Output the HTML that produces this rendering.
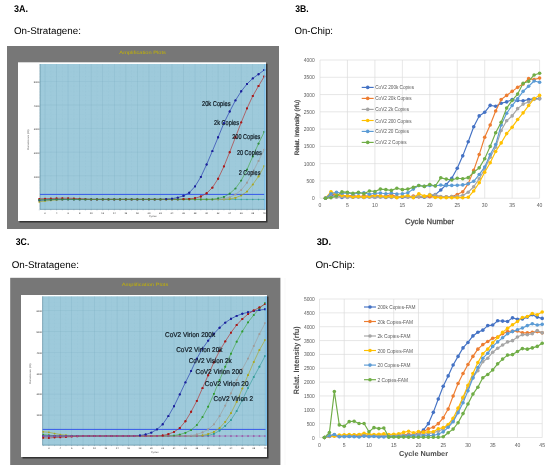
<!DOCTYPE html>
<html lang="en"><head><meta charset="utf-8"><title>Figure 3</title>
<style>
html,body{margin:0;padding:0;background:#fff;}
body{width:550px;height:473px;overflow:hidden;}
svg{display:block;}
svg text{font-family:"Liberation Sans",Arial,sans-serif;text-rendering:geometricPrecision;}
</style></head>
<body>
<svg width="550" height="473" viewBox="0 0 550 473">
<rect width="550" height="473" fill="#ffffff"/>
<text x="14" y="11.7" font-size="9.8" fill="#000" font-weight="bold" text-anchor="start" textLength="14" lengthAdjust="spacingAndGlyphs" >3A.</text>
<text x="14" y="34.4" font-size="9.8" fill="#000" font-weight="normal" text-anchor="start" textLength="66.9" lengthAdjust="spacingAndGlyphs" >On-Stratagene:</text>
<text x="295.3" y="11.7" font-size="9.8" fill="#000" font-weight="bold" text-anchor="start" textLength="13.4" lengthAdjust="spacingAndGlyphs" >3B.</text>
<text x="294.5" y="34.4" font-size="9.8" fill="#000" font-weight="normal" text-anchor="start" textLength="38.5" lengthAdjust="spacingAndGlyphs" >On-Chip:</text>
<text x="15.8" y="244.5" font-size="9.8" fill="#000" font-weight="bold" text-anchor="start" textLength="13.5" lengthAdjust="spacingAndGlyphs" >3C.</text>
<text x="11.7" y="268" font-size="9.8" fill="#000" font-weight="normal" text-anchor="start" textLength="67.2" lengthAdjust="spacingAndGlyphs" >On-Stratagene:</text>
<text x="316.7" y="244.5" font-size="9.8" fill="#000" font-weight="bold" text-anchor="start" textLength="14.5" lengthAdjust="spacingAndGlyphs" >3D.</text>
<text x="315.4" y="268" font-size="9.8" fill="#000" font-weight="normal" text-anchor="start" textLength="39.5" lengthAdjust="spacingAndGlyphs" >On-Chip:</text>
<rect x="7" y="46" width="272" height="183" fill="#777777"/>
<rect x="19.5" y="63.8" width="248" height="158.7" fill="#333"/>
<rect x="18" y="62.3" width="248" height="158.7" fill="#ffffff"/>
<rect x="40" y="64" width="225.60000000000002" height="145.4" fill="#9ecadb"/>
<text x="142.6" y="54" font-size="4.6" fill="#c4b400" font-weight="normal" text-anchor="middle" textLength="46.5" lengthAdjust="spacingAndGlyphs" >Amplification Plots</text>
<line x1="39.27" y1="64" x2="39.27" y2="209.4" stroke="#7fb0c4" stroke-width="0.4" stroke-dasharray="0.6 0.9" opacity="0.4"/>
<line x1="45.04" y1="64" x2="45.04" y2="209.4" stroke="#6fa3b8" stroke-width="0.45" opacity="0.5"/>
<line x1="50.81" y1="64" x2="50.81" y2="209.4" stroke="#7fb0c4" stroke-width="0.4" stroke-dasharray="0.6 0.9" opacity="0.4"/>
<line x1="56.58" y1="64" x2="56.58" y2="209.4" stroke="#6fa3b8" stroke-width="0.45" opacity="0.5"/>
<line x1="62.35" y1="64" x2="62.35" y2="209.4" stroke="#7fb0c4" stroke-width="0.4" stroke-dasharray="0.6 0.9" opacity="0.4"/>
<line x1="68.12" y1="64" x2="68.12" y2="209.4" stroke="#6fa3b8" stroke-width="0.45" opacity="0.5"/>
<line x1="73.89" y1="64" x2="73.89" y2="209.4" stroke="#7fb0c4" stroke-width="0.4" stroke-dasharray="0.6 0.9" opacity="0.4"/>
<line x1="79.66" y1="64" x2="79.66" y2="209.4" stroke="#6fa3b8" stroke-width="0.45" opacity="0.5"/>
<line x1="85.43" y1="64" x2="85.43" y2="209.4" stroke="#7fb0c4" stroke-width="0.4" stroke-dasharray="0.6 0.9" opacity="0.4"/>
<line x1="91.20" y1="64" x2="91.20" y2="209.4" stroke="#6fa3b8" stroke-width="0.45" opacity="0.5"/>
<line x1="96.97" y1="64" x2="96.97" y2="209.4" stroke="#7fb0c4" stroke-width="0.4" stroke-dasharray="0.6 0.9" opacity="0.4"/>
<line x1="102.74" y1="64" x2="102.74" y2="209.4" stroke="#6fa3b8" stroke-width="0.45" opacity="0.5"/>
<line x1="108.51" y1="64" x2="108.51" y2="209.4" stroke="#7fb0c4" stroke-width="0.4" stroke-dasharray="0.6 0.9" opacity="0.4"/>
<line x1="114.28" y1="64" x2="114.28" y2="209.4" stroke="#6fa3b8" stroke-width="0.45" opacity="0.5"/>
<line x1="120.05" y1="64" x2="120.05" y2="209.4" stroke="#7fb0c4" stroke-width="0.4" stroke-dasharray="0.6 0.9" opacity="0.4"/>
<line x1="125.82" y1="64" x2="125.82" y2="209.4" stroke="#6fa3b8" stroke-width="0.45" opacity="0.5"/>
<line x1="131.59" y1="64" x2="131.59" y2="209.4" stroke="#7fb0c4" stroke-width="0.4" stroke-dasharray="0.6 0.9" opacity="0.4"/>
<line x1="137.36" y1="64" x2="137.36" y2="209.4" stroke="#6fa3b8" stroke-width="0.45" opacity="0.5"/>
<line x1="143.13" y1="64" x2="143.13" y2="209.4" stroke="#7fb0c4" stroke-width="0.4" stroke-dasharray="0.6 0.9" opacity="0.4"/>
<line x1="148.90" y1="64" x2="148.90" y2="209.4" stroke="#6fa3b8" stroke-width="0.45" opacity="0.5"/>
<line x1="154.67" y1="64" x2="154.67" y2="209.4" stroke="#7fb0c4" stroke-width="0.4" stroke-dasharray="0.6 0.9" opacity="0.4"/>
<line x1="160.44" y1="64" x2="160.44" y2="209.4" stroke="#6fa3b8" stroke-width="0.45" opacity="0.5"/>
<line x1="166.21" y1="64" x2="166.21" y2="209.4" stroke="#7fb0c4" stroke-width="0.4" stroke-dasharray="0.6 0.9" opacity="0.4"/>
<line x1="171.98" y1="64" x2="171.98" y2="209.4" stroke="#6fa3b8" stroke-width="0.45" opacity="0.5"/>
<line x1="177.75" y1="64" x2="177.75" y2="209.4" stroke="#7fb0c4" stroke-width="0.4" stroke-dasharray="0.6 0.9" opacity="0.4"/>
<line x1="183.52" y1="64" x2="183.52" y2="209.4" stroke="#6fa3b8" stroke-width="0.45" opacity="0.5"/>
<line x1="189.29" y1="64" x2="189.29" y2="209.4" stroke="#7fb0c4" stroke-width="0.4" stroke-dasharray="0.6 0.9" opacity="0.4"/>
<line x1="195.06" y1="64" x2="195.06" y2="209.4" stroke="#6fa3b8" stroke-width="0.45" opacity="0.5"/>
<line x1="200.83" y1="64" x2="200.83" y2="209.4" stroke="#7fb0c4" stroke-width="0.4" stroke-dasharray="0.6 0.9" opacity="0.4"/>
<line x1="206.60" y1="64" x2="206.60" y2="209.4" stroke="#6fa3b8" stroke-width="0.45" opacity="0.5"/>
<line x1="212.37" y1="64" x2="212.37" y2="209.4" stroke="#7fb0c4" stroke-width="0.4" stroke-dasharray="0.6 0.9" opacity="0.4"/>
<line x1="218.14" y1="64" x2="218.14" y2="209.4" stroke="#6fa3b8" stroke-width="0.45" opacity="0.5"/>
<line x1="223.91" y1="64" x2="223.91" y2="209.4" stroke="#7fb0c4" stroke-width="0.4" stroke-dasharray="0.6 0.9" opacity="0.4"/>
<line x1="229.68" y1="64" x2="229.68" y2="209.4" stroke="#6fa3b8" stroke-width="0.45" opacity="0.5"/>
<line x1="235.45" y1="64" x2="235.45" y2="209.4" stroke="#7fb0c4" stroke-width="0.4" stroke-dasharray="0.6 0.9" opacity="0.4"/>
<line x1="241.22" y1="64" x2="241.22" y2="209.4" stroke="#6fa3b8" stroke-width="0.45" opacity="0.5"/>
<line x1="246.99" y1="64" x2="246.99" y2="209.4" stroke="#7fb0c4" stroke-width="0.4" stroke-dasharray="0.6 0.9" opacity="0.4"/>
<line x1="252.76" y1="64" x2="252.76" y2="209.4" stroke="#6fa3b8" stroke-width="0.45" opacity="0.5"/>
<line x1="258.53" y1="64" x2="258.53" y2="209.4" stroke="#7fb0c4" stroke-width="0.4" stroke-dasharray="0.6 0.9" opacity="0.4"/>
<line x1="264.30" y1="64" x2="264.30" y2="209.4" stroke="#6fa3b8" stroke-width="0.45" opacity="0.5"/>
<line x1="40" y1="208.84" x2="265.6" y2="208.84" stroke="#86b6c9" stroke-width="0.35" stroke-dasharray="0.6 0.9" opacity="0.3"/>
<line x1="40" y1="204.12" x2="265.6" y2="204.12" stroke="#86b6c9" stroke-width="0.35" stroke-dasharray="0.6 0.9" opacity="0.3"/>
<line x1="40" y1="199.40" x2="265.6" y2="199.40" stroke="#6fa3b8" stroke-width="0.45" opacity="0.4"/>
<line x1="40" y1="194.68" x2="265.6" y2="194.68" stroke="#86b6c9" stroke-width="0.35" stroke-dasharray="0.6 0.9" opacity="0.3"/>
<line x1="40" y1="189.96" x2="265.6" y2="189.96" stroke="#86b6c9" stroke-width="0.35" stroke-dasharray="0.6 0.9" opacity="0.3"/>
<line x1="40" y1="185.24" x2="265.6" y2="185.24" stroke="#86b6c9" stroke-width="0.35" stroke-dasharray="0.6 0.9" opacity="0.3"/>
<line x1="40" y1="180.52" x2="265.6" y2="180.52" stroke="#86b6c9" stroke-width="0.35" stroke-dasharray="0.6 0.9" opacity="0.3"/>
<line x1="40" y1="175.80" x2="265.6" y2="175.80" stroke="#6fa3b8" stroke-width="0.45" opacity="0.4"/>
<line x1="40" y1="171.08" x2="265.6" y2="171.08" stroke="#86b6c9" stroke-width="0.35" stroke-dasharray="0.6 0.9" opacity="0.3"/>
<line x1="40" y1="166.36" x2="265.6" y2="166.36" stroke="#86b6c9" stroke-width="0.35" stroke-dasharray="0.6 0.9" opacity="0.3"/>
<line x1="40" y1="161.64" x2="265.6" y2="161.64" stroke="#86b6c9" stroke-width="0.35" stroke-dasharray="0.6 0.9" opacity="0.3"/>
<line x1="40" y1="156.92" x2="265.6" y2="156.92" stroke="#86b6c9" stroke-width="0.35" stroke-dasharray="0.6 0.9" opacity="0.3"/>
<line x1="40" y1="152.20" x2="265.6" y2="152.20" stroke="#6fa3b8" stroke-width="0.45" opacity="0.4"/>
<line x1="40" y1="147.48" x2="265.6" y2="147.48" stroke="#86b6c9" stroke-width="0.35" stroke-dasharray="0.6 0.9" opacity="0.3"/>
<line x1="40" y1="142.76" x2="265.6" y2="142.76" stroke="#86b6c9" stroke-width="0.35" stroke-dasharray="0.6 0.9" opacity="0.3"/>
<line x1="40" y1="138.04" x2="265.6" y2="138.04" stroke="#86b6c9" stroke-width="0.35" stroke-dasharray="0.6 0.9" opacity="0.3"/>
<line x1="40" y1="133.32" x2="265.6" y2="133.32" stroke="#86b6c9" stroke-width="0.35" stroke-dasharray="0.6 0.9" opacity="0.3"/>
<line x1="40" y1="128.60" x2="265.6" y2="128.60" stroke="#6fa3b8" stroke-width="0.45" opacity="0.4"/>
<line x1="40" y1="123.88" x2="265.6" y2="123.88" stroke="#86b6c9" stroke-width="0.35" stroke-dasharray="0.6 0.9" opacity="0.3"/>
<line x1="40" y1="119.16" x2="265.6" y2="119.16" stroke="#86b6c9" stroke-width="0.35" stroke-dasharray="0.6 0.9" opacity="0.3"/>
<line x1="40" y1="114.44" x2="265.6" y2="114.44" stroke="#86b6c9" stroke-width="0.35" stroke-dasharray="0.6 0.9" opacity="0.3"/>
<line x1="40" y1="109.72" x2="265.6" y2="109.72" stroke="#86b6c9" stroke-width="0.35" stroke-dasharray="0.6 0.9" opacity="0.3"/>
<line x1="40" y1="105.00" x2="265.6" y2="105.00" stroke="#6fa3b8" stroke-width="0.45" opacity="0.4"/>
<line x1="40" y1="100.28" x2="265.6" y2="100.28" stroke="#86b6c9" stroke-width="0.35" stroke-dasharray="0.6 0.9" opacity="0.3"/>
<line x1="40" y1="95.56" x2="265.6" y2="95.56" stroke="#86b6c9" stroke-width="0.35" stroke-dasharray="0.6 0.9" opacity="0.3"/>
<line x1="40" y1="90.84" x2="265.6" y2="90.84" stroke="#86b6c9" stroke-width="0.35" stroke-dasharray="0.6 0.9" opacity="0.3"/>
<line x1="40" y1="86.12" x2="265.6" y2="86.12" stroke="#86b6c9" stroke-width="0.35" stroke-dasharray="0.6 0.9" opacity="0.3"/>
<line x1="40" y1="81.40" x2="265.6" y2="81.40" stroke="#6fa3b8" stroke-width="0.45" opacity="0.4"/>
<line x1="40" y1="76.68" x2="265.6" y2="76.68" stroke="#86b6c9" stroke-width="0.35" stroke-dasharray="0.6 0.9" opacity="0.3"/>
<line x1="40" y1="71.96" x2="265.6" y2="71.96" stroke="#86b6c9" stroke-width="0.35" stroke-dasharray="0.6 0.9" opacity="0.3"/>
<line x1="40" y1="67.24" x2="265.6" y2="67.24" stroke="#86b6c9" stroke-width="0.35" stroke-dasharray="0.6 0.9" opacity="0.3"/>
<line x1="40" y1="64" x2="40" y2="209.4" stroke="#4d7f95" stroke-width="0.6"/>
<line x1="40" y1="209.4" x2="265.6" y2="209.4" stroke="#4d7f95" stroke-width="0.6"/>
<text x="39.4" y="177.50000000000003" font-size="2.5" fill="#333" font-weight="normal" text-anchor="end" >1000</text>
<text x="39.4" y="153.9" font-size="2.5" fill="#333" font-weight="normal" text-anchor="end" >2000</text>
<text x="39.4" y="130.3" font-size="2.5" fill="#333" font-weight="normal" text-anchor="end" >3000</text>
<text x="39.4" y="106.7" font-size="2.5" fill="#333" font-weight="normal" text-anchor="end" >4000</text>
<text x="39.4" y="83.10000000000001" font-size="2.5" fill="#333" font-weight="normal" text-anchor="end" >5000</text>
<text x="45.04" y="213.5" font-size="2.5" fill="#333" font-weight="normal" text-anchor="middle" >2</text>
<text x="56.58" y="213.5" font-size="2.5" fill="#333" font-weight="normal" text-anchor="middle" >4</text>
<text x="68.12" y="213.5" font-size="2.5" fill="#333" font-weight="normal" text-anchor="middle" >6</text>
<text x="79.66" y="213.5" font-size="2.5" fill="#333" font-weight="normal" text-anchor="middle" >8</text>
<text x="91.20" y="213.5" font-size="2.5" fill="#333" font-weight="normal" text-anchor="middle" >10</text>
<text x="102.74" y="213.5" font-size="2.5" fill="#333" font-weight="normal" text-anchor="middle" >12</text>
<text x="114.28" y="213.5" font-size="2.5" fill="#333" font-weight="normal" text-anchor="middle" >14</text>
<text x="125.82" y="213.5" font-size="2.5" fill="#333" font-weight="normal" text-anchor="middle" >16</text>
<text x="137.36" y="213.5" font-size="2.5" fill="#333" font-weight="normal" text-anchor="middle" >18</text>
<text x="148.90" y="213.5" font-size="2.5" fill="#333" font-weight="normal" text-anchor="middle" >20</text>
<text x="160.44" y="213.5" font-size="2.5" fill="#333" font-weight="normal" text-anchor="middle" >22</text>
<text x="171.98" y="213.5" font-size="2.5" fill="#333" font-weight="normal" text-anchor="middle" >24</text>
<text x="183.52" y="213.5" font-size="2.5" fill="#333" font-weight="normal" text-anchor="middle" >26</text>
<text x="195.06" y="213.5" font-size="2.5" fill="#333" font-weight="normal" text-anchor="middle" >28</text>
<text x="206.60" y="213.5" font-size="2.5" fill="#333" font-weight="normal" text-anchor="middle" >30</text>
<text x="218.14" y="213.5" font-size="2.5" fill="#333" font-weight="normal" text-anchor="middle" >32</text>
<text x="229.68" y="213.5" font-size="2.5" fill="#333" font-weight="normal" text-anchor="middle" >34</text>
<text x="241.22" y="213.5" font-size="2.5" fill="#333" font-weight="normal" text-anchor="middle" >36</text>
<text x="252.76" y="213.5" font-size="2.5" fill="#333" font-weight="normal" text-anchor="middle" >38</text>
<text x="264.30" y="213.5" font-size="2.5" fill="#333" font-weight="normal" text-anchor="middle" >40</text>
<line x1="39.27" y1="209.4" x2="39.27" y2="210.3" stroke="#4d7f95" stroke-width="0.4"/>
<line x1="45.04" y1="209.4" x2="45.04" y2="210.3" stroke="#4d7f95" stroke-width="0.4"/>
<line x1="50.81" y1="209.4" x2="50.81" y2="210.3" stroke="#4d7f95" stroke-width="0.4"/>
<line x1="56.58" y1="209.4" x2="56.58" y2="210.3" stroke="#4d7f95" stroke-width="0.4"/>
<line x1="62.35" y1="209.4" x2="62.35" y2="210.3" stroke="#4d7f95" stroke-width="0.4"/>
<line x1="68.12" y1="209.4" x2="68.12" y2="210.3" stroke="#4d7f95" stroke-width="0.4"/>
<line x1="73.89" y1="209.4" x2="73.89" y2="210.3" stroke="#4d7f95" stroke-width="0.4"/>
<line x1="79.66" y1="209.4" x2="79.66" y2="210.3" stroke="#4d7f95" stroke-width="0.4"/>
<line x1="85.43" y1="209.4" x2="85.43" y2="210.3" stroke="#4d7f95" stroke-width="0.4"/>
<line x1="91.20" y1="209.4" x2="91.20" y2="210.3" stroke="#4d7f95" stroke-width="0.4"/>
<line x1="96.97" y1="209.4" x2="96.97" y2="210.3" stroke="#4d7f95" stroke-width="0.4"/>
<line x1="102.74" y1="209.4" x2="102.74" y2="210.3" stroke="#4d7f95" stroke-width="0.4"/>
<line x1="108.51" y1="209.4" x2="108.51" y2="210.3" stroke="#4d7f95" stroke-width="0.4"/>
<line x1="114.28" y1="209.4" x2="114.28" y2="210.3" stroke="#4d7f95" stroke-width="0.4"/>
<line x1="120.05" y1="209.4" x2="120.05" y2="210.3" stroke="#4d7f95" stroke-width="0.4"/>
<line x1="125.82" y1="209.4" x2="125.82" y2="210.3" stroke="#4d7f95" stroke-width="0.4"/>
<line x1="131.59" y1="209.4" x2="131.59" y2="210.3" stroke="#4d7f95" stroke-width="0.4"/>
<line x1="137.36" y1="209.4" x2="137.36" y2="210.3" stroke="#4d7f95" stroke-width="0.4"/>
<line x1="143.13" y1="209.4" x2="143.13" y2="210.3" stroke="#4d7f95" stroke-width="0.4"/>
<line x1="148.90" y1="209.4" x2="148.90" y2="210.3" stroke="#4d7f95" stroke-width="0.4"/>
<line x1="154.67" y1="209.4" x2="154.67" y2="210.3" stroke="#4d7f95" stroke-width="0.4"/>
<line x1="160.44" y1="209.4" x2="160.44" y2="210.3" stroke="#4d7f95" stroke-width="0.4"/>
<line x1="166.21" y1="209.4" x2="166.21" y2="210.3" stroke="#4d7f95" stroke-width="0.4"/>
<line x1="171.98" y1="209.4" x2="171.98" y2="210.3" stroke="#4d7f95" stroke-width="0.4"/>
<line x1="177.75" y1="209.4" x2="177.75" y2="210.3" stroke="#4d7f95" stroke-width="0.4"/>
<line x1="183.52" y1="209.4" x2="183.52" y2="210.3" stroke="#4d7f95" stroke-width="0.4"/>
<line x1="189.29" y1="209.4" x2="189.29" y2="210.3" stroke="#4d7f95" stroke-width="0.4"/>
<line x1="195.06" y1="209.4" x2="195.06" y2="210.3" stroke="#4d7f95" stroke-width="0.4"/>
<line x1="200.83" y1="209.4" x2="200.83" y2="210.3" stroke="#4d7f95" stroke-width="0.4"/>
<line x1="206.60" y1="209.4" x2="206.60" y2="210.3" stroke="#4d7f95" stroke-width="0.4"/>
<line x1="212.37" y1="209.4" x2="212.37" y2="210.3" stroke="#4d7f95" stroke-width="0.4"/>
<line x1="218.14" y1="209.4" x2="218.14" y2="210.3" stroke="#4d7f95" stroke-width="0.4"/>
<line x1="223.91" y1="209.4" x2="223.91" y2="210.3" stroke="#4d7f95" stroke-width="0.4"/>
<line x1="229.68" y1="209.4" x2="229.68" y2="210.3" stroke="#4d7f95" stroke-width="0.4"/>
<line x1="235.45" y1="209.4" x2="235.45" y2="210.3" stroke="#4d7f95" stroke-width="0.4"/>
<line x1="241.22" y1="209.4" x2="241.22" y2="210.3" stroke="#4d7f95" stroke-width="0.4"/>
<line x1="246.99" y1="209.4" x2="246.99" y2="210.3" stroke="#4d7f95" stroke-width="0.4"/>
<line x1="252.76" y1="209.4" x2="252.76" y2="210.3" stroke="#4d7f95" stroke-width="0.4"/>
<line x1="258.53" y1="209.4" x2="258.53" y2="210.3" stroke="#4d7f95" stroke-width="0.4"/>
<line x1="264.30" y1="209.4" x2="264.30" y2="210.3" stroke="#4d7f95" stroke-width="0.4"/>
<text x="0" y="0" font-size="2.5" fill="#555" font-weight="normal" text-anchor="middle" transform="translate(28.5,139.7) rotate(-90)">Fluorescence (dR)</text>
<text x="152.8" y="217" font-size="2.5" fill="#555" font-weight="normal" text-anchor="middle" >Cycles</text>
<line x1="40" y1="194.4" x2="264.6" y2="194.4" stroke="#3558ea" stroke-width="1.0"/>
<polyline points="39.27,199.40 45.04,199.40 50.81,199.40 56.58,199.40 62.35,199.40 68.12,199.40 73.89,199.40 79.66,199.40 85.43,199.40 91.20,199.40 96.97,199.40 102.74,199.40 108.51,199.40 114.28,199.40 120.05,199.40 125.82,199.40 131.59,199.40 137.36,199.40 143.13,199.40 148.90,199.40 154.67,199.40 160.44,199.40 166.21,199.40 171.98,199.40 177.75,199.40 183.52,199.40 189.29,199.40 195.06,199.40 200.83,199.40 206.60,199.40 212.37,199.40 218.14,199.40 223.91,199.40 229.68,199.40 235.45,199.40 241.22,199.40 246.99,199.40 252.76,199.40 258.53,199.40 264.30,199.40" fill="none" stroke="#3fa39e" stroke-width="0.6" stroke-linejoin="round"/>
<rect x="38.52" y="198.65" width="1.5" height="1.5" rx="0.6" fill="#3a9f9a"/>
<rect x="44.29" y="198.65" width="1.5" height="1.5" rx="0.6" fill="#3a9f9a"/>
<rect x="50.06" y="198.65" width="1.5" height="1.5" rx="0.6" fill="#3a9f9a"/>
<rect x="55.83" y="198.65" width="1.5" height="1.5" rx="0.6" fill="#3a9f9a"/>
<rect x="61.60" y="198.65" width="1.5" height="1.5" rx="0.6" fill="#3a9f9a"/>
<rect x="67.37" y="198.65" width="1.5" height="1.5" rx="0.6" fill="#3a9f9a"/>
<rect x="73.14" y="198.65" width="1.5" height="1.5" rx="0.6" fill="#3a9f9a"/>
<rect x="78.91" y="198.65" width="1.5" height="1.5" rx="0.6" fill="#3a9f9a"/>
<rect x="84.68" y="198.65" width="1.5" height="1.5" rx="0.6" fill="#3a9f9a"/>
<rect x="90.45" y="198.65" width="1.5" height="1.5" rx="0.6" fill="#3a9f9a"/>
<rect x="96.22" y="198.65" width="1.5" height="1.5" rx="0.6" fill="#3a9f9a"/>
<rect x="101.99" y="198.65" width="1.5" height="1.5" rx="0.6" fill="#3a9f9a"/>
<rect x="107.76" y="198.65" width="1.5" height="1.5" rx="0.6" fill="#3a9f9a"/>
<rect x="113.53" y="198.65" width="1.5" height="1.5" rx="0.6" fill="#3a9f9a"/>
<rect x="119.30" y="198.65" width="1.5" height="1.5" rx="0.6" fill="#3a9f9a"/>
<rect x="125.07" y="198.65" width="1.5" height="1.5" rx="0.6" fill="#3a9f9a"/>
<rect x="130.84" y="198.65" width="1.5" height="1.5" rx="0.6" fill="#3a9f9a"/>
<rect x="136.61" y="198.65" width="1.5" height="1.5" rx="0.6" fill="#3a9f9a"/>
<rect x="142.38" y="198.65" width="1.5" height="1.5" rx="0.6" fill="#3a9f9a"/>
<rect x="148.15" y="198.65" width="1.5" height="1.5" rx="0.6" fill="#3a9f9a"/>
<rect x="153.92" y="198.65" width="1.5" height="1.5" rx="0.6" fill="#3a9f9a"/>
<rect x="159.69" y="198.65" width="1.5" height="1.5" rx="0.6" fill="#3a9f9a"/>
<rect x="165.46" y="198.65" width="1.5" height="1.5" rx="0.6" fill="#3a9f9a"/>
<rect x="171.23" y="198.65" width="1.5" height="1.5" rx="0.6" fill="#3a9f9a"/>
<rect x="177.00" y="198.65" width="1.5" height="1.5" rx="0.6" fill="#3a9f9a"/>
<rect x="182.77" y="198.65" width="1.5" height="1.5" rx="0.6" fill="#3a9f9a"/>
<rect x="188.54" y="198.65" width="1.5" height="1.5" rx="0.6" fill="#3a9f9a"/>
<rect x="194.31" y="198.65" width="1.5" height="1.5" rx="0.6" fill="#3a9f9a"/>
<rect x="200.08" y="198.65" width="1.5" height="1.5" rx="0.6" fill="#3a9f9a"/>
<rect x="205.85" y="198.65" width="1.5" height="1.5" rx="0.6" fill="#3a9f9a"/>
<rect x="211.62" y="198.65" width="1.5" height="1.5" rx="0.6" fill="#3a9f9a"/>
<rect x="217.39" y="198.65" width="1.5" height="1.5" rx="0.6" fill="#3a9f9a"/>
<rect x="223.16" y="198.65" width="1.5" height="1.5" rx="0.6" fill="#3a9f9a"/>
<rect x="228.93" y="198.65" width="1.5" height="1.5" rx="0.6" fill="#3a9f9a"/>
<rect x="234.70" y="198.65" width="1.5" height="1.5" rx="0.6" fill="#3a9f9a"/>
<rect x="240.47" y="198.65" width="1.5" height="1.5" rx="0.6" fill="#3a9f9a"/>
<rect x="246.24" y="198.65" width="1.5" height="1.5" rx="0.6" fill="#3a9f9a"/>
<rect x="252.01" y="198.65" width="1.5" height="1.5" rx="0.6" fill="#3a9f9a"/>
<rect x="257.78" y="198.65" width="1.5" height="1.5" rx="0.6" fill="#3a9f9a"/>
<rect x="263.55" y="198.65" width="1.5" height="1.5" rx="0.6" fill="#3a9f9a"/>
<polyline points="39.27,201.80 45.04,201.00 50.81,200.40 56.58,199.90 62.35,199.60 68.12,199.40 73.89,199.40 79.66,199.40 85.43,199.40 91.20,199.40 96.97,199.40 102.74,199.40 108.51,199.40 114.28,199.40 120.05,199.40 125.82,199.40 131.59,199.40 137.36,199.40 143.13,199.40 148.90,199.40 154.67,199.40 160.44,199.40 166.21,199.40 171.98,199.40 177.75,199.40 183.52,199.40 189.29,199.40 195.06,199.40 200.83,199.40 206.60,199.40 212.37,199.40 218.14,199.40 223.91,199.40 229.68,199.00 235.45,197.80 241.22,195.50 246.99,191.50 252.76,184.50 258.53,176.40 264.30,166.00" fill="none" stroke="#a9a51e" stroke-width="0.6" stroke-linejoin="round"/>
<rect x="38.42" y="200.95" width="1.7" height="1.7" rx="0.6" fill="#a9a51e"/>
<rect x="44.19" y="200.15" width="1.7" height="1.7" rx="0.6" fill="#a9a51e"/>
<rect x="49.96" y="199.55" width="1.7" height="1.7" rx="0.6" fill="#a9a51e"/>
<rect x="55.73" y="199.05" width="1.7" height="1.7" rx="0.6" fill="#a9a51e"/>
<rect x="61.50" y="198.75" width="1.7" height="1.7" rx="0.6" fill="#a9a51e"/>
<rect x="67.27" y="198.55" width="1.7" height="1.7" rx="0.6" fill="#a9a51e"/>
<rect x="73.04" y="198.55" width="1.7" height="1.7" rx="0.6" fill="#a9a51e"/>
<rect x="78.81" y="198.55" width="1.7" height="1.7" rx="0.6" fill="#a9a51e"/>
<rect x="84.58" y="198.55" width="1.7" height="1.7" rx="0.6" fill="#a9a51e"/>
<rect x="90.35" y="198.55" width="1.7" height="1.7" rx="0.6" fill="#a9a51e"/>
<rect x="96.12" y="198.55" width="1.7" height="1.7" rx="0.6" fill="#a9a51e"/>
<rect x="101.89" y="198.55" width="1.7" height="1.7" rx="0.6" fill="#a9a51e"/>
<rect x="107.66" y="198.55" width="1.7" height="1.7" rx="0.6" fill="#a9a51e"/>
<rect x="113.43" y="198.55" width="1.7" height="1.7" rx="0.6" fill="#a9a51e"/>
<rect x="119.20" y="198.55" width="1.7" height="1.7" rx="0.6" fill="#a9a51e"/>
<rect x="124.97" y="198.55" width="1.7" height="1.7" rx="0.6" fill="#a9a51e"/>
<rect x="130.74" y="198.55" width="1.7" height="1.7" rx="0.6" fill="#a9a51e"/>
<rect x="136.51" y="198.55" width="1.7" height="1.7" rx="0.6" fill="#a9a51e"/>
<rect x="142.28" y="198.55" width="1.7" height="1.7" rx="0.6" fill="#a9a51e"/>
<rect x="148.05" y="198.55" width="1.7" height="1.7" rx="0.6" fill="#a9a51e"/>
<rect x="153.82" y="198.55" width="1.7" height="1.7" rx="0.6" fill="#a9a51e"/>
<rect x="159.59" y="198.55" width="1.7" height="1.7" rx="0.6" fill="#a9a51e"/>
<rect x="165.36" y="198.55" width="1.7" height="1.7" rx="0.6" fill="#a9a51e"/>
<rect x="171.13" y="198.55" width="1.7" height="1.7" rx="0.6" fill="#a9a51e"/>
<rect x="176.90" y="198.55" width="1.7" height="1.7" rx="0.6" fill="#a9a51e"/>
<rect x="182.67" y="198.55" width="1.7" height="1.7" rx="0.6" fill="#a9a51e"/>
<rect x="188.44" y="198.55" width="1.7" height="1.7" rx="0.6" fill="#a9a51e"/>
<rect x="194.21" y="198.55" width="1.7" height="1.7" rx="0.6" fill="#a9a51e"/>
<rect x="199.98" y="198.55" width="1.7" height="1.7" rx="0.6" fill="#a9a51e"/>
<rect x="205.75" y="198.55" width="1.7" height="1.7" rx="0.6" fill="#a9a51e"/>
<rect x="211.52" y="198.55" width="1.7" height="1.7" rx="0.6" fill="#a9a51e"/>
<rect x="217.29" y="198.55" width="1.7" height="1.7" rx="0.6" fill="#a9a51e"/>
<rect x="223.06" y="198.55" width="1.7" height="1.7" rx="0.6" fill="#a9a51e"/>
<rect x="228.83" y="198.15" width="1.7" height="1.7" rx="0.6" fill="#a9a51e"/>
<rect x="234.60" y="196.95" width="1.7" height="1.7" rx="0.6" fill="#a9a51e"/>
<rect x="240.37" y="194.65" width="1.7" height="1.7" rx="0.6" fill="#a9a51e"/>
<rect x="246.14" y="190.65" width="1.7" height="1.7" rx="0.6" fill="#a9a51e"/>
<rect x="251.91" y="183.65" width="1.7" height="1.7" rx="0.6" fill="#a9a51e"/>
<rect x="257.68" y="175.55" width="1.7" height="1.7" rx="0.6" fill="#a9a51e"/>
<rect x="263.45" y="165.15" width="1.7" height="1.7" rx="0.6" fill="#a9a51e"/>
<polyline points="39.27,199.40 45.04,199.40 50.81,199.40 56.58,199.40 62.35,199.40 68.12,199.40 73.89,199.40 79.66,199.40 85.43,199.40 91.20,199.40 96.97,199.40 102.74,199.40 108.51,199.40 114.28,199.40 120.05,199.40 125.82,199.40 131.59,199.40 137.36,199.40 143.13,199.40 148.90,199.40 154.67,199.40 160.44,199.40 166.21,199.40 171.98,199.40 177.75,199.40 183.52,199.40 189.29,199.40 195.06,199.40 200.83,199.40 206.60,199.40 212.37,199.40 218.14,199.40 223.91,198.70 229.68,197.30 235.45,194.50 241.22,190.00 246.99,182.70 252.76,172.20 258.53,160.90 264.30,149.60" fill="none" stroke="#a09a98" stroke-width="0.6" stroke-linejoin="round"/>
<rect x="38.42" y="198.55" width="1.7" height="1.7" rx="0.6" fill="#a09a98"/>
<rect x="44.19" y="198.55" width="1.7" height="1.7" rx="0.6" fill="#a09a98"/>
<rect x="49.96" y="198.55" width="1.7" height="1.7" rx="0.6" fill="#a09a98"/>
<rect x="55.73" y="198.55" width="1.7" height="1.7" rx="0.6" fill="#a09a98"/>
<rect x="61.50" y="198.55" width="1.7" height="1.7" rx="0.6" fill="#a09a98"/>
<rect x="67.27" y="198.55" width="1.7" height="1.7" rx="0.6" fill="#a09a98"/>
<rect x="73.04" y="198.55" width="1.7" height="1.7" rx="0.6" fill="#a09a98"/>
<rect x="78.81" y="198.55" width="1.7" height="1.7" rx="0.6" fill="#a09a98"/>
<rect x="84.58" y="198.55" width="1.7" height="1.7" rx="0.6" fill="#a09a98"/>
<rect x="90.35" y="198.55" width="1.7" height="1.7" rx="0.6" fill="#a09a98"/>
<rect x="96.12" y="198.55" width="1.7" height="1.7" rx="0.6" fill="#a09a98"/>
<rect x="101.89" y="198.55" width="1.7" height="1.7" rx="0.6" fill="#a09a98"/>
<rect x="107.66" y="198.55" width="1.7" height="1.7" rx="0.6" fill="#a09a98"/>
<rect x="113.43" y="198.55" width="1.7" height="1.7" rx="0.6" fill="#a09a98"/>
<rect x="119.20" y="198.55" width="1.7" height="1.7" rx="0.6" fill="#a09a98"/>
<rect x="124.97" y="198.55" width="1.7" height="1.7" rx="0.6" fill="#a09a98"/>
<rect x="130.74" y="198.55" width="1.7" height="1.7" rx="0.6" fill="#a09a98"/>
<rect x="136.51" y="198.55" width="1.7" height="1.7" rx="0.6" fill="#a09a98"/>
<rect x="142.28" y="198.55" width="1.7" height="1.7" rx="0.6" fill="#a09a98"/>
<rect x="148.05" y="198.55" width="1.7" height="1.7" rx="0.6" fill="#a09a98"/>
<rect x="153.82" y="198.55" width="1.7" height="1.7" rx="0.6" fill="#a09a98"/>
<rect x="159.59" y="198.55" width="1.7" height="1.7" rx="0.6" fill="#a09a98"/>
<rect x="165.36" y="198.55" width="1.7" height="1.7" rx="0.6" fill="#a09a98"/>
<rect x="171.13" y="198.55" width="1.7" height="1.7" rx="0.6" fill="#a09a98"/>
<rect x="176.90" y="198.55" width="1.7" height="1.7" rx="0.6" fill="#a09a98"/>
<rect x="182.67" y="198.55" width="1.7" height="1.7" rx="0.6" fill="#a09a98"/>
<rect x="188.44" y="198.55" width="1.7" height="1.7" rx="0.6" fill="#a09a98"/>
<rect x="194.21" y="198.55" width="1.7" height="1.7" rx="0.6" fill="#a09a98"/>
<rect x="199.98" y="198.55" width="1.7" height="1.7" rx="0.6" fill="#a09a98"/>
<rect x="205.75" y="198.55" width="1.7" height="1.7" rx="0.6" fill="#a09a98"/>
<rect x="211.52" y="198.55" width="1.7" height="1.7" rx="0.6" fill="#a09a98"/>
<rect x="217.29" y="198.55" width="1.7" height="1.7" rx="0.6" fill="#a09a98"/>
<rect x="223.06" y="197.85" width="1.7" height="1.7" rx="0.6" fill="#a09a98"/>
<rect x="228.83" y="196.45" width="1.7" height="1.7" rx="0.6" fill="#a09a98"/>
<rect x="234.60" y="193.65" width="1.7" height="1.7" rx="0.6" fill="#a09a98"/>
<rect x="240.37" y="189.15" width="1.7" height="1.7" rx="0.6" fill="#a09a98"/>
<rect x="246.14" y="181.85" width="1.7" height="1.7" rx="0.6" fill="#a09a98"/>
<rect x="251.91" y="171.35" width="1.7" height="1.7" rx="0.6" fill="#a09a98"/>
<rect x="257.68" y="160.05" width="1.7" height="1.7" rx="0.6" fill="#a09a98"/>
<rect x="263.45" y="148.75" width="1.7" height="1.7" rx="0.6" fill="#a09a98"/>
<polyline points="39.27,200.40 45.04,199.90 50.81,199.60 56.58,199.40 62.35,199.40 68.12,199.40 73.89,199.40 79.66,199.40 85.43,199.40 91.20,199.40 96.97,199.40 102.74,199.40 108.51,199.40 114.28,199.40 120.05,199.40 125.82,199.40 131.59,199.40 137.36,199.40 143.13,199.40 148.90,199.40 154.67,199.40 160.44,199.40 166.21,199.10 171.98,198.70 177.75,197.60 183.52,195.80 189.29,192.70 195.06,186.40 200.83,176.90 206.60,164.50 212.37,151.10 218.14,137.30 223.91,123.10 229.68,111.50 235.45,100.40 241.22,91.30 246.99,84.00 252.76,78.40 258.53,74.20 264.30,70.00" fill="none" stroke="#2a3fb0" stroke-width="0.7" stroke-linejoin="round"/>
<rect x="38.32" y="199.45" width="1.9" height="1.9" rx="0.6" fill="#1a1f9a"/>
<rect x="44.09" y="198.95" width="1.9" height="1.9" rx="0.6" fill="#1a1f9a"/>
<rect x="49.86" y="198.65" width="1.9" height="1.9" rx="0.6" fill="#1a1f9a"/>
<rect x="55.63" y="198.45" width="1.9" height="1.9" rx="0.6" fill="#1a1f9a"/>
<rect x="61.40" y="198.45" width="1.9" height="1.9" rx="0.6" fill="#1a1f9a"/>
<rect x="67.17" y="198.45" width="1.9" height="1.9" rx="0.6" fill="#1a1f9a"/>
<rect x="72.94" y="198.45" width="1.9" height="1.9" rx="0.6" fill="#1a1f9a"/>
<rect x="78.71" y="198.45" width="1.9" height="1.9" rx="0.6" fill="#1a1f9a"/>
<rect x="84.48" y="198.45" width="1.9" height="1.9" rx="0.6" fill="#1a1f9a"/>
<rect x="90.25" y="198.45" width="1.9" height="1.9" rx="0.6" fill="#1a1f9a"/>
<rect x="96.02" y="198.45" width="1.9" height="1.9" rx="0.6" fill="#1a1f9a"/>
<rect x="101.79" y="198.45" width="1.9" height="1.9" rx="0.6" fill="#1a1f9a"/>
<rect x="107.56" y="198.45" width="1.9" height="1.9" rx="0.6" fill="#1a1f9a"/>
<rect x="113.33" y="198.45" width="1.9" height="1.9" rx="0.6" fill="#1a1f9a"/>
<rect x="119.10" y="198.45" width="1.9" height="1.9" rx="0.6" fill="#1a1f9a"/>
<rect x="124.87" y="198.45" width="1.9" height="1.9" rx="0.6" fill="#1a1f9a"/>
<rect x="130.64" y="198.45" width="1.9" height="1.9" rx="0.6" fill="#1a1f9a"/>
<rect x="136.41" y="198.45" width="1.9" height="1.9" rx="0.6" fill="#1a1f9a"/>
<rect x="142.18" y="198.45" width="1.9" height="1.9" rx="0.6" fill="#1a1f9a"/>
<rect x="147.95" y="198.45" width="1.9" height="1.9" rx="0.6" fill="#1a1f9a"/>
<rect x="153.72" y="198.45" width="1.9" height="1.9" rx="0.6" fill="#1a1f9a"/>
<rect x="159.49" y="198.45" width="1.9" height="1.9" rx="0.6" fill="#1a1f9a"/>
<rect x="165.26" y="198.15" width="1.9" height="1.9" rx="0.6" fill="#1a1f9a"/>
<rect x="171.03" y="197.75" width="1.9" height="1.9" rx="0.6" fill="#1a1f9a"/>
<rect x="176.80" y="196.65" width="1.9" height="1.9" rx="0.6" fill="#1a1f9a"/>
<rect x="182.57" y="194.85" width="1.9" height="1.9" rx="0.6" fill="#1a1f9a"/>
<rect x="188.34" y="191.75" width="1.9" height="1.9" rx="0.6" fill="#1a1f9a"/>
<rect x="194.11" y="185.45" width="1.9" height="1.9" rx="0.6" fill="#1a1f9a"/>
<rect x="199.88" y="175.95" width="1.9" height="1.9" rx="0.6" fill="#1a1f9a"/>
<rect x="205.65" y="163.55" width="1.9" height="1.9" rx="0.6" fill="#1a1f9a"/>
<rect x="211.42" y="150.15" width="1.9" height="1.9" rx="0.6" fill="#1a1f9a"/>
<rect x="217.19" y="136.35" width="1.9" height="1.9" rx="0.6" fill="#1a1f9a"/>
<rect x="222.96" y="122.15" width="1.9" height="1.9" rx="0.6" fill="#1a1f9a"/>
<rect x="228.73" y="110.55" width="1.9" height="1.9" rx="0.6" fill="#1a1f9a"/>
<rect x="234.50" y="99.45" width="1.9" height="1.9" rx="0.6" fill="#1a1f9a"/>
<rect x="240.27" y="90.35" width="1.9" height="1.9" rx="0.6" fill="#1a1f9a"/>
<rect x="246.04" y="83.05" width="1.9" height="1.9" rx="0.6" fill="#1a1f9a"/>
<rect x="251.81" y="77.45" width="1.9" height="1.9" rx="0.6" fill="#1a1f9a"/>
<rect x="257.58" y="73.25" width="1.9" height="1.9" rx="0.6" fill="#1a1f9a"/>
<rect x="263.35" y="69.05" width="1.9" height="1.9" rx="0.6" fill="#1a1f9a"/>
<polyline points="39.27,198.90 45.04,198.70 50.81,198.50 56.58,198.30 62.35,198.20 68.12,198.20 73.89,198.40 79.66,198.80 85.43,199.10 91.20,199.40 96.97,199.40 102.74,199.40 108.51,199.40 114.28,199.40 120.05,199.40 125.82,199.40 131.59,199.40 137.36,199.40 143.13,199.40 148.90,199.40 154.67,199.40 160.44,199.40 166.21,199.40 171.98,199.40 177.75,199.40 183.52,199.10 189.29,198.90 195.06,198.20 200.83,196.50 206.60,193.30 212.37,187.60 218.14,178.70 223.91,166.40 229.68,152.20 235.45,137.30 241.22,122.40 246.99,108.40 252.76,96.00 258.53,86.00 264.30,76.40" fill="none" stroke="#b23a3a" stroke-width="0.7" stroke-linejoin="round"/>
<rect x="38.32" y="197.95" width="1.9" height="1.9" rx="0.6" fill="#a81818"/>
<rect x="44.09" y="197.75" width="1.9" height="1.9" rx="0.6" fill="#a81818"/>
<rect x="49.86" y="197.55" width="1.9" height="1.9" rx="0.6" fill="#a81818"/>
<rect x="55.63" y="197.35" width="1.9" height="1.9" rx="0.6" fill="#a81818"/>
<rect x="61.40" y="197.25" width="1.9" height="1.9" rx="0.6" fill="#a81818"/>
<rect x="67.17" y="197.25" width="1.9" height="1.9" rx="0.6" fill="#a81818"/>
<rect x="72.94" y="197.45" width="1.9" height="1.9" rx="0.6" fill="#a81818"/>
<rect x="78.71" y="197.85" width="1.9" height="1.9" rx="0.6" fill="#a81818"/>
<rect x="84.48" y="198.15" width="1.9" height="1.9" rx="0.6" fill="#a81818"/>
<rect x="90.25" y="198.45" width="1.9" height="1.9" rx="0.6" fill="#a81818"/>
<rect x="96.02" y="198.45" width="1.9" height="1.9" rx="0.6" fill="#a81818"/>
<rect x="101.79" y="198.45" width="1.9" height="1.9" rx="0.6" fill="#a81818"/>
<rect x="107.56" y="198.45" width="1.9" height="1.9" rx="0.6" fill="#a81818"/>
<rect x="113.33" y="198.45" width="1.9" height="1.9" rx="0.6" fill="#a81818"/>
<rect x="119.10" y="198.45" width="1.9" height="1.9" rx="0.6" fill="#a81818"/>
<rect x="124.87" y="198.45" width="1.9" height="1.9" rx="0.6" fill="#a81818"/>
<rect x="130.64" y="198.45" width="1.9" height="1.9" rx="0.6" fill="#a81818"/>
<rect x="136.41" y="198.45" width="1.9" height="1.9" rx="0.6" fill="#a81818"/>
<rect x="142.18" y="198.45" width="1.9" height="1.9" rx="0.6" fill="#a81818"/>
<rect x="147.95" y="198.45" width="1.9" height="1.9" rx="0.6" fill="#a81818"/>
<rect x="153.72" y="198.45" width="1.9" height="1.9" rx="0.6" fill="#a81818"/>
<rect x="159.49" y="198.45" width="1.9" height="1.9" rx="0.6" fill="#a81818"/>
<rect x="165.26" y="198.45" width="1.9" height="1.9" rx="0.6" fill="#a81818"/>
<rect x="171.03" y="198.45" width="1.9" height="1.9" rx="0.6" fill="#a81818"/>
<rect x="176.80" y="198.45" width="1.9" height="1.9" rx="0.6" fill="#a81818"/>
<rect x="182.57" y="198.15" width="1.9" height="1.9" rx="0.6" fill="#a81818"/>
<rect x="188.34" y="197.95" width="1.9" height="1.9" rx="0.6" fill="#a81818"/>
<rect x="194.11" y="197.25" width="1.9" height="1.9" rx="0.6" fill="#a81818"/>
<rect x="199.88" y="195.55" width="1.9" height="1.9" rx="0.6" fill="#a81818"/>
<rect x="205.65" y="192.35" width="1.9" height="1.9" rx="0.6" fill="#a81818"/>
<rect x="211.42" y="186.65" width="1.9" height="1.9" rx="0.6" fill="#a81818"/>
<rect x="217.19" y="177.75" width="1.9" height="1.9" rx="0.6" fill="#a81818"/>
<rect x="222.96" y="165.45" width="1.9" height="1.9" rx="0.6" fill="#a81818"/>
<rect x="228.73" y="151.25" width="1.9" height="1.9" rx="0.6" fill="#a81818"/>
<rect x="234.50" y="136.35" width="1.9" height="1.9" rx="0.6" fill="#a81818"/>
<rect x="240.27" y="121.45" width="1.9" height="1.9" rx="0.6" fill="#a81818"/>
<rect x="246.04" y="107.45" width="1.9" height="1.9" rx="0.6" fill="#a81818"/>
<rect x="251.81" y="95.05" width="1.9" height="1.9" rx="0.6" fill="#a81818"/>
<rect x="257.58" y="85.05" width="1.9" height="1.9" rx="0.6" fill="#a81818"/>
<rect x="263.35" y="75.45" width="1.9" height="1.9" rx="0.6" fill="#a81818"/>
<polyline points="39.27,199.90 45.04,199.90 50.81,199.70 56.58,199.40 62.35,199.40 68.12,199.40 73.89,199.40 79.66,199.40 85.43,199.40 91.20,199.40 96.97,199.40 102.74,199.40 108.51,199.40 114.28,199.40 120.05,199.40 125.82,199.40 131.59,199.40 137.36,199.40 143.13,199.40 148.90,199.40 154.67,199.40 160.44,199.40 166.21,199.40 171.98,199.40 177.75,199.40 183.52,199.40 189.29,199.40 195.06,199.40 200.83,199.40 206.60,199.40 212.37,199.40 218.14,198.40 223.91,196.90 229.68,193.60 235.45,188.50 241.22,180.50 246.99,169.60 252.76,156.40 258.53,143.60 264.30,131.80" fill="none" stroke="#3fa63a" stroke-width="0.6" stroke-linejoin="round"/>
<rect x="38.42" y="199.05" width="1.7" height="1.7" rx="0.6" fill="#2f8a3f"/>
<rect x="44.19" y="199.05" width="1.7" height="1.7" rx="0.6" fill="#2f8a3f"/>
<rect x="49.96" y="198.85" width="1.7" height="1.7" rx="0.6" fill="#2f8a3f"/>
<rect x="55.73" y="198.55" width="1.7" height="1.7" rx="0.6" fill="#2f8a3f"/>
<rect x="61.50" y="198.55" width="1.7" height="1.7" rx="0.6" fill="#2f8a3f"/>
<rect x="67.27" y="198.55" width="1.7" height="1.7" rx="0.6" fill="#2f8a3f"/>
<rect x="73.04" y="198.55" width="1.7" height="1.7" rx="0.6" fill="#2f8a3f"/>
<rect x="78.81" y="198.55" width="1.7" height="1.7" rx="0.6" fill="#2f8a3f"/>
<rect x="84.58" y="198.55" width="1.7" height="1.7" rx="0.6" fill="#2f8a3f"/>
<rect x="90.35" y="198.55" width="1.7" height="1.7" rx="0.6" fill="#2f8a3f"/>
<rect x="96.12" y="198.55" width="1.7" height="1.7" rx="0.6" fill="#2f8a3f"/>
<rect x="101.89" y="198.55" width="1.7" height="1.7" rx="0.6" fill="#2f8a3f"/>
<rect x="107.66" y="198.55" width="1.7" height="1.7" rx="0.6" fill="#2f8a3f"/>
<rect x="113.43" y="198.55" width="1.7" height="1.7" rx="0.6" fill="#2f8a3f"/>
<rect x="119.20" y="198.55" width="1.7" height="1.7" rx="0.6" fill="#2f8a3f"/>
<rect x="124.97" y="198.55" width="1.7" height="1.7" rx="0.6" fill="#2f8a3f"/>
<rect x="130.74" y="198.55" width="1.7" height="1.7" rx="0.6" fill="#2f8a3f"/>
<rect x="136.51" y="198.55" width="1.7" height="1.7" rx="0.6" fill="#2f8a3f"/>
<rect x="142.28" y="198.55" width="1.7" height="1.7" rx="0.6" fill="#2f8a3f"/>
<rect x="148.05" y="198.55" width="1.7" height="1.7" rx="0.6" fill="#2f8a3f"/>
<rect x="153.82" y="198.55" width="1.7" height="1.7" rx="0.6" fill="#2f8a3f"/>
<rect x="159.59" y="198.55" width="1.7" height="1.7" rx="0.6" fill="#2f8a3f"/>
<rect x="165.36" y="198.55" width="1.7" height="1.7" rx="0.6" fill="#2f8a3f"/>
<rect x="171.13" y="198.55" width="1.7" height="1.7" rx="0.6" fill="#2f8a3f"/>
<rect x="176.90" y="198.55" width="1.7" height="1.7" rx="0.6" fill="#2f8a3f"/>
<rect x="182.67" y="198.55" width="1.7" height="1.7" rx="0.6" fill="#2f8a3f"/>
<rect x="188.44" y="198.55" width="1.7" height="1.7" rx="0.6" fill="#2f8a3f"/>
<rect x="194.21" y="198.55" width="1.7" height="1.7" rx="0.6" fill="#2f8a3f"/>
<rect x="199.98" y="198.55" width="1.7" height="1.7" rx="0.6" fill="#2f8a3f"/>
<rect x="205.75" y="198.55" width="1.7" height="1.7" rx="0.6" fill="#2f8a3f"/>
<rect x="211.52" y="198.55" width="1.7" height="1.7" rx="0.6" fill="#2f8a3f"/>
<rect x="217.29" y="197.55" width="1.7" height="1.7" rx="0.6" fill="#2f8a3f"/>
<rect x="223.06" y="196.05" width="1.7" height="1.7" rx="0.6" fill="#2f8a3f"/>
<rect x="228.83" y="192.75" width="1.7" height="1.7" rx="0.6" fill="#2f8a3f"/>
<rect x="234.60" y="187.65" width="1.7" height="1.7" rx="0.6" fill="#2f8a3f"/>
<rect x="240.37" y="179.65" width="1.7" height="1.7" rx="0.6" fill="#2f8a3f"/>
<rect x="246.14" y="168.75" width="1.7" height="1.7" rx="0.6" fill="#2f8a3f"/>
<rect x="251.91" y="155.55" width="1.7" height="1.7" rx="0.6" fill="#2f8a3f"/>
<rect x="257.68" y="142.75" width="1.7" height="1.7" rx="0.6" fill="#2f8a3f"/>
<rect x="263.45" y="130.95" width="1.7" height="1.7" rx="0.6" fill="#2f8a3f"/>
<rect x="228.83" y="198.15" width="1.7" height="1.7" rx="0.6" fill="#a9a51e"/>
<rect x="234.60" y="196.95" width="1.7" height="1.7" rx="0.6" fill="#a9a51e"/>
<rect x="240.37" y="194.65" width="1.7" height="1.7" rx="0.6" fill="#a9a51e"/>
<rect x="246.14" y="190.65" width="1.7" height="1.7" rx="0.6" fill="#a9a51e"/>
<rect x="251.91" y="183.65" width="1.7" height="1.7" rx="0.6" fill="#a9a51e"/>
<rect x="257.68" y="175.55" width="1.7" height="1.7" rx="0.6" fill="#a9a51e"/>
<rect x="263.45" y="165.15" width="1.7" height="1.7" rx="0.6" fill="#a9a51e"/>
<rect x="223.06" y="197.85" width="1.7" height="1.7" rx="0.6" fill="#a09a98"/>
<rect x="228.83" y="196.45" width="1.7" height="1.7" rx="0.6" fill="#a09a98"/>
<rect x="234.60" y="193.65" width="1.7" height="1.7" rx="0.6" fill="#a09a98"/>
<rect x="240.37" y="189.15" width="1.7" height="1.7" rx="0.6" fill="#a09a98"/>
<rect x="246.14" y="181.85" width="1.7" height="1.7" rx="0.6" fill="#a09a98"/>
<rect x="251.91" y="171.35" width="1.7" height="1.7" rx="0.6" fill="#a09a98"/>
<rect x="257.68" y="160.05" width="1.7" height="1.7" rx="0.6" fill="#a09a98"/>
<rect x="263.45" y="148.75" width="1.7" height="1.7" rx="0.6" fill="#a09a98"/>
<rect x="165.26" y="198.15" width="1.9" height="1.9" rx="0.6" fill="#1a1f9a"/>
<rect x="171.03" y="197.75" width="1.9" height="1.9" rx="0.6" fill="#1a1f9a"/>
<rect x="176.80" y="196.65" width="1.9" height="1.9" rx="0.6" fill="#1a1f9a"/>
<rect x="182.57" y="194.85" width="1.9" height="1.9" rx="0.6" fill="#1a1f9a"/>
<rect x="188.34" y="191.75" width="1.9" height="1.9" rx="0.6" fill="#1a1f9a"/>
<rect x="194.11" y="185.45" width="1.9" height="1.9" rx="0.6" fill="#1a1f9a"/>
<rect x="199.88" y="175.95" width="1.9" height="1.9" rx="0.6" fill="#1a1f9a"/>
<rect x="205.65" y="163.55" width="1.9" height="1.9" rx="0.6" fill="#1a1f9a"/>
<rect x="211.42" y="150.15" width="1.9" height="1.9" rx="0.6" fill="#1a1f9a"/>
<rect x="217.19" y="136.35" width="1.9" height="1.9" rx="0.6" fill="#1a1f9a"/>
<rect x="222.96" y="122.15" width="1.9" height="1.9" rx="0.6" fill="#1a1f9a"/>
<rect x="228.73" y="110.55" width="1.9" height="1.9" rx="0.6" fill="#1a1f9a"/>
<rect x="234.50" y="99.45" width="1.9" height="1.9" rx="0.6" fill="#1a1f9a"/>
<rect x="240.27" y="90.35" width="1.9" height="1.9" rx="0.6" fill="#1a1f9a"/>
<rect x="246.04" y="83.05" width="1.9" height="1.9" rx="0.6" fill="#1a1f9a"/>
<rect x="251.81" y="77.45" width="1.9" height="1.9" rx="0.6" fill="#1a1f9a"/>
<rect x="257.58" y="73.25" width="1.9" height="1.9" rx="0.6" fill="#1a1f9a"/>
<rect x="263.35" y="69.05" width="1.9" height="1.9" rx="0.6" fill="#1a1f9a"/>
<rect x="182.57" y="198.15" width="1.9" height="1.9" rx="0.6" fill="#a81818"/>
<rect x="188.34" y="197.95" width="1.9" height="1.9" rx="0.6" fill="#a81818"/>
<rect x="194.11" y="197.25" width="1.9" height="1.9" rx="0.6" fill="#a81818"/>
<rect x="199.88" y="195.55" width="1.9" height="1.9" rx="0.6" fill="#a81818"/>
<rect x="205.65" y="192.35" width="1.9" height="1.9" rx="0.6" fill="#a81818"/>
<rect x="211.42" y="186.65" width="1.9" height="1.9" rx="0.6" fill="#a81818"/>
<rect x="217.19" y="177.75" width="1.9" height="1.9" rx="0.6" fill="#a81818"/>
<rect x="222.96" y="165.45" width="1.9" height="1.9" rx="0.6" fill="#a81818"/>
<rect x="228.73" y="151.25" width="1.9" height="1.9" rx="0.6" fill="#a81818"/>
<rect x="234.50" y="136.35" width="1.9" height="1.9" rx="0.6" fill="#a81818"/>
<rect x="240.27" y="121.45" width="1.9" height="1.9" rx="0.6" fill="#a81818"/>
<rect x="246.04" y="107.45" width="1.9" height="1.9" rx="0.6" fill="#a81818"/>
<rect x="251.81" y="95.05" width="1.9" height="1.9" rx="0.6" fill="#a81818"/>
<rect x="257.58" y="85.05" width="1.9" height="1.9" rx="0.6" fill="#a81818"/>
<rect x="263.35" y="75.45" width="1.9" height="1.9" rx="0.6" fill="#a81818"/>
<rect x="217.29" y="197.55" width="1.7" height="1.7" rx="0.6" fill="#2f8a3f"/>
<rect x="223.06" y="196.05" width="1.7" height="1.7" rx="0.6" fill="#2f8a3f"/>
<rect x="228.83" y="192.75" width="1.7" height="1.7" rx="0.6" fill="#2f8a3f"/>
<rect x="234.60" y="187.65" width="1.7" height="1.7" rx="0.6" fill="#2f8a3f"/>
<rect x="240.37" y="179.65" width="1.7" height="1.7" rx="0.6" fill="#2f8a3f"/>
<rect x="246.14" y="168.75" width="1.7" height="1.7" rx="0.6" fill="#2f8a3f"/>
<rect x="251.91" y="155.55" width="1.7" height="1.7" rx="0.6" fill="#2f8a3f"/>
<rect x="257.68" y="142.75" width="1.7" height="1.7" rx="0.6" fill="#2f8a3f"/>
<rect x="263.45" y="130.95" width="1.7" height="1.7" rx="0.6" fill="#2f8a3f"/>
<rect x="264.3" y="64" width="1.3" height="145.4" fill="#7cc0ee"/>
<text x="202" y="106" font-size="7.0" fill="#101a22" font-weight="normal" text-anchor="start" textLength="28.5" lengthAdjust="spacingAndGlyphs" stroke="#101a22" stroke-width="0.22">20k Copies</text>
<text x="214" y="125.1" font-size="7.0" fill="#101a22" font-weight="normal" text-anchor="start" textLength="25" lengthAdjust="spacingAndGlyphs" stroke="#101a22" stroke-width="0.22">2k Copies</text>
<text x="232.2" y="139" font-size="7.0" fill="#101a22" font-weight="normal" text-anchor="start" textLength="28.2" lengthAdjust="spacingAndGlyphs" stroke="#101a22" stroke-width="0.22">200 Copies</text>
<text x="236.9" y="155.4" font-size="7.0" fill="#101a22" font-weight="normal" text-anchor="start" textLength="24.9" lengthAdjust="spacingAndGlyphs" stroke="#101a22" stroke-width="0.22">20 Copies</text>
<text x="238.7" y="174.8" font-size="7.0" fill="#101a22" font-weight="normal" text-anchor="start" textLength="21.7" lengthAdjust="spacingAndGlyphs" stroke="#101a22" stroke-width="0.22">2 Copies</text>
<rect x="10.2" y="277.8" width="270.2" height="187.2" fill="#777777"/>
<rect x="22.5" y="296.5" width="246" height="162" fill="#333"/>
<rect x="21" y="295" width="246" height="162" fill="#ffffff"/>
<rect x="42.6" y="296.3" width="224.29999999999998" height="148.89999999999998" fill="#9ecadb"/>
<text x="145" y="285.5" font-size="4.6" fill="#c4b400" font-weight="normal" text-anchor="middle" textLength="46.5" lengthAdjust="spacingAndGlyphs" >Amplification Plots</text>
<line x1="43.19" y1="296.3" x2="43.19" y2="445.2" stroke="#7fb0c4" stroke-width="0.4" stroke-dasharray="0.6 0.9" opacity="0.4"/>
<line x1="48.88" y1="296.3" x2="48.88" y2="445.2" stroke="#6fa3b8" stroke-width="0.45" opacity="0.5"/>
<line x1="54.57" y1="296.3" x2="54.57" y2="445.2" stroke="#7fb0c4" stroke-width="0.4" stroke-dasharray="0.6 0.9" opacity="0.4"/>
<line x1="60.26" y1="296.3" x2="60.26" y2="445.2" stroke="#6fa3b8" stroke-width="0.45" opacity="0.5"/>
<line x1="65.95" y1="296.3" x2="65.95" y2="445.2" stroke="#7fb0c4" stroke-width="0.4" stroke-dasharray="0.6 0.9" opacity="0.4"/>
<line x1="71.64" y1="296.3" x2="71.64" y2="445.2" stroke="#6fa3b8" stroke-width="0.45" opacity="0.5"/>
<line x1="77.33" y1="296.3" x2="77.33" y2="445.2" stroke="#7fb0c4" stroke-width="0.4" stroke-dasharray="0.6 0.9" opacity="0.4"/>
<line x1="83.02" y1="296.3" x2="83.02" y2="445.2" stroke="#6fa3b8" stroke-width="0.45" opacity="0.5"/>
<line x1="88.71" y1="296.3" x2="88.71" y2="445.2" stroke="#7fb0c4" stroke-width="0.4" stroke-dasharray="0.6 0.9" opacity="0.4"/>
<line x1="94.40" y1="296.3" x2="94.40" y2="445.2" stroke="#6fa3b8" stroke-width="0.45" opacity="0.5"/>
<line x1="100.09" y1="296.3" x2="100.09" y2="445.2" stroke="#7fb0c4" stroke-width="0.4" stroke-dasharray="0.6 0.9" opacity="0.4"/>
<line x1="105.78" y1="296.3" x2="105.78" y2="445.2" stroke="#6fa3b8" stroke-width="0.45" opacity="0.5"/>
<line x1="111.47" y1="296.3" x2="111.47" y2="445.2" stroke="#7fb0c4" stroke-width="0.4" stroke-dasharray="0.6 0.9" opacity="0.4"/>
<line x1="117.16" y1="296.3" x2="117.16" y2="445.2" stroke="#6fa3b8" stroke-width="0.45" opacity="0.5"/>
<line x1="122.85" y1="296.3" x2="122.85" y2="445.2" stroke="#7fb0c4" stroke-width="0.4" stroke-dasharray="0.6 0.9" opacity="0.4"/>
<line x1="128.54" y1="296.3" x2="128.54" y2="445.2" stroke="#6fa3b8" stroke-width="0.45" opacity="0.5"/>
<line x1="134.23" y1="296.3" x2="134.23" y2="445.2" stroke="#7fb0c4" stroke-width="0.4" stroke-dasharray="0.6 0.9" opacity="0.4"/>
<line x1="139.92" y1="296.3" x2="139.92" y2="445.2" stroke="#6fa3b8" stroke-width="0.45" opacity="0.5"/>
<line x1="145.61" y1="296.3" x2="145.61" y2="445.2" stroke="#7fb0c4" stroke-width="0.4" stroke-dasharray="0.6 0.9" opacity="0.4"/>
<line x1="151.30" y1="296.3" x2="151.30" y2="445.2" stroke="#6fa3b8" stroke-width="0.45" opacity="0.5"/>
<line x1="156.99" y1="296.3" x2="156.99" y2="445.2" stroke="#7fb0c4" stroke-width="0.4" stroke-dasharray="0.6 0.9" opacity="0.4"/>
<line x1="162.68" y1="296.3" x2="162.68" y2="445.2" stroke="#6fa3b8" stroke-width="0.45" opacity="0.5"/>
<line x1="168.37" y1="296.3" x2="168.37" y2="445.2" stroke="#7fb0c4" stroke-width="0.4" stroke-dasharray="0.6 0.9" opacity="0.4"/>
<line x1="174.06" y1="296.3" x2="174.06" y2="445.2" stroke="#6fa3b8" stroke-width="0.45" opacity="0.5"/>
<line x1="179.75" y1="296.3" x2="179.75" y2="445.2" stroke="#7fb0c4" stroke-width="0.4" stroke-dasharray="0.6 0.9" opacity="0.4"/>
<line x1="185.44" y1="296.3" x2="185.44" y2="445.2" stroke="#6fa3b8" stroke-width="0.45" opacity="0.5"/>
<line x1="191.13" y1="296.3" x2="191.13" y2="445.2" stroke="#7fb0c4" stroke-width="0.4" stroke-dasharray="0.6 0.9" opacity="0.4"/>
<line x1="196.82" y1="296.3" x2="196.82" y2="445.2" stroke="#6fa3b8" stroke-width="0.45" opacity="0.5"/>
<line x1="202.51" y1="296.3" x2="202.51" y2="445.2" stroke="#7fb0c4" stroke-width="0.4" stroke-dasharray="0.6 0.9" opacity="0.4"/>
<line x1="208.20" y1="296.3" x2="208.20" y2="445.2" stroke="#6fa3b8" stroke-width="0.45" opacity="0.5"/>
<line x1="213.89" y1="296.3" x2="213.89" y2="445.2" stroke="#7fb0c4" stroke-width="0.4" stroke-dasharray="0.6 0.9" opacity="0.4"/>
<line x1="219.58" y1="296.3" x2="219.58" y2="445.2" stroke="#6fa3b8" stroke-width="0.45" opacity="0.5"/>
<line x1="225.27" y1="296.3" x2="225.27" y2="445.2" stroke="#7fb0c4" stroke-width="0.4" stroke-dasharray="0.6 0.9" opacity="0.4"/>
<line x1="230.96" y1="296.3" x2="230.96" y2="445.2" stroke="#6fa3b8" stroke-width="0.45" opacity="0.5"/>
<line x1="236.65" y1="296.3" x2="236.65" y2="445.2" stroke="#7fb0c4" stroke-width="0.4" stroke-dasharray="0.6 0.9" opacity="0.4"/>
<line x1="242.34" y1="296.3" x2="242.34" y2="445.2" stroke="#6fa3b8" stroke-width="0.45" opacity="0.5"/>
<line x1="248.03" y1="296.3" x2="248.03" y2="445.2" stroke="#7fb0c4" stroke-width="0.4" stroke-dasharray="0.6 0.9" opacity="0.4"/>
<line x1="253.72" y1="296.3" x2="253.72" y2="445.2" stroke="#6fa3b8" stroke-width="0.45" opacity="0.5"/>
<line x1="259.41" y1="296.3" x2="259.41" y2="445.2" stroke="#7fb0c4" stroke-width="0.4" stroke-dasharray="0.6 0.9" opacity="0.4"/>
<line x1="265.10" y1="296.3" x2="265.10" y2="445.2" stroke="#6fa3b8" stroke-width="0.45" opacity="0.5"/>
<line x1="42.6" y1="444.36" x2="266.9" y2="444.36" stroke="#86b6c9" stroke-width="0.35" stroke-dasharray="0.6 0.9" opacity="0.3"/>
<line x1="42.6" y1="440.18" x2="266.9" y2="440.18" stroke="#86b6c9" stroke-width="0.35" stroke-dasharray="0.6 0.9" opacity="0.3"/>
<line x1="42.6" y1="436.00" x2="266.9" y2="436.00" stroke="#6fa3b8" stroke-width="0.45" opacity="0.4"/>
<line x1="42.6" y1="431.82" x2="266.9" y2="431.82" stroke="#86b6c9" stroke-width="0.35" stroke-dasharray="0.6 0.9" opacity="0.3"/>
<line x1="42.6" y1="427.64" x2="266.9" y2="427.64" stroke="#86b6c9" stroke-width="0.35" stroke-dasharray="0.6 0.9" opacity="0.3"/>
<line x1="42.6" y1="423.46" x2="266.9" y2="423.46" stroke="#86b6c9" stroke-width="0.35" stroke-dasharray="0.6 0.9" opacity="0.3"/>
<line x1="42.6" y1="419.28" x2="266.9" y2="419.28" stroke="#86b6c9" stroke-width="0.35" stroke-dasharray="0.6 0.9" opacity="0.3"/>
<line x1="42.6" y1="415.10" x2="266.9" y2="415.10" stroke="#6fa3b8" stroke-width="0.45" opacity="0.4"/>
<line x1="42.6" y1="410.92" x2="266.9" y2="410.92" stroke="#86b6c9" stroke-width="0.35" stroke-dasharray="0.6 0.9" opacity="0.3"/>
<line x1="42.6" y1="406.74" x2="266.9" y2="406.74" stroke="#86b6c9" stroke-width="0.35" stroke-dasharray="0.6 0.9" opacity="0.3"/>
<line x1="42.6" y1="402.56" x2="266.9" y2="402.56" stroke="#86b6c9" stroke-width="0.35" stroke-dasharray="0.6 0.9" opacity="0.3"/>
<line x1="42.6" y1="398.38" x2="266.9" y2="398.38" stroke="#86b6c9" stroke-width="0.35" stroke-dasharray="0.6 0.9" opacity="0.3"/>
<line x1="42.6" y1="394.20" x2="266.9" y2="394.20" stroke="#6fa3b8" stroke-width="0.45" opacity="0.4"/>
<line x1="42.6" y1="390.02" x2="266.9" y2="390.02" stroke="#86b6c9" stroke-width="0.35" stroke-dasharray="0.6 0.9" opacity="0.3"/>
<line x1="42.6" y1="385.84" x2="266.9" y2="385.84" stroke="#86b6c9" stroke-width="0.35" stroke-dasharray="0.6 0.9" opacity="0.3"/>
<line x1="42.6" y1="381.66" x2="266.9" y2="381.66" stroke="#86b6c9" stroke-width="0.35" stroke-dasharray="0.6 0.9" opacity="0.3"/>
<line x1="42.6" y1="377.48" x2="266.9" y2="377.48" stroke="#86b6c9" stroke-width="0.35" stroke-dasharray="0.6 0.9" opacity="0.3"/>
<line x1="42.6" y1="373.30" x2="266.9" y2="373.30" stroke="#6fa3b8" stroke-width="0.45" opacity="0.4"/>
<line x1="42.6" y1="369.12" x2="266.9" y2="369.12" stroke="#86b6c9" stroke-width="0.35" stroke-dasharray="0.6 0.9" opacity="0.3"/>
<line x1="42.6" y1="364.94" x2="266.9" y2="364.94" stroke="#86b6c9" stroke-width="0.35" stroke-dasharray="0.6 0.9" opacity="0.3"/>
<line x1="42.6" y1="360.76" x2="266.9" y2="360.76" stroke="#86b6c9" stroke-width="0.35" stroke-dasharray="0.6 0.9" opacity="0.3"/>
<line x1="42.6" y1="356.58" x2="266.9" y2="356.58" stroke="#86b6c9" stroke-width="0.35" stroke-dasharray="0.6 0.9" opacity="0.3"/>
<line x1="42.6" y1="352.40" x2="266.9" y2="352.40" stroke="#6fa3b8" stroke-width="0.45" opacity="0.4"/>
<line x1="42.6" y1="348.22" x2="266.9" y2="348.22" stroke="#86b6c9" stroke-width="0.35" stroke-dasharray="0.6 0.9" opacity="0.3"/>
<line x1="42.6" y1="344.04" x2="266.9" y2="344.04" stroke="#86b6c9" stroke-width="0.35" stroke-dasharray="0.6 0.9" opacity="0.3"/>
<line x1="42.6" y1="339.86" x2="266.9" y2="339.86" stroke="#86b6c9" stroke-width="0.35" stroke-dasharray="0.6 0.9" opacity="0.3"/>
<line x1="42.6" y1="335.68" x2="266.9" y2="335.68" stroke="#86b6c9" stroke-width="0.35" stroke-dasharray="0.6 0.9" opacity="0.3"/>
<line x1="42.6" y1="331.50" x2="266.9" y2="331.50" stroke="#6fa3b8" stroke-width="0.45" opacity="0.4"/>
<line x1="42.6" y1="327.32" x2="266.9" y2="327.32" stroke="#86b6c9" stroke-width="0.35" stroke-dasharray="0.6 0.9" opacity="0.3"/>
<line x1="42.6" y1="323.14" x2="266.9" y2="323.14" stroke="#86b6c9" stroke-width="0.35" stroke-dasharray="0.6 0.9" opacity="0.3"/>
<line x1="42.6" y1="318.96" x2="266.9" y2="318.96" stroke="#86b6c9" stroke-width="0.35" stroke-dasharray="0.6 0.9" opacity="0.3"/>
<line x1="42.6" y1="314.78" x2="266.9" y2="314.78" stroke="#86b6c9" stroke-width="0.35" stroke-dasharray="0.6 0.9" opacity="0.3"/>
<line x1="42.6" y1="310.60" x2="266.9" y2="310.60" stroke="#6fa3b8" stroke-width="0.45" opacity="0.4"/>
<line x1="42.6" y1="306.42" x2="266.9" y2="306.42" stroke="#86b6c9" stroke-width="0.35" stroke-dasharray="0.6 0.9" opacity="0.3"/>
<line x1="42.6" y1="302.24" x2="266.9" y2="302.24" stroke="#86b6c9" stroke-width="0.35" stroke-dasharray="0.6 0.9" opacity="0.3"/>
<line x1="42.6" y1="298.06" x2="266.9" y2="298.06" stroke="#86b6c9" stroke-width="0.35" stroke-dasharray="0.6 0.9" opacity="0.3"/>
<line x1="42.6" y1="296.3" x2="42.6" y2="445.2" stroke="#4d7f95" stroke-width="0.6"/>
<line x1="42.6" y1="445.2" x2="266.9" y2="445.2" stroke="#4d7f95" stroke-width="0.6"/>
<text x="42.0" y="416.3" font-size="2.5" fill="#333" font-weight="normal" text-anchor="end" >1000</text>
<text x="42.0" y="395.4" font-size="2.5" fill="#333" font-weight="normal" text-anchor="end" >2000</text>
<text x="42.0" y="374.5" font-size="2.5" fill="#333" font-weight="normal" text-anchor="end" >3000</text>
<text x="42.0" y="353.59999999999997" font-size="2.5" fill="#333" font-weight="normal" text-anchor="end" >4000</text>
<text x="42.0" y="332.7" font-size="2.5" fill="#333" font-weight="normal" text-anchor="end" >5000</text>
<text x="42.0" y="311.8" font-size="2.5" fill="#333" font-weight="normal" text-anchor="end" >6000</text>
<text x="48.88" y="449.3" font-size="2.5" fill="#333" font-weight="normal" text-anchor="middle" >2</text>
<text x="60.26" y="449.3" font-size="2.5" fill="#333" font-weight="normal" text-anchor="middle" >4</text>
<text x="71.64" y="449.3" font-size="2.5" fill="#333" font-weight="normal" text-anchor="middle" >6</text>
<text x="83.02" y="449.3" font-size="2.5" fill="#333" font-weight="normal" text-anchor="middle" >8</text>
<text x="94.40" y="449.3" font-size="2.5" fill="#333" font-weight="normal" text-anchor="middle" >10</text>
<text x="105.78" y="449.3" font-size="2.5" fill="#333" font-weight="normal" text-anchor="middle" >12</text>
<text x="117.16" y="449.3" font-size="2.5" fill="#333" font-weight="normal" text-anchor="middle" >14</text>
<text x="128.54" y="449.3" font-size="2.5" fill="#333" font-weight="normal" text-anchor="middle" >16</text>
<text x="139.92" y="449.3" font-size="2.5" fill="#333" font-weight="normal" text-anchor="middle" >18</text>
<text x="151.30" y="449.3" font-size="2.5" fill="#333" font-weight="normal" text-anchor="middle" >20</text>
<text x="162.68" y="449.3" font-size="2.5" fill="#333" font-weight="normal" text-anchor="middle" >22</text>
<text x="174.06" y="449.3" font-size="2.5" fill="#333" font-weight="normal" text-anchor="middle" >24</text>
<text x="185.44" y="449.3" font-size="2.5" fill="#333" font-weight="normal" text-anchor="middle" >26</text>
<text x="196.82" y="449.3" font-size="2.5" fill="#333" font-weight="normal" text-anchor="middle" >28</text>
<text x="208.20" y="449.3" font-size="2.5" fill="#333" font-weight="normal" text-anchor="middle" >30</text>
<text x="219.58" y="449.3" font-size="2.5" fill="#333" font-weight="normal" text-anchor="middle" >32</text>
<text x="230.96" y="449.3" font-size="2.5" fill="#333" font-weight="normal" text-anchor="middle" >34</text>
<text x="242.34" y="449.3" font-size="2.5" fill="#333" font-weight="normal" text-anchor="middle" >36</text>
<text x="253.72" y="449.3" font-size="2.5" fill="#333" font-weight="normal" text-anchor="middle" >38</text>
<text x="265.10" y="449.3" font-size="2.5" fill="#333" font-weight="normal" text-anchor="middle" >40</text>
<line x1="43.19" y1="445.2" x2="43.19" y2="446.09999999999997" stroke="#4d7f95" stroke-width="0.4"/>
<line x1="48.88" y1="445.2" x2="48.88" y2="446.09999999999997" stroke="#4d7f95" stroke-width="0.4"/>
<line x1="54.57" y1="445.2" x2="54.57" y2="446.09999999999997" stroke="#4d7f95" stroke-width="0.4"/>
<line x1="60.26" y1="445.2" x2="60.26" y2="446.09999999999997" stroke="#4d7f95" stroke-width="0.4"/>
<line x1="65.95" y1="445.2" x2="65.95" y2="446.09999999999997" stroke="#4d7f95" stroke-width="0.4"/>
<line x1="71.64" y1="445.2" x2="71.64" y2="446.09999999999997" stroke="#4d7f95" stroke-width="0.4"/>
<line x1="77.33" y1="445.2" x2="77.33" y2="446.09999999999997" stroke="#4d7f95" stroke-width="0.4"/>
<line x1="83.02" y1="445.2" x2="83.02" y2="446.09999999999997" stroke="#4d7f95" stroke-width="0.4"/>
<line x1="88.71" y1="445.2" x2="88.71" y2="446.09999999999997" stroke="#4d7f95" stroke-width="0.4"/>
<line x1="94.40" y1="445.2" x2="94.40" y2="446.09999999999997" stroke="#4d7f95" stroke-width="0.4"/>
<line x1="100.09" y1="445.2" x2="100.09" y2="446.09999999999997" stroke="#4d7f95" stroke-width="0.4"/>
<line x1="105.78" y1="445.2" x2="105.78" y2="446.09999999999997" stroke="#4d7f95" stroke-width="0.4"/>
<line x1="111.47" y1="445.2" x2="111.47" y2="446.09999999999997" stroke="#4d7f95" stroke-width="0.4"/>
<line x1="117.16" y1="445.2" x2="117.16" y2="446.09999999999997" stroke="#4d7f95" stroke-width="0.4"/>
<line x1="122.85" y1="445.2" x2="122.85" y2="446.09999999999997" stroke="#4d7f95" stroke-width="0.4"/>
<line x1="128.54" y1="445.2" x2="128.54" y2="446.09999999999997" stroke="#4d7f95" stroke-width="0.4"/>
<line x1="134.23" y1="445.2" x2="134.23" y2="446.09999999999997" stroke="#4d7f95" stroke-width="0.4"/>
<line x1="139.92" y1="445.2" x2="139.92" y2="446.09999999999997" stroke="#4d7f95" stroke-width="0.4"/>
<line x1="145.61" y1="445.2" x2="145.61" y2="446.09999999999997" stroke="#4d7f95" stroke-width="0.4"/>
<line x1="151.30" y1="445.2" x2="151.30" y2="446.09999999999997" stroke="#4d7f95" stroke-width="0.4"/>
<line x1="156.99" y1="445.2" x2="156.99" y2="446.09999999999997" stroke="#4d7f95" stroke-width="0.4"/>
<line x1="162.68" y1="445.2" x2="162.68" y2="446.09999999999997" stroke="#4d7f95" stroke-width="0.4"/>
<line x1="168.37" y1="445.2" x2="168.37" y2="446.09999999999997" stroke="#4d7f95" stroke-width="0.4"/>
<line x1="174.06" y1="445.2" x2="174.06" y2="446.09999999999997" stroke="#4d7f95" stroke-width="0.4"/>
<line x1="179.75" y1="445.2" x2="179.75" y2="446.09999999999997" stroke="#4d7f95" stroke-width="0.4"/>
<line x1="185.44" y1="445.2" x2="185.44" y2="446.09999999999997" stroke="#4d7f95" stroke-width="0.4"/>
<line x1="191.13" y1="445.2" x2="191.13" y2="446.09999999999997" stroke="#4d7f95" stroke-width="0.4"/>
<line x1="196.82" y1="445.2" x2="196.82" y2="446.09999999999997" stroke="#4d7f95" stroke-width="0.4"/>
<line x1="202.51" y1="445.2" x2="202.51" y2="446.09999999999997" stroke="#4d7f95" stroke-width="0.4"/>
<line x1="208.20" y1="445.2" x2="208.20" y2="446.09999999999997" stroke="#4d7f95" stroke-width="0.4"/>
<line x1="213.89" y1="445.2" x2="213.89" y2="446.09999999999997" stroke="#4d7f95" stroke-width="0.4"/>
<line x1="219.58" y1="445.2" x2="219.58" y2="446.09999999999997" stroke="#4d7f95" stroke-width="0.4"/>
<line x1="225.27" y1="445.2" x2="225.27" y2="446.09999999999997" stroke="#4d7f95" stroke-width="0.4"/>
<line x1="230.96" y1="445.2" x2="230.96" y2="446.09999999999997" stroke="#4d7f95" stroke-width="0.4"/>
<line x1="236.65" y1="445.2" x2="236.65" y2="446.09999999999997" stroke="#4d7f95" stroke-width="0.4"/>
<line x1="242.34" y1="445.2" x2="242.34" y2="446.09999999999997" stroke="#4d7f95" stroke-width="0.4"/>
<line x1="248.03" y1="445.2" x2="248.03" y2="446.09999999999997" stroke="#4d7f95" stroke-width="0.4"/>
<line x1="253.72" y1="445.2" x2="253.72" y2="446.09999999999997" stroke="#4d7f95" stroke-width="0.4"/>
<line x1="259.41" y1="445.2" x2="259.41" y2="446.09999999999997" stroke="#4d7f95" stroke-width="0.4"/>
<line x1="265.10" y1="445.2" x2="265.10" y2="446.09999999999997" stroke="#4d7f95" stroke-width="0.4"/>
<text x="0" y="0" font-size="2.5" fill="#555" font-weight="normal" text-anchor="middle" transform="translate(31,373.75) rotate(-90)">Fluorescence (dR)</text>
<text x="154.75" y="452.5" font-size="2.5" fill="#555" font-weight="normal" text-anchor="middle" >Cycles</text>
<line x1="42.6" y1="429.4" x2="265.9" y2="429.4" stroke="#3558ea" stroke-width="1.0"/>
<polyline points="43.19,436.00 48.88,436.00 54.57,436.00 60.26,436.00 65.95,436.00 71.64,436.00 77.33,436.00 83.02,436.00 88.71,436.00 94.40,436.00 100.09,436.00 105.78,436.00 111.47,436.00 117.16,436.00 122.85,436.00 128.54,436.00 134.23,436.00 139.92,436.00 145.61,436.00 151.30,436.00 156.99,436.00 162.68,436.00 168.37,436.00 174.06,436.00 179.75,436.00 185.44,436.00 191.13,436.00 196.82,436.00 202.51,436.00 208.20,435.50 213.89,433.80 219.58,430.60 225.27,425.80 230.96,420.00 236.65,411.00 242.34,400.00 248.03,388.00 253.72,377.00 259.41,366.70 265.10,356.00" fill="none" stroke="#2f9b96" stroke-width="0.6" stroke-linejoin="round"/>
<rect x="42.34" y="435.15" width="1.7" height="1.7" rx="0.6" fill="#2f9b96"/>
<rect x="48.03" y="435.15" width="1.7" height="1.7" rx="0.6" fill="#2f9b96"/>
<rect x="53.72" y="435.15" width="1.7" height="1.7" rx="0.6" fill="#2f9b96"/>
<rect x="59.41" y="435.15" width="1.7" height="1.7" rx="0.6" fill="#2f9b96"/>
<rect x="65.10" y="435.15" width="1.7" height="1.7" rx="0.6" fill="#2f9b96"/>
<rect x="70.79" y="435.15" width="1.7" height="1.7" rx="0.6" fill="#2f9b96"/>
<rect x="76.48" y="435.15" width="1.7" height="1.7" rx="0.6" fill="#2f9b96"/>
<rect x="82.17" y="435.15" width="1.7" height="1.7" rx="0.6" fill="#2f9b96"/>
<rect x="87.86" y="435.15" width="1.7" height="1.7" rx="0.6" fill="#2f9b96"/>
<rect x="93.55" y="435.15" width="1.7" height="1.7" rx="0.6" fill="#2f9b96"/>
<rect x="99.24" y="435.15" width="1.7" height="1.7" rx="0.6" fill="#2f9b96"/>
<rect x="104.93" y="435.15" width="1.7" height="1.7" rx="0.6" fill="#2f9b96"/>
<rect x="110.62" y="435.15" width="1.7" height="1.7" rx="0.6" fill="#2f9b96"/>
<rect x="116.31" y="435.15" width="1.7" height="1.7" rx="0.6" fill="#2f9b96"/>
<rect x="122.00" y="435.15" width="1.7" height="1.7" rx="0.6" fill="#2f9b96"/>
<rect x="127.69" y="435.15" width="1.7" height="1.7" rx="0.6" fill="#2f9b96"/>
<rect x="133.38" y="435.15" width="1.7" height="1.7" rx="0.6" fill="#2f9b96"/>
<rect x="139.07" y="435.15" width="1.7" height="1.7" rx="0.6" fill="#2f9b96"/>
<rect x="144.76" y="435.15" width="1.7" height="1.7" rx="0.6" fill="#2f9b96"/>
<rect x="150.45" y="435.15" width="1.7" height="1.7" rx="0.6" fill="#2f9b96"/>
<rect x="156.14" y="435.15" width="1.7" height="1.7" rx="0.6" fill="#2f9b96"/>
<rect x="161.83" y="435.15" width="1.7" height="1.7" rx="0.6" fill="#2f9b96"/>
<rect x="167.52" y="435.15" width="1.7" height="1.7" rx="0.6" fill="#2f9b96"/>
<rect x="173.21" y="435.15" width="1.7" height="1.7" rx="0.6" fill="#2f9b96"/>
<rect x="178.90" y="435.15" width="1.7" height="1.7" rx="0.6" fill="#2f9b96"/>
<rect x="184.59" y="435.15" width="1.7" height="1.7" rx="0.6" fill="#2f9b96"/>
<rect x="190.28" y="435.15" width="1.7" height="1.7" rx="0.6" fill="#2f9b96"/>
<rect x="195.97" y="435.15" width="1.7" height="1.7" rx="0.6" fill="#2f9b96"/>
<rect x="201.66" y="435.15" width="1.7" height="1.7" rx="0.6" fill="#2f9b96"/>
<rect x="207.35" y="434.65" width="1.7" height="1.7" rx="0.6" fill="#2f9b96"/>
<rect x="213.04" y="432.95" width="1.7" height="1.7" rx="0.6" fill="#2f9b96"/>
<rect x="218.73" y="429.75" width="1.7" height="1.7" rx="0.6" fill="#2f9b96"/>
<rect x="224.42" y="424.95" width="1.7" height="1.7" rx="0.6" fill="#2f9b96"/>
<rect x="230.11" y="419.15" width="1.7" height="1.7" rx="0.6" fill="#2f9b96"/>
<rect x="235.80" y="410.15" width="1.7" height="1.7" rx="0.6" fill="#2f9b96"/>
<rect x="241.49" y="399.15" width="1.7" height="1.7" rx="0.6" fill="#2f9b96"/>
<rect x="247.18" y="387.15" width="1.7" height="1.7" rx="0.6" fill="#2f9b96"/>
<rect x="252.87" y="376.15" width="1.7" height="1.7" rx="0.6" fill="#2f9b96"/>
<rect x="258.56" y="365.85" width="1.7" height="1.7" rx="0.6" fill="#2f9b96"/>
<rect x="264.25" y="355.15" width="1.7" height="1.7" rx="0.6" fill="#2f9b96"/>
<polyline points="43.19,431.80 48.88,432.30 54.57,433.50 60.26,434.50 65.95,435.20 71.64,435.60 77.33,436.00 83.02,436.00 88.71,436.00 94.40,436.00 100.09,436.00 105.78,436.00 111.47,436.00 117.16,436.00 122.85,436.00 128.54,436.00 134.23,436.00 139.92,436.00 145.61,436.00 151.30,436.00 156.99,436.00 162.68,436.00 168.37,436.00 174.06,436.00 179.75,436.00 185.44,436.00 191.13,436.00 196.82,436.00 202.51,435.40 208.20,434.00 213.89,431.90 219.58,428.00 225.27,421.80 230.96,413.20 236.65,401.80 242.34,388.50 248.03,375.20 253.72,362.00 259.41,350.00 265.10,340.00" fill="none" stroke="#a9a51e" stroke-width="0.6" stroke-linejoin="round"/>
<rect x="42.34" y="430.95" width="1.7" height="1.7" rx="0.6" fill="#a9a51e"/>
<rect x="48.03" y="431.45" width="1.7" height="1.7" rx="0.6" fill="#a9a51e"/>
<rect x="53.72" y="432.65" width="1.7" height="1.7" rx="0.6" fill="#a9a51e"/>
<rect x="59.41" y="433.65" width="1.7" height="1.7" rx="0.6" fill="#a9a51e"/>
<rect x="65.10" y="434.35" width="1.7" height="1.7" rx="0.6" fill="#a9a51e"/>
<rect x="70.79" y="434.75" width="1.7" height="1.7" rx="0.6" fill="#a9a51e"/>
<rect x="76.48" y="435.15" width="1.7" height="1.7" rx="0.6" fill="#a9a51e"/>
<rect x="82.17" y="435.15" width="1.7" height="1.7" rx="0.6" fill="#a9a51e"/>
<rect x="87.86" y="435.15" width="1.7" height="1.7" rx="0.6" fill="#a9a51e"/>
<rect x="93.55" y="435.15" width="1.7" height="1.7" rx="0.6" fill="#a9a51e"/>
<rect x="99.24" y="435.15" width="1.7" height="1.7" rx="0.6" fill="#a9a51e"/>
<rect x="104.93" y="435.15" width="1.7" height="1.7" rx="0.6" fill="#a9a51e"/>
<rect x="110.62" y="435.15" width="1.7" height="1.7" rx="0.6" fill="#a9a51e"/>
<rect x="116.31" y="435.15" width="1.7" height="1.7" rx="0.6" fill="#a9a51e"/>
<rect x="122.00" y="435.15" width="1.7" height="1.7" rx="0.6" fill="#a9a51e"/>
<rect x="127.69" y="435.15" width="1.7" height="1.7" rx="0.6" fill="#a9a51e"/>
<rect x="133.38" y="435.15" width="1.7" height="1.7" rx="0.6" fill="#a9a51e"/>
<rect x="139.07" y="435.15" width="1.7" height="1.7" rx="0.6" fill="#a9a51e"/>
<rect x="144.76" y="435.15" width="1.7" height="1.7" rx="0.6" fill="#a9a51e"/>
<rect x="150.45" y="435.15" width="1.7" height="1.7" rx="0.6" fill="#a9a51e"/>
<rect x="156.14" y="435.15" width="1.7" height="1.7" rx="0.6" fill="#a9a51e"/>
<rect x="161.83" y="435.15" width="1.7" height="1.7" rx="0.6" fill="#a9a51e"/>
<rect x="167.52" y="435.15" width="1.7" height="1.7" rx="0.6" fill="#a9a51e"/>
<rect x="173.21" y="435.15" width="1.7" height="1.7" rx="0.6" fill="#a9a51e"/>
<rect x="178.90" y="435.15" width="1.7" height="1.7" rx="0.6" fill="#a9a51e"/>
<rect x="184.59" y="435.15" width="1.7" height="1.7" rx="0.6" fill="#a9a51e"/>
<rect x="190.28" y="435.15" width="1.7" height="1.7" rx="0.6" fill="#a9a51e"/>
<rect x="195.97" y="435.15" width="1.7" height="1.7" rx="0.6" fill="#a9a51e"/>
<rect x="201.66" y="434.55" width="1.7" height="1.7" rx="0.6" fill="#a9a51e"/>
<rect x="207.35" y="433.15" width="1.7" height="1.7" rx="0.6" fill="#a9a51e"/>
<rect x="213.04" y="431.05" width="1.7" height="1.7" rx="0.6" fill="#a9a51e"/>
<rect x="218.73" y="427.15" width="1.7" height="1.7" rx="0.6" fill="#a9a51e"/>
<rect x="224.42" y="420.95" width="1.7" height="1.7" rx="0.6" fill="#a9a51e"/>
<rect x="230.11" y="412.35" width="1.7" height="1.7" rx="0.6" fill="#a9a51e"/>
<rect x="235.80" y="400.95" width="1.7" height="1.7" rx="0.6" fill="#a9a51e"/>
<rect x="241.49" y="387.65" width="1.7" height="1.7" rx="0.6" fill="#a9a51e"/>
<rect x="247.18" y="374.35" width="1.7" height="1.7" rx="0.6" fill="#a9a51e"/>
<rect x="252.87" y="361.15" width="1.7" height="1.7" rx="0.6" fill="#a9a51e"/>
<rect x="258.56" y="349.15" width="1.7" height="1.7" rx="0.6" fill="#a9a51e"/>
<rect x="264.25" y="339.15" width="1.7" height="1.7" rx="0.6" fill="#a9a51e"/>
<polyline points="43.19,436.00 48.88,436.00 54.57,436.00 60.26,436.00 65.95,436.00 71.64,436.00 77.33,436.00 83.02,436.00 88.71,436.00 94.40,436.00 100.09,436.00 105.78,436.00 111.47,436.00 117.16,436.00 122.85,436.00 128.54,436.00 134.23,436.00 139.92,436.00 145.61,436.00 151.30,436.00 156.99,436.00 162.68,436.00 168.37,436.00 174.06,436.00 179.75,436.00 185.44,436.00 191.13,435.60 196.82,434.40 202.51,432.40 208.20,429.40 213.89,424.30 219.58,416.10 225.27,405.60 230.96,393.30 236.65,380.00 242.34,369.00 248.03,358.50 253.72,346.00 259.41,334.00 265.10,323.20" fill="none" stroke="#a09a98" stroke-width="0.6" stroke-linejoin="round"/>
<rect x="42.34" y="435.15" width="1.7" height="1.7" rx="0.6" fill="#a09a98"/>
<rect x="48.03" y="435.15" width="1.7" height="1.7" rx="0.6" fill="#a09a98"/>
<rect x="53.72" y="435.15" width="1.7" height="1.7" rx="0.6" fill="#a09a98"/>
<rect x="59.41" y="435.15" width="1.7" height="1.7" rx="0.6" fill="#a09a98"/>
<rect x="65.10" y="435.15" width="1.7" height="1.7" rx="0.6" fill="#a09a98"/>
<rect x="70.79" y="435.15" width="1.7" height="1.7" rx="0.6" fill="#a09a98"/>
<rect x="76.48" y="435.15" width="1.7" height="1.7" rx="0.6" fill="#a09a98"/>
<rect x="82.17" y="435.15" width="1.7" height="1.7" rx="0.6" fill="#a09a98"/>
<rect x="87.86" y="435.15" width="1.7" height="1.7" rx="0.6" fill="#a09a98"/>
<rect x="93.55" y="435.15" width="1.7" height="1.7" rx="0.6" fill="#a09a98"/>
<rect x="99.24" y="435.15" width="1.7" height="1.7" rx="0.6" fill="#a09a98"/>
<rect x="104.93" y="435.15" width="1.7" height="1.7" rx="0.6" fill="#a09a98"/>
<rect x="110.62" y="435.15" width="1.7" height="1.7" rx="0.6" fill="#a09a98"/>
<rect x="116.31" y="435.15" width="1.7" height="1.7" rx="0.6" fill="#a09a98"/>
<rect x="122.00" y="435.15" width="1.7" height="1.7" rx="0.6" fill="#a09a98"/>
<rect x="127.69" y="435.15" width="1.7" height="1.7" rx="0.6" fill="#a09a98"/>
<rect x="133.38" y="435.15" width="1.7" height="1.7" rx="0.6" fill="#a09a98"/>
<rect x="139.07" y="435.15" width="1.7" height="1.7" rx="0.6" fill="#a09a98"/>
<rect x="144.76" y="435.15" width="1.7" height="1.7" rx="0.6" fill="#a09a98"/>
<rect x="150.45" y="435.15" width="1.7" height="1.7" rx="0.6" fill="#a09a98"/>
<rect x="156.14" y="435.15" width="1.7" height="1.7" rx="0.6" fill="#a09a98"/>
<rect x="161.83" y="435.15" width="1.7" height="1.7" rx="0.6" fill="#a09a98"/>
<rect x="167.52" y="435.15" width="1.7" height="1.7" rx="0.6" fill="#a09a98"/>
<rect x="173.21" y="435.15" width="1.7" height="1.7" rx="0.6" fill="#a09a98"/>
<rect x="178.90" y="435.15" width="1.7" height="1.7" rx="0.6" fill="#a09a98"/>
<rect x="184.59" y="435.15" width="1.7" height="1.7" rx="0.6" fill="#a09a98"/>
<rect x="190.28" y="434.75" width="1.7" height="1.7" rx="0.6" fill="#a09a98"/>
<rect x="195.97" y="433.55" width="1.7" height="1.7" rx="0.6" fill="#a09a98"/>
<rect x="201.66" y="431.55" width="1.7" height="1.7" rx="0.6" fill="#a09a98"/>
<rect x="207.35" y="428.55" width="1.7" height="1.7" rx="0.6" fill="#a09a98"/>
<rect x="213.04" y="423.45" width="1.7" height="1.7" rx="0.6" fill="#a09a98"/>
<rect x="218.73" y="415.25" width="1.7" height="1.7" rx="0.6" fill="#a09a98"/>
<rect x="224.42" y="404.75" width="1.7" height="1.7" rx="0.6" fill="#a09a98"/>
<rect x="230.11" y="392.45" width="1.7" height="1.7" rx="0.6" fill="#a09a98"/>
<rect x="235.80" y="379.15" width="1.7" height="1.7" rx="0.6" fill="#a09a98"/>
<rect x="241.49" y="368.15" width="1.7" height="1.7" rx="0.6" fill="#a09a98"/>
<rect x="247.18" y="357.65" width="1.7" height="1.7" rx="0.6" fill="#a09a98"/>
<rect x="252.87" y="345.15" width="1.7" height="1.7" rx="0.6" fill="#a09a98"/>
<rect x="258.56" y="333.15" width="1.7" height="1.7" rx="0.6" fill="#a09a98"/>
<rect x="264.25" y="322.35" width="1.7" height="1.7" rx="0.6" fill="#a09a98"/>
<polyline points="43.19,434.50 48.88,435.20 54.57,435.70 60.26,436.00 65.95,436.00 71.64,436.00 77.33,436.00 83.02,436.00 88.71,436.00 94.40,436.00 100.09,436.00 105.78,436.00 111.47,436.00 117.16,436.00 122.85,436.00 128.54,436.00 134.23,436.00 139.92,436.00 145.61,436.00 151.30,436.00 156.99,436.00 162.68,436.00 168.37,436.00 174.06,435.50 179.75,434.50 185.44,432.80 191.13,430.00 196.82,425.00 202.51,417.00 208.20,406.60 213.89,393.80 219.58,380.00 225.27,366.70 230.96,353.70 236.65,341.70 242.34,331.40 248.03,322.30 253.72,315.00 259.41,308.60 265.10,303.20" fill="none" stroke="#3fa63a" stroke-width="0.6" stroke-linejoin="round"/>
<rect x="42.34" y="433.65" width="1.7" height="1.7" rx="0.6" fill="#2f9a2f"/>
<rect x="48.03" y="434.35" width="1.7" height="1.7" rx="0.6" fill="#2f9a2f"/>
<rect x="53.72" y="434.85" width="1.7" height="1.7" rx="0.6" fill="#2f9a2f"/>
<rect x="59.41" y="435.15" width="1.7" height="1.7" rx="0.6" fill="#2f9a2f"/>
<rect x="65.10" y="435.15" width="1.7" height="1.7" rx="0.6" fill="#2f9a2f"/>
<rect x="70.79" y="435.15" width="1.7" height="1.7" rx="0.6" fill="#2f9a2f"/>
<rect x="76.48" y="435.15" width="1.7" height="1.7" rx="0.6" fill="#2f9a2f"/>
<rect x="82.17" y="435.15" width="1.7" height="1.7" rx="0.6" fill="#2f9a2f"/>
<rect x="87.86" y="435.15" width="1.7" height="1.7" rx="0.6" fill="#2f9a2f"/>
<rect x="93.55" y="435.15" width="1.7" height="1.7" rx="0.6" fill="#2f9a2f"/>
<rect x="99.24" y="435.15" width="1.7" height="1.7" rx="0.6" fill="#2f9a2f"/>
<rect x="104.93" y="435.15" width="1.7" height="1.7" rx="0.6" fill="#2f9a2f"/>
<rect x="110.62" y="435.15" width="1.7" height="1.7" rx="0.6" fill="#2f9a2f"/>
<rect x="116.31" y="435.15" width="1.7" height="1.7" rx="0.6" fill="#2f9a2f"/>
<rect x="122.00" y="435.15" width="1.7" height="1.7" rx="0.6" fill="#2f9a2f"/>
<rect x="127.69" y="435.15" width="1.7" height="1.7" rx="0.6" fill="#2f9a2f"/>
<rect x="133.38" y="435.15" width="1.7" height="1.7" rx="0.6" fill="#2f9a2f"/>
<rect x="139.07" y="435.15" width="1.7" height="1.7" rx="0.6" fill="#2f9a2f"/>
<rect x="144.76" y="435.15" width="1.7" height="1.7" rx="0.6" fill="#2f9a2f"/>
<rect x="150.45" y="435.15" width="1.7" height="1.7" rx="0.6" fill="#2f9a2f"/>
<rect x="156.14" y="435.15" width="1.7" height="1.7" rx="0.6" fill="#2f9a2f"/>
<rect x="161.83" y="435.15" width="1.7" height="1.7" rx="0.6" fill="#2f9a2f"/>
<rect x="167.52" y="435.15" width="1.7" height="1.7" rx="0.6" fill="#2f9a2f"/>
<rect x="173.21" y="434.65" width="1.7" height="1.7" rx="0.6" fill="#2f9a2f"/>
<rect x="178.90" y="433.65" width="1.7" height="1.7" rx="0.6" fill="#2f9a2f"/>
<rect x="184.59" y="431.95" width="1.7" height="1.7" rx="0.6" fill="#2f9a2f"/>
<rect x="190.28" y="429.15" width="1.7" height="1.7" rx="0.6" fill="#2f9a2f"/>
<rect x="195.97" y="424.15" width="1.7" height="1.7" rx="0.6" fill="#2f9a2f"/>
<rect x="201.66" y="416.15" width="1.7" height="1.7" rx="0.6" fill="#2f9a2f"/>
<rect x="207.35" y="405.75" width="1.7" height="1.7" rx="0.6" fill="#2f9a2f"/>
<rect x="213.04" y="392.95" width="1.7" height="1.7" rx="0.6" fill="#2f9a2f"/>
<rect x="218.73" y="379.15" width="1.7" height="1.7" rx="0.6" fill="#2f9a2f"/>
<rect x="224.42" y="365.85" width="1.7" height="1.7" rx="0.6" fill="#2f9a2f"/>
<rect x="230.11" y="352.85" width="1.7" height="1.7" rx="0.6" fill="#2f9a2f"/>
<rect x="235.80" y="340.85" width="1.7" height="1.7" rx="0.6" fill="#2f9a2f"/>
<rect x="241.49" y="330.55" width="1.7" height="1.7" rx="0.6" fill="#2f9a2f"/>
<rect x="247.18" y="321.45" width="1.7" height="1.7" rx="0.6" fill="#2f9a2f"/>
<rect x="252.87" y="314.15" width="1.7" height="1.7" rx="0.6" fill="#2f9a2f"/>
<rect x="258.56" y="307.75" width="1.7" height="1.7" rx="0.6" fill="#2f9a2f"/>
<rect x="264.25" y="302.35" width="1.7" height="1.7" rx="0.6" fill="#2f9a2f"/>
<polyline points="43.19,436.00 48.88,436.00 54.57,436.00 60.26,436.00 65.95,436.00 71.64,436.00 77.33,436.00 83.02,436.00 88.71,436.00 94.40,436.00 100.09,436.00 105.78,436.00 111.47,436.00 117.16,436.00 122.85,436.00 128.54,436.00 134.23,435.90 139.92,435.50 145.61,434.50 151.30,432.60 156.99,429.40 162.68,424.30 168.37,416.10 174.06,406.20 179.75,394.40 185.44,382.40 191.13,371.00 196.82,358.60 202.51,348.60 208.20,340.60 213.89,333.70 219.58,327.70 225.27,322.60 230.96,318.80 236.65,315.90 242.34,313.70 248.03,312.30 253.72,311.00 259.41,310.10 265.10,309.20" fill="none" stroke="#2a3fb0" stroke-width="0.7" stroke-linejoin="round"/>
<rect x="42.24" y="435.05" width="1.9" height="1.9" rx="0.6" fill="#1a1f9a"/>
<rect x="47.93" y="435.05" width="1.9" height="1.9" rx="0.6" fill="#1a1f9a"/>
<rect x="53.62" y="435.05" width="1.9" height="1.9" rx="0.6" fill="#1a1f9a"/>
<rect x="59.31" y="435.05" width="1.9" height="1.9" rx="0.6" fill="#1a1f9a"/>
<rect x="65.00" y="435.05" width="1.9" height="1.9" rx="0.6" fill="#1a1f9a"/>
<rect x="70.69" y="435.05" width="1.9" height="1.9" rx="0.6" fill="#1a1f9a"/>
<rect x="76.38" y="435.05" width="1.9" height="1.9" rx="0.6" fill="#1a1f9a"/>
<rect x="82.07" y="435.05" width="1.9" height="1.9" rx="0.6" fill="#1a1f9a"/>
<rect x="87.76" y="435.05" width="1.9" height="1.9" rx="0.6" fill="#1a1f9a"/>
<rect x="93.45" y="435.05" width="1.9" height="1.9" rx="0.6" fill="#1a1f9a"/>
<rect x="99.14" y="435.05" width="1.9" height="1.9" rx="0.6" fill="#1a1f9a"/>
<rect x="104.83" y="435.05" width="1.9" height="1.9" rx="0.6" fill="#1a1f9a"/>
<rect x="110.52" y="435.05" width="1.9" height="1.9" rx="0.6" fill="#1a1f9a"/>
<rect x="116.21" y="435.05" width="1.9" height="1.9" rx="0.6" fill="#1a1f9a"/>
<rect x="121.90" y="435.05" width="1.9" height="1.9" rx="0.6" fill="#1a1f9a"/>
<rect x="127.59" y="435.05" width="1.9" height="1.9" rx="0.6" fill="#1a1f9a"/>
<rect x="133.28" y="434.95" width="1.9" height="1.9" rx="0.6" fill="#1a1f9a"/>
<rect x="138.97" y="434.55" width="1.9" height="1.9" rx="0.6" fill="#1a1f9a"/>
<rect x="144.66" y="433.55" width="1.9" height="1.9" rx="0.6" fill="#1a1f9a"/>
<rect x="150.35" y="431.65" width="1.9" height="1.9" rx="0.6" fill="#1a1f9a"/>
<rect x="156.04" y="428.45" width="1.9" height="1.9" rx="0.6" fill="#1a1f9a"/>
<rect x="161.73" y="423.35" width="1.9" height="1.9" rx="0.6" fill="#1a1f9a"/>
<rect x="167.42" y="415.15" width="1.9" height="1.9" rx="0.6" fill="#1a1f9a"/>
<rect x="173.11" y="405.25" width="1.9" height="1.9" rx="0.6" fill="#1a1f9a"/>
<rect x="178.80" y="393.45" width="1.9" height="1.9" rx="0.6" fill="#1a1f9a"/>
<rect x="184.49" y="381.45" width="1.9" height="1.9" rx="0.6" fill="#1a1f9a"/>
<rect x="190.18" y="370.05" width="1.9" height="1.9" rx="0.6" fill="#1a1f9a"/>
<rect x="195.87" y="357.65" width="1.9" height="1.9" rx="0.6" fill="#1a1f9a"/>
<rect x="201.56" y="347.65" width="1.9" height="1.9" rx="0.6" fill="#1a1f9a"/>
<rect x="207.25" y="339.65" width="1.9" height="1.9" rx="0.6" fill="#1a1f9a"/>
<rect x="212.94" y="332.75" width="1.9" height="1.9" rx="0.6" fill="#1a1f9a"/>
<rect x="218.63" y="326.75" width="1.9" height="1.9" rx="0.6" fill="#1a1f9a"/>
<rect x="224.32" y="321.65" width="1.9" height="1.9" rx="0.6" fill="#1a1f9a"/>
<rect x="230.01" y="317.85" width="1.9" height="1.9" rx="0.6" fill="#1a1f9a"/>
<rect x="235.70" y="314.95" width="1.9" height="1.9" rx="0.6" fill="#1a1f9a"/>
<rect x="241.39" y="312.75" width="1.9" height="1.9" rx="0.6" fill="#1a1f9a"/>
<rect x="247.08" y="311.35" width="1.9" height="1.9" rx="0.6" fill="#1a1f9a"/>
<rect x="252.77" y="310.05" width="1.9" height="1.9" rx="0.6" fill="#1a1f9a"/>
<rect x="258.46" y="309.15" width="1.9" height="1.9" rx="0.6" fill="#1a1f9a"/>
<rect x="264.15" y="308.25" width="1.9" height="1.9" rx="0.6" fill="#1a1f9a"/>
<polyline points="43.19,437.80 48.88,438.00 54.57,437.50 60.26,437.30 65.95,437.00 71.64,436.60 77.33,436.30 83.02,436.00 88.71,436.00 94.40,436.00 100.09,436.00 105.78,436.00 111.47,436.00 117.16,436.00 122.85,436.00 128.54,436.00 134.23,436.00 139.92,436.00 145.61,436.00 151.30,436.00 156.99,435.90 162.68,435.50 168.37,434.10 174.06,431.90 179.75,428.00 185.44,421.20 191.13,411.70 196.82,400.90 202.51,388.10 208.20,375.20 213.89,362.30 219.58,350.80 225.27,341.40 230.96,332.60 236.65,325.00 242.34,319.00 248.03,314.10 253.72,310.50 259.41,307.40 265.10,304.10" fill="none" stroke="#b23a3a" stroke-width="0.7" stroke-linejoin="round"/>
<rect x="42.24" y="436.85" width="1.9" height="1.9" rx="0.6" fill="#a81818"/>
<rect x="47.93" y="437.05" width="1.9" height="1.9" rx="0.6" fill="#a81818"/>
<rect x="53.62" y="436.55" width="1.9" height="1.9" rx="0.6" fill="#a81818"/>
<rect x="59.31" y="436.35" width="1.9" height="1.9" rx="0.6" fill="#a81818"/>
<rect x="65.00" y="436.05" width="1.9" height="1.9" rx="0.6" fill="#a81818"/>
<rect x="70.69" y="435.65" width="1.9" height="1.9" rx="0.6" fill="#a81818"/>
<rect x="76.38" y="435.35" width="1.9" height="1.9" rx="0.6" fill="#a81818"/>
<rect x="82.07" y="435.05" width="1.9" height="1.9" rx="0.6" fill="#a81818"/>
<rect x="87.76" y="435.05" width="1.9" height="1.9" rx="0.6" fill="#a81818"/>
<rect x="93.45" y="435.05" width="1.9" height="1.9" rx="0.6" fill="#a81818"/>
<rect x="99.14" y="435.05" width="1.9" height="1.9" rx="0.6" fill="#a81818"/>
<rect x="104.83" y="435.05" width="1.9" height="1.9" rx="0.6" fill="#a81818"/>
<rect x="110.52" y="435.05" width="1.9" height="1.9" rx="0.6" fill="#a81818"/>
<rect x="116.21" y="435.05" width="1.9" height="1.9" rx="0.6" fill="#a81818"/>
<rect x="121.90" y="435.05" width="1.9" height="1.9" rx="0.6" fill="#a81818"/>
<rect x="127.59" y="435.05" width="1.9" height="1.9" rx="0.6" fill="#a81818"/>
<rect x="133.28" y="435.05" width="1.9" height="1.9" rx="0.6" fill="#a81818"/>
<rect x="138.97" y="435.05" width="1.9" height="1.9" rx="0.6" fill="#a81818"/>
<rect x="144.66" y="435.05" width="1.9" height="1.9" rx="0.6" fill="#a81818"/>
<rect x="150.35" y="435.05" width="1.9" height="1.9" rx="0.6" fill="#a81818"/>
<rect x="156.04" y="434.95" width="1.9" height="1.9" rx="0.6" fill="#a81818"/>
<rect x="161.73" y="434.55" width="1.9" height="1.9" rx="0.6" fill="#a81818"/>
<rect x="167.42" y="433.15" width="1.9" height="1.9" rx="0.6" fill="#a81818"/>
<rect x="173.11" y="430.95" width="1.9" height="1.9" rx="0.6" fill="#a81818"/>
<rect x="178.80" y="427.05" width="1.9" height="1.9" rx="0.6" fill="#a81818"/>
<rect x="184.49" y="420.25" width="1.9" height="1.9" rx="0.6" fill="#a81818"/>
<rect x="190.18" y="410.75" width="1.9" height="1.9" rx="0.6" fill="#a81818"/>
<rect x="195.87" y="399.95" width="1.9" height="1.9" rx="0.6" fill="#a81818"/>
<rect x="201.56" y="387.15" width="1.9" height="1.9" rx="0.6" fill="#a81818"/>
<rect x="207.25" y="374.25" width="1.9" height="1.9" rx="0.6" fill="#a81818"/>
<rect x="212.94" y="361.35" width="1.9" height="1.9" rx="0.6" fill="#a81818"/>
<rect x="218.63" y="349.85" width="1.9" height="1.9" rx="0.6" fill="#a81818"/>
<rect x="224.32" y="340.45" width="1.9" height="1.9" rx="0.6" fill="#a81818"/>
<rect x="230.01" y="331.65" width="1.9" height="1.9" rx="0.6" fill="#a81818"/>
<rect x="235.70" y="324.05" width="1.9" height="1.9" rx="0.6" fill="#a81818"/>
<rect x="241.39" y="318.05" width="1.9" height="1.9" rx="0.6" fill="#a81818"/>
<rect x="247.08" y="313.15" width="1.9" height="1.9" rx="0.6" fill="#a81818"/>
<rect x="252.77" y="309.55" width="1.9" height="1.9" rx="0.6" fill="#a81818"/>
<rect x="258.46" y="306.45" width="1.9" height="1.9" rx="0.6" fill="#a81818"/>
<rect x="264.15" y="303.15" width="1.9" height="1.9" rx="0.6" fill="#a81818"/>
<polyline points="43.19,436.00 48.88,436.00 54.57,436.00 60.26,436.00 65.95,436.00 71.64,436.00 77.33,436.00 83.02,436.00 88.71,436.00 94.40,436.00 100.09,436.00 105.78,436.00 111.47,436.00 117.16,436.00 122.85,436.00 128.54,436.00 134.23,436.00 139.92,436.00 145.61,436.00 151.30,436.00 156.99,436.00 162.68,436.00 168.37,436.00 174.06,436.00 179.75,436.00 185.44,436.00 191.13,436.00 196.82,436.00 202.51,436.00 208.20,436.00 213.89,436.00 219.58,436.00 225.27,436.00 230.96,436.00 236.65,436.00 242.34,436.00 248.03,436.00 253.72,436.00 259.41,436.00 265.10,436.00" fill="none" stroke="#a868b4" stroke-width="0.6" stroke-linejoin="round"/>
<rect x="42.34" y="435.15" width="1.7" height="1.7" rx="0.6" fill="#9a4fa6"/>
<rect x="48.03" y="435.15" width="1.7" height="1.7" rx="0.6" fill="#9a4fa6"/>
<rect x="53.72" y="435.15" width="1.7" height="1.7" rx="0.6" fill="#9a4fa6"/>
<rect x="59.41" y="435.15" width="1.7" height="1.7" rx="0.6" fill="#9a4fa6"/>
<rect x="65.10" y="435.15" width="1.7" height="1.7" rx="0.6" fill="#9a4fa6"/>
<rect x="70.79" y="435.15" width="1.7" height="1.7" rx="0.6" fill="#9a4fa6"/>
<rect x="76.48" y="435.15" width="1.7" height="1.7" rx="0.6" fill="#9a4fa6"/>
<rect x="82.17" y="435.15" width="1.7" height="1.7" rx="0.6" fill="#9a4fa6"/>
<rect x="87.86" y="435.15" width="1.7" height="1.7" rx="0.6" fill="#9a4fa6"/>
<rect x="93.55" y="435.15" width="1.7" height="1.7" rx="0.6" fill="#9a4fa6"/>
<rect x="99.24" y="435.15" width="1.7" height="1.7" rx="0.6" fill="#9a4fa6"/>
<rect x="104.93" y="435.15" width="1.7" height="1.7" rx="0.6" fill="#9a4fa6"/>
<rect x="110.62" y="435.15" width="1.7" height="1.7" rx="0.6" fill="#9a4fa6"/>
<rect x="116.31" y="435.15" width="1.7" height="1.7" rx="0.6" fill="#9a4fa6"/>
<rect x="122.00" y="435.15" width="1.7" height="1.7" rx="0.6" fill="#9a4fa6"/>
<rect x="127.69" y="435.15" width="1.7" height="1.7" rx="0.6" fill="#9a4fa6"/>
<rect x="133.38" y="435.15" width="1.7" height="1.7" rx="0.6" fill="#9a4fa6"/>
<rect x="139.07" y="435.15" width="1.7" height="1.7" rx="0.6" fill="#9a4fa6"/>
<rect x="144.76" y="435.15" width="1.7" height="1.7" rx="0.6" fill="#9a4fa6"/>
<rect x="150.45" y="435.15" width="1.7" height="1.7" rx="0.6" fill="#9a4fa6"/>
<rect x="156.14" y="435.15" width="1.7" height="1.7" rx="0.6" fill="#9a4fa6"/>
<rect x="161.83" y="435.15" width="1.7" height="1.7" rx="0.6" fill="#9a4fa6"/>
<rect x="167.52" y="435.15" width="1.7" height="1.7" rx="0.6" fill="#9a4fa6"/>
<rect x="173.21" y="435.15" width="1.7" height="1.7" rx="0.6" fill="#9a4fa6"/>
<rect x="178.90" y="435.15" width="1.7" height="1.7" rx="0.6" fill="#9a4fa6"/>
<rect x="184.59" y="435.15" width="1.7" height="1.7" rx="0.6" fill="#9a4fa6"/>
<rect x="190.28" y="435.15" width="1.7" height="1.7" rx="0.6" fill="#9a4fa6"/>
<rect x="195.97" y="435.15" width="1.7" height="1.7" rx="0.6" fill="#9a4fa6"/>
<rect x="201.66" y="435.15" width="1.7" height="1.7" rx="0.6" fill="#9a4fa6"/>
<rect x="207.35" y="435.15" width="1.7" height="1.7" rx="0.6" fill="#9a4fa6"/>
<rect x="213.04" y="435.15" width="1.7" height="1.7" rx="0.6" fill="#9a4fa6"/>
<rect x="218.73" y="435.15" width="1.7" height="1.7" rx="0.6" fill="#9a4fa6"/>
<rect x="224.42" y="435.15" width="1.7" height="1.7" rx="0.6" fill="#9a4fa6"/>
<rect x="230.11" y="435.15" width="1.7" height="1.7" rx="0.6" fill="#9a4fa6"/>
<rect x="235.80" y="435.15" width="1.7" height="1.7" rx="0.6" fill="#9a4fa6"/>
<rect x="241.49" y="435.15" width="1.7" height="1.7" rx="0.6" fill="#9a4fa6"/>
<rect x="247.18" y="435.15" width="1.7" height="1.7" rx="0.6" fill="#9a4fa6"/>
<rect x="252.87" y="435.15" width="1.7" height="1.7" rx="0.6" fill="#9a4fa6"/>
<rect x="258.56" y="435.15" width="1.7" height="1.7" rx="0.6" fill="#9a4fa6"/>
<rect x="264.25" y="435.15" width="1.7" height="1.7" rx="0.6" fill="#9a4fa6"/>
<rect x="207.35" y="434.65" width="1.7" height="1.7" rx="0.6" fill="#2f9b96"/>
<rect x="213.04" y="432.95" width="1.7" height="1.7" rx="0.6" fill="#2f9b96"/>
<rect x="218.73" y="429.75" width="1.7" height="1.7" rx="0.6" fill="#2f9b96"/>
<rect x="224.42" y="424.95" width="1.7" height="1.7" rx="0.6" fill="#2f9b96"/>
<rect x="230.11" y="419.15" width="1.7" height="1.7" rx="0.6" fill="#2f9b96"/>
<rect x="235.80" y="410.15" width="1.7" height="1.7" rx="0.6" fill="#2f9b96"/>
<rect x="241.49" y="399.15" width="1.7" height="1.7" rx="0.6" fill="#2f9b96"/>
<rect x="247.18" y="387.15" width="1.7" height="1.7" rx="0.6" fill="#2f9b96"/>
<rect x="252.87" y="376.15" width="1.7" height="1.7" rx="0.6" fill="#2f9b96"/>
<rect x="258.56" y="365.85" width="1.7" height="1.7" rx="0.6" fill="#2f9b96"/>
<rect x="264.25" y="355.15" width="1.7" height="1.7" rx="0.6" fill="#2f9b96"/>
<rect x="201.66" y="434.55" width="1.7" height="1.7" rx="0.6" fill="#a9a51e"/>
<rect x="207.35" y="433.15" width="1.7" height="1.7" rx="0.6" fill="#a9a51e"/>
<rect x="213.04" y="431.05" width="1.7" height="1.7" rx="0.6" fill="#a9a51e"/>
<rect x="218.73" y="427.15" width="1.7" height="1.7" rx="0.6" fill="#a9a51e"/>
<rect x="224.42" y="420.95" width="1.7" height="1.7" rx="0.6" fill="#a9a51e"/>
<rect x="230.11" y="412.35" width="1.7" height="1.7" rx="0.6" fill="#a9a51e"/>
<rect x="235.80" y="400.95" width="1.7" height="1.7" rx="0.6" fill="#a9a51e"/>
<rect x="241.49" y="387.65" width="1.7" height="1.7" rx="0.6" fill="#a9a51e"/>
<rect x="247.18" y="374.35" width="1.7" height="1.7" rx="0.6" fill="#a9a51e"/>
<rect x="252.87" y="361.15" width="1.7" height="1.7" rx="0.6" fill="#a9a51e"/>
<rect x="258.56" y="349.15" width="1.7" height="1.7" rx="0.6" fill="#a9a51e"/>
<rect x="264.25" y="339.15" width="1.7" height="1.7" rx="0.6" fill="#a9a51e"/>
<rect x="190.28" y="434.75" width="1.7" height="1.7" rx="0.6" fill="#a09a98"/>
<rect x="195.97" y="433.55" width="1.7" height="1.7" rx="0.6" fill="#a09a98"/>
<rect x="201.66" y="431.55" width="1.7" height="1.7" rx="0.6" fill="#a09a98"/>
<rect x="207.35" y="428.55" width="1.7" height="1.7" rx="0.6" fill="#a09a98"/>
<rect x="213.04" y="423.45" width="1.7" height="1.7" rx="0.6" fill="#a09a98"/>
<rect x="218.73" y="415.25" width="1.7" height="1.7" rx="0.6" fill="#a09a98"/>
<rect x="224.42" y="404.75" width="1.7" height="1.7" rx="0.6" fill="#a09a98"/>
<rect x="230.11" y="392.45" width="1.7" height="1.7" rx="0.6" fill="#a09a98"/>
<rect x="235.80" y="379.15" width="1.7" height="1.7" rx="0.6" fill="#a09a98"/>
<rect x="241.49" y="368.15" width="1.7" height="1.7" rx="0.6" fill="#a09a98"/>
<rect x="247.18" y="357.65" width="1.7" height="1.7" rx="0.6" fill="#a09a98"/>
<rect x="252.87" y="345.15" width="1.7" height="1.7" rx="0.6" fill="#a09a98"/>
<rect x="258.56" y="333.15" width="1.7" height="1.7" rx="0.6" fill="#a09a98"/>
<rect x="264.25" y="322.35" width="1.7" height="1.7" rx="0.6" fill="#a09a98"/>
<rect x="173.21" y="434.65" width="1.7" height="1.7" rx="0.6" fill="#2f9a2f"/>
<rect x="178.90" y="433.65" width="1.7" height="1.7" rx="0.6" fill="#2f9a2f"/>
<rect x="184.59" y="431.95" width="1.7" height="1.7" rx="0.6" fill="#2f9a2f"/>
<rect x="190.28" y="429.15" width="1.7" height="1.7" rx="0.6" fill="#2f9a2f"/>
<rect x="195.97" y="424.15" width="1.7" height="1.7" rx="0.6" fill="#2f9a2f"/>
<rect x="201.66" y="416.15" width="1.7" height="1.7" rx="0.6" fill="#2f9a2f"/>
<rect x="207.35" y="405.75" width="1.7" height="1.7" rx="0.6" fill="#2f9a2f"/>
<rect x="213.04" y="392.95" width="1.7" height="1.7" rx="0.6" fill="#2f9a2f"/>
<rect x="218.73" y="379.15" width="1.7" height="1.7" rx="0.6" fill="#2f9a2f"/>
<rect x="224.42" y="365.85" width="1.7" height="1.7" rx="0.6" fill="#2f9a2f"/>
<rect x="230.11" y="352.85" width="1.7" height="1.7" rx="0.6" fill="#2f9a2f"/>
<rect x="235.80" y="340.85" width="1.7" height="1.7" rx="0.6" fill="#2f9a2f"/>
<rect x="241.49" y="330.55" width="1.7" height="1.7" rx="0.6" fill="#2f9a2f"/>
<rect x="247.18" y="321.45" width="1.7" height="1.7" rx="0.6" fill="#2f9a2f"/>
<rect x="252.87" y="314.15" width="1.7" height="1.7" rx="0.6" fill="#2f9a2f"/>
<rect x="258.56" y="307.75" width="1.7" height="1.7" rx="0.6" fill="#2f9a2f"/>
<rect x="264.25" y="302.35" width="1.7" height="1.7" rx="0.6" fill="#2f9a2f"/>
<rect x="138.97" y="434.55" width="1.9" height="1.9" rx="0.6" fill="#1a1f9a"/>
<rect x="144.66" y="433.55" width="1.9" height="1.9" rx="0.6" fill="#1a1f9a"/>
<rect x="150.35" y="431.65" width="1.9" height="1.9" rx="0.6" fill="#1a1f9a"/>
<rect x="156.04" y="428.45" width="1.9" height="1.9" rx="0.6" fill="#1a1f9a"/>
<rect x="161.73" y="423.35" width="1.9" height="1.9" rx="0.6" fill="#1a1f9a"/>
<rect x="167.42" y="415.15" width="1.9" height="1.9" rx="0.6" fill="#1a1f9a"/>
<rect x="173.11" y="405.25" width="1.9" height="1.9" rx="0.6" fill="#1a1f9a"/>
<rect x="178.80" y="393.45" width="1.9" height="1.9" rx="0.6" fill="#1a1f9a"/>
<rect x="184.49" y="381.45" width="1.9" height="1.9" rx="0.6" fill="#1a1f9a"/>
<rect x="190.18" y="370.05" width="1.9" height="1.9" rx="0.6" fill="#1a1f9a"/>
<rect x="195.87" y="357.65" width="1.9" height="1.9" rx="0.6" fill="#1a1f9a"/>
<rect x="201.56" y="347.65" width="1.9" height="1.9" rx="0.6" fill="#1a1f9a"/>
<rect x="207.25" y="339.65" width="1.9" height="1.9" rx="0.6" fill="#1a1f9a"/>
<rect x="212.94" y="332.75" width="1.9" height="1.9" rx="0.6" fill="#1a1f9a"/>
<rect x="218.63" y="326.75" width="1.9" height="1.9" rx="0.6" fill="#1a1f9a"/>
<rect x="224.32" y="321.65" width="1.9" height="1.9" rx="0.6" fill="#1a1f9a"/>
<rect x="230.01" y="317.85" width="1.9" height="1.9" rx="0.6" fill="#1a1f9a"/>
<rect x="235.70" y="314.95" width="1.9" height="1.9" rx="0.6" fill="#1a1f9a"/>
<rect x="241.39" y="312.75" width="1.9" height="1.9" rx="0.6" fill="#1a1f9a"/>
<rect x="247.08" y="311.35" width="1.9" height="1.9" rx="0.6" fill="#1a1f9a"/>
<rect x="252.77" y="310.05" width="1.9" height="1.9" rx="0.6" fill="#1a1f9a"/>
<rect x="258.46" y="309.15" width="1.9" height="1.9" rx="0.6" fill="#1a1f9a"/>
<rect x="264.15" y="308.25" width="1.9" height="1.9" rx="0.6" fill="#1a1f9a"/>
<rect x="161.73" y="434.55" width="1.9" height="1.9" rx="0.6" fill="#a81818"/>
<rect x="167.42" y="433.15" width="1.9" height="1.9" rx="0.6" fill="#a81818"/>
<rect x="173.11" y="430.95" width="1.9" height="1.9" rx="0.6" fill="#a81818"/>
<rect x="178.80" y="427.05" width="1.9" height="1.9" rx="0.6" fill="#a81818"/>
<rect x="184.49" y="420.25" width="1.9" height="1.9" rx="0.6" fill="#a81818"/>
<rect x="190.18" y="410.75" width="1.9" height="1.9" rx="0.6" fill="#a81818"/>
<rect x="195.87" y="399.95" width="1.9" height="1.9" rx="0.6" fill="#a81818"/>
<rect x="201.56" y="387.15" width="1.9" height="1.9" rx="0.6" fill="#a81818"/>
<rect x="207.25" y="374.25" width="1.9" height="1.9" rx="0.6" fill="#a81818"/>
<rect x="212.94" y="361.35" width="1.9" height="1.9" rx="0.6" fill="#a81818"/>
<rect x="218.63" y="349.85" width="1.9" height="1.9" rx="0.6" fill="#a81818"/>
<rect x="224.32" y="340.45" width="1.9" height="1.9" rx="0.6" fill="#a81818"/>
<rect x="230.01" y="331.65" width="1.9" height="1.9" rx="0.6" fill="#a81818"/>
<rect x="235.70" y="324.05" width="1.9" height="1.9" rx="0.6" fill="#a81818"/>
<rect x="241.39" y="318.05" width="1.9" height="1.9" rx="0.6" fill="#a81818"/>
<rect x="247.08" y="313.15" width="1.9" height="1.9" rx="0.6" fill="#a81818"/>
<rect x="252.77" y="309.55" width="1.9" height="1.9" rx="0.6" fill="#a81818"/>
<rect x="258.46" y="306.45" width="1.9" height="1.9" rx="0.6" fill="#a81818"/>
<rect x="264.15" y="303.15" width="1.9" height="1.9" rx="0.6" fill="#a81818"/>
<rect x="265.59999999999997" y="296.3" width="1.3" height="148.89999999999998" fill="#7cc0ee"/>
<text x="165" y="337" font-size="7.0" fill="#101a22" font-weight="normal" text-anchor="start" textLength="50.2" lengthAdjust="spacingAndGlyphs" stroke="#101a22" stroke-width="0.22">CoV2 Virion 200k</text>
<text x="176.2" y="351.5" font-size="7.0" fill="#101a22" font-weight="normal" text-anchor="start" textLength="46.3" lengthAdjust="spacingAndGlyphs" stroke="#101a22" stroke-width="0.22">CoV2 Virion 20k</text>
<text x="188.7" y="363.2" font-size="7.0" fill="#101a22" font-weight="normal" text-anchor="start" textLength="43" lengthAdjust="spacingAndGlyphs" stroke="#101a22" stroke-width="0.22">CoV2 Vision 2k</text>
<text x="195.5" y="374.4" font-size="7.0" fill="#101a22" font-weight="normal" text-anchor="start" textLength="47.1" lengthAdjust="spacingAndGlyphs" stroke="#101a22" stroke-width="0.22">CoV2 Virion 200</text>
<text x="204.8" y="385.7" font-size="7.0" fill="#101a22" font-weight="normal" text-anchor="start" textLength="43.8" lengthAdjust="spacingAndGlyphs" stroke="#101a22" stroke-width="0.22">CoV2 Virion 20</text>
<text x="213.6" y="400.6" font-size="7.0" fill="#101a22" font-weight="normal" text-anchor="start" textLength="39.4" lengthAdjust="spacingAndGlyphs" stroke="#101a22" stroke-width="0.22">CoV2 Virion 2</text>
<line x1="285" y1="278" x2="285" y2="465" stroke="#f9f9f9" stroke-width="1"/>
<line x1="320" y1="198.20" x2="539.6" y2="198.20" stroke="#dcdcdc" stroke-width="0.7"/>
<text x="314.6" y="200.25" font-size="5.7" fill="#595959" font-weight="normal" text-anchor="end" textLength="2.72" lengthAdjust="spacingAndGlyphs" >0</text>
<line x1="320" y1="180.92" x2="539.6" y2="180.92" stroke="#dcdcdc" stroke-width="0.7"/>
<text x="314.6" y="182.98" font-size="5.7" fill="#595959" font-weight="normal" text-anchor="end" textLength="8.16" lengthAdjust="spacingAndGlyphs" >500</text>
<line x1="320" y1="163.65" x2="539.6" y2="163.65" stroke="#dcdcdc" stroke-width="0.7"/>
<text x="314.6" y="165.70" font-size="5.7" fill="#595959" font-weight="normal" text-anchor="end" textLength="10.88" lengthAdjust="spacingAndGlyphs" >1000</text>
<line x1="320" y1="146.38" x2="539.6" y2="146.38" stroke="#dcdcdc" stroke-width="0.7"/>
<text x="314.6" y="148.43" font-size="5.7" fill="#595959" font-weight="normal" text-anchor="end" textLength="10.88" lengthAdjust="spacingAndGlyphs" >1500</text>
<line x1="320" y1="129.10" x2="539.6" y2="129.10" stroke="#dcdcdc" stroke-width="0.7"/>
<text x="314.6" y="131.15" font-size="5.7" fill="#595959" font-weight="normal" text-anchor="end" textLength="10.88" lengthAdjust="spacingAndGlyphs" >2000</text>
<line x1="320" y1="111.82" x2="539.6" y2="111.82" stroke="#dcdcdc" stroke-width="0.7"/>
<text x="314.6" y="113.88" font-size="5.7" fill="#595959" font-weight="normal" text-anchor="end" textLength="10.88" lengthAdjust="spacingAndGlyphs" >2500</text>
<line x1="320" y1="94.55" x2="539.6" y2="94.55" stroke="#dcdcdc" stroke-width="0.7"/>
<text x="314.6" y="96.60" font-size="5.7" fill="#595959" font-weight="normal" text-anchor="end" textLength="10.88" lengthAdjust="spacingAndGlyphs" >3000</text>
<line x1="320" y1="77.28" x2="539.6" y2="77.28" stroke="#dcdcdc" stroke-width="0.7"/>
<text x="314.6" y="79.33" font-size="5.7" fill="#595959" font-weight="normal" text-anchor="end" textLength="10.88" lengthAdjust="spacingAndGlyphs" >3500</text>
<line x1="320" y1="60.00" x2="539.6" y2="60.00" stroke="#dcdcdc" stroke-width="0.7"/>
<text x="314.6" y="62.05" font-size="5.7" fill="#595959" font-weight="normal" text-anchor="end" textLength="10.88" lengthAdjust="spacingAndGlyphs" >4000</text>
<line x1="320.00" y1="60" x2="320.00" y2="198.2" stroke="#dcdcdc" stroke-width="0.7"/>
<text x="320.00" y="207.052" font-size="5.7" fill="#595959" font-weight="normal" text-anchor="middle" textLength="2.83" lengthAdjust="spacingAndGlyphs" >0</text>
<line x1="347.45" y1="60" x2="347.45" y2="198.2" stroke="#dcdcdc" stroke-width="0.7"/>
<text x="347.45" y="207.052" font-size="5.7" fill="#595959" font-weight="normal" text-anchor="middle" textLength="2.83" lengthAdjust="spacingAndGlyphs" >5</text>
<line x1="374.90" y1="60" x2="374.90" y2="198.2" stroke="#dcdcdc" stroke-width="0.7"/>
<text x="374.90" y="207.052" font-size="5.7" fill="#595959" font-weight="normal" text-anchor="middle" textLength="5.66" lengthAdjust="spacingAndGlyphs" >10</text>
<line x1="402.35" y1="60" x2="402.35" y2="198.2" stroke="#dcdcdc" stroke-width="0.7"/>
<text x="402.35" y="207.052" font-size="5.7" fill="#595959" font-weight="normal" text-anchor="middle" textLength="5.66" lengthAdjust="spacingAndGlyphs" >15</text>
<line x1="429.80" y1="60" x2="429.80" y2="198.2" stroke="#dcdcdc" stroke-width="0.7"/>
<text x="429.80" y="207.052" font-size="5.7" fill="#595959" font-weight="normal" text-anchor="middle" textLength="5.66" lengthAdjust="spacingAndGlyphs" >20</text>
<line x1="457.25" y1="60" x2="457.25" y2="198.2" stroke="#dcdcdc" stroke-width="0.7"/>
<text x="457.25" y="207.052" font-size="5.7" fill="#595959" font-weight="normal" text-anchor="middle" textLength="5.66" lengthAdjust="spacingAndGlyphs" >25</text>
<line x1="484.70" y1="60" x2="484.70" y2="198.2" stroke="#dcdcdc" stroke-width="0.7"/>
<text x="484.70" y="207.052" font-size="5.7" fill="#595959" font-weight="normal" text-anchor="middle" textLength="5.66" lengthAdjust="spacingAndGlyphs" >30</text>
<line x1="512.15" y1="60" x2="512.15" y2="198.2" stroke="#dcdcdc" stroke-width="0.7"/>
<text x="512.15" y="207.052" font-size="5.7" fill="#595959" font-weight="normal" text-anchor="middle" textLength="5.66" lengthAdjust="spacingAndGlyphs" >35</text>
<line x1="539.60" y1="60" x2="539.60" y2="198.2" stroke="#dcdcdc" stroke-width="0.7"/>
<text x="539.60" y="207.052" font-size="5.7" fill="#595959" font-weight="normal" text-anchor="middle" textLength="5.66" lengthAdjust="spacingAndGlyphs" >40</text>
<polyline points="325.49,198.20 330.98,195.44 336.47,194.74 341.96,197.51 347.45,196.13 352.94,197.16 358.43,196.47 363.92,197.51 369.41,196.82 374.90,197.16 380.39,196.47 385.88,197.51 391.37,196.82 396.86,197.16 402.35,197.16 407.84,196.82 413.33,197.16 418.82,196.82 424.31,197.16 429.80,196.47 435.29,194.57 440.78,190.01 446.27,184.55 451.76,178.20 457.25,168.21 462.74,155.84 468.23,141.81 473.72,126.82 479.21,115.90 484.70,112.27 490.19,105.36 495.68,106.30 501.17,103.19 506.66,101.91 512.15,99.56 517.64,100.46 523.13,100.84 528.62,99.56 534.11,98.63 539.60,98.63" fill="none" stroke="#4472C4" stroke-width="1.15" stroke-linejoin="round"/>
<circle cx="325.49" cy="198.20" r="1.8" fill="#4472C4"/>
<circle cx="330.98" cy="195.44" r="1.8" fill="#4472C4"/>
<circle cx="336.47" cy="194.74" r="1.8" fill="#4472C4"/>
<circle cx="341.96" cy="197.51" r="1.8" fill="#4472C4"/>
<circle cx="347.45" cy="196.13" r="1.8" fill="#4472C4"/>
<circle cx="352.94" cy="197.16" r="1.8" fill="#4472C4"/>
<circle cx="358.43" cy="196.47" r="1.8" fill="#4472C4"/>
<circle cx="363.92" cy="197.51" r="1.8" fill="#4472C4"/>
<circle cx="369.41" cy="196.82" r="1.8" fill="#4472C4"/>
<circle cx="374.90" cy="197.16" r="1.8" fill="#4472C4"/>
<circle cx="380.39" cy="196.47" r="1.8" fill="#4472C4"/>
<circle cx="385.88" cy="197.51" r="1.8" fill="#4472C4"/>
<circle cx="391.37" cy="196.82" r="1.8" fill="#4472C4"/>
<circle cx="396.86" cy="197.16" r="1.8" fill="#4472C4"/>
<circle cx="402.35" cy="197.16" r="1.8" fill="#4472C4"/>
<circle cx="407.84" cy="196.82" r="1.8" fill="#4472C4"/>
<circle cx="413.33" cy="197.16" r="1.8" fill="#4472C4"/>
<circle cx="418.82" cy="196.82" r="1.8" fill="#4472C4"/>
<circle cx="424.31" cy="197.16" r="1.8" fill="#4472C4"/>
<circle cx="429.80" cy="196.47" r="1.8" fill="#4472C4"/>
<circle cx="435.29" cy="194.57" r="1.8" fill="#4472C4"/>
<circle cx="440.78" cy="190.01" r="1.8" fill="#4472C4"/>
<circle cx="446.27" cy="184.55" r="1.8" fill="#4472C4"/>
<circle cx="451.76" cy="178.20" r="1.8" fill="#4472C4"/>
<circle cx="457.25" cy="168.21" r="1.8" fill="#4472C4"/>
<circle cx="462.74" cy="155.84" r="1.8" fill="#4472C4"/>
<circle cx="468.23" cy="141.81" r="1.8" fill="#4472C4"/>
<circle cx="473.72" cy="126.82" r="1.8" fill="#4472C4"/>
<circle cx="479.21" cy="115.90" r="1.8" fill="#4472C4"/>
<circle cx="484.70" cy="112.27" r="1.8" fill="#4472C4"/>
<circle cx="490.19" cy="105.36" r="1.8" fill="#4472C4"/>
<circle cx="495.68" cy="106.30" r="1.8" fill="#4472C4"/>
<circle cx="501.17" cy="103.19" r="1.8" fill="#4472C4"/>
<circle cx="506.66" cy="101.91" r="1.8" fill="#4472C4"/>
<circle cx="512.15" cy="99.56" r="1.8" fill="#4472C4"/>
<circle cx="517.64" cy="100.46" r="1.8" fill="#4472C4"/>
<circle cx="523.13" cy="100.84" r="1.8" fill="#4472C4"/>
<circle cx="528.62" cy="99.56" r="1.8" fill="#4472C4"/>
<circle cx="534.11" cy="98.63" r="1.8" fill="#4472C4"/>
<circle cx="539.60" cy="98.63" r="1.8" fill="#4472C4"/>
<polyline points="325.49,198.20 330.98,193.71 336.47,195.44 341.96,195.09 347.45,196.13 352.94,195.44 358.43,196.47 363.92,195.78 369.41,196.13 374.90,195.09 380.39,195.78 385.88,196.13 391.37,194.57 396.86,196.82 402.35,196.47 407.84,196.82 413.33,196.13 418.82,196.82 424.31,196.47 429.80,196.82 435.29,196.82 440.78,196.82 446.27,196.82 451.76,196.47 457.25,194.57 462.74,191.84 468.23,183.65 473.72,170.39 479.21,154.56 484.70,137.29 490.19,125.02 495.68,111.00 501.17,99.56 506.66,95.38 512.15,91.37 517.64,87.36 523.13,84.08 528.62,78.66 534.11,79.56 539.60,78.10" fill="none" stroke="#ED7D31" stroke-width="1.15" stroke-linejoin="round"/>
<circle cx="325.49" cy="198.20" r="1.8" fill="#ED7D31"/>
<circle cx="330.98" cy="193.71" r="1.8" fill="#ED7D31"/>
<circle cx="336.47" cy="195.44" r="1.8" fill="#ED7D31"/>
<circle cx="341.96" cy="195.09" r="1.8" fill="#ED7D31"/>
<circle cx="347.45" cy="196.13" r="1.8" fill="#ED7D31"/>
<circle cx="352.94" cy="195.44" r="1.8" fill="#ED7D31"/>
<circle cx="358.43" cy="196.47" r="1.8" fill="#ED7D31"/>
<circle cx="363.92" cy="195.78" r="1.8" fill="#ED7D31"/>
<circle cx="369.41" cy="196.13" r="1.8" fill="#ED7D31"/>
<circle cx="374.90" cy="195.09" r="1.8" fill="#ED7D31"/>
<circle cx="380.39" cy="195.78" r="1.8" fill="#ED7D31"/>
<circle cx="385.88" cy="196.13" r="1.8" fill="#ED7D31"/>
<circle cx="391.37" cy="194.57" r="1.8" fill="#ED7D31"/>
<circle cx="396.86" cy="196.82" r="1.8" fill="#ED7D31"/>
<circle cx="402.35" cy="196.47" r="1.8" fill="#ED7D31"/>
<circle cx="407.84" cy="196.82" r="1.8" fill="#ED7D31"/>
<circle cx="413.33" cy="196.13" r="1.8" fill="#ED7D31"/>
<circle cx="418.82" cy="196.82" r="1.8" fill="#ED7D31"/>
<circle cx="424.31" cy="196.47" r="1.8" fill="#ED7D31"/>
<circle cx="429.80" cy="196.82" r="1.8" fill="#ED7D31"/>
<circle cx="435.29" cy="196.82" r="1.8" fill="#ED7D31"/>
<circle cx="440.78" cy="196.82" r="1.8" fill="#ED7D31"/>
<circle cx="446.27" cy="196.82" r="1.8" fill="#ED7D31"/>
<circle cx="451.76" cy="196.47" r="1.8" fill="#ED7D31"/>
<circle cx="457.25" cy="194.57" r="1.8" fill="#ED7D31"/>
<circle cx="462.74" cy="191.84" r="1.8" fill="#ED7D31"/>
<circle cx="468.23" cy="183.65" r="1.8" fill="#ED7D31"/>
<circle cx="473.72" cy="170.39" r="1.8" fill="#ED7D31"/>
<circle cx="479.21" cy="154.56" r="1.8" fill="#ED7D31"/>
<circle cx="484.70" cy="137.29" r="1.8" fill="#ED7D31"/>
<circle cx="490.19" cy="125.02" r="1.8" fill="#ED7D31"/>
<circle cx="495.68" cy="111.00" r="1.8" fill="#ED7D31"/>
<circle cx="501.17" cy="99.56" r="1.8" fill="#ED7D31"/>
<circle cx="506.66" cy="95.38" r="1.8" fill="#ED7D31"/>
<circle cx="512.15" cy="91.37" r="1.8" fill="#ED7D31"/>
<circle cx="517.64" cy="87.36" r="1.8" fill="#ED7D31"/>
<circle cx="523.13" cy="84.08" r="1.8" fill="#ED7D31"/>
<circle cx="528.62" cy="78.66" r="1.8" fill="#ED7D31"/>
<circle cx="534.11" cy="79.56" r="1.8" fill="#ED7D31"/>
<circle cx="539.60" cy="78.10" r="1.8" fill="#ED7D31"/>
<polyline points="325.49,198.20 330.98,196.82 336.47,197.16 341.96,196.82 347.45,197.51 352.94,196.82 358.43,197.16 363.92,197.51 369.41,197.16 374.90,197.51 380.39,197.16 385.88,196.82 391.37,197.51 396.86,197.16 402.35,196.47 407.84,197.16 413.33,196.82 418.82,196.47 424.31,196.82 429.80,194.57 435.29,194.74 440.78,196.47 446.27,196.82 451.76,196.47 457.25,196.47 462.74,195.44 468.23,192.19 473.72,186.73 479.21,178.75 484.70,169.11 490.19,157.29 495.68,147.27 501.17,130.48 506.66,120.81 512.15,115.90 517.64,108.65 523.13,104.09 528.62,101.91 534.11,99.56 539.60,98.63" fill="none" stroke="#A5A5A5" stroke-width="1.15" stroke-linejoin="round"/>
<circle cx="325.49" cy="198.20" r="1.8" fill="#A5A5A5"/>
<circle cx="330.98" cy="196.82" r="1.8" fill="#A5A5A5"/>
<circle cx="336.47" cy="197.16" r="1.8" fill="#A5A5A5"/>
<circle cx="341.96" cy="196.82" r="1.8" fill="#A5A5A5"/>
<circle cx="347.45" cy="197.51" r="1.8" fill="#A5A5A5"/>
<circle cx="352.94" cy="196.82" r="1.8" fill="#A5A5A5"/>
<circle cx="358.43" cy="197.16" r="1.8" fill="#A5A5A5"/>
<circle cx="363.92" cy="197.51" r="1.8" fill="#A5A5A5"/>
<circle cx="369.41" cy="197.16" r="1.8" fill="#A5A5A5"/>
<circle cx="374.90" cy="197.51" r="1.8" fill="#A5A5A5"/>
<circle cx="380.39" cy="197.16" r="1.8" fill="#A5A5A5"/>
<circle cx="385.88" cy="196.82" r="1.8" fill="#A5A5A5"/>
<circle cx="391.37" cy="197.51" r="1.8" fill="#A5A5A5"/>
<circle cx="396.86" cy="197.16" r="1.8" fill="#A5A5A5"/>
<circle cx="402.35" cy="196.47" r="1.8" fill="#A5A5A5"/>
<circle cx="407.84" cy="197.16" r="1.8" fill="#A5A5A5"/>
<circle cx="413.33" cy="196.82" r="1.8" fill="#A5A5A5"/>
<circle cx="418.82" cy="196.47" r="1.8" fill="#A5A5A5"/>
<circle cx="424.31" cy="196.82" r="1.8" fill="#A5A5A5"/>
<circle cx="429.80" cy="194.57" r="1.8" fill="#A5A5A5"/>
<circle cx="435.29" cy="194.74" r="1.8" fill="#A5A5A5"/>
<circle cx="440.78" cy="196.47" r="1.8" fill="#A5A5A5"/>
<circle cx="446.27" cy="196.82" r="1.8" fill="#A5A5A5"/>
<circle cx="451.76" cy="196.47" r="1.8" fill="#A5A5A5"/>
<circle cx="457.25" cy="196.47" r="1.8" fill="#A5A5A5"/>
<circle cx="462.74" cy="195.44" r="1.8" fill="#A5A5A5"/>
<circle cx="468.23" cy="192.19" r="1.8" fill="#A5A5A5"/>
<circle cx="473.72" cy="186.73" r="1.8" fill="#A5A5A5"/>
<circle cx="479.21" cy="178.75" r="1.8" fill="#A5A5A5"/>
<circle cx="484.70" cy="169.11" r="1.8" fill="#A5A5A5"/>
<circle cx="490.19" cy="157.29" r="1.8" fill="#A5A5A5"/>
<circle cx="495.68" cy="147.27" r="1.8" fill="#A5A5A5"/>
<circle cx="501.17" cy="130.48" r="1.8" fill="#A5A5A5"/>
<circle cx="506.66" cy="120.81" r="1.8" fill="#A5A5A5"/>
<circle cx="512.15" cy="115.90" r="1.8" fill="#A5A5A5"/>
<circle cx="517.64" cy="108.65" r="1.8" fill="#A5A5A5"/>
<circle cx="523.13" cy="104.09" r="1.8" fill="#A5A5A5"/>
<circle cx="528.62" cy="101.91" r="1.8" fill="#A5A5A5"/>
<circle cx="534.11" cy="99.56" r="1.8" fill="#A5A5A5"/>
<circle cx="539.60" cy="98.63" r="1.8" fill="#A5A5A5"/>
<polyline points="325.49,198.20 330.98,191.84 336.47,194.57 341.96,195.47 347.45,195.85 352.94,196.92 358.43,196.37 363.92,197.30 369.41,196.37 374.90,195.47 380.39,196.02 385.88,196.92 391.37,196.37 396.86,197.68 402.35,196.37 407.84,195.47 413.33,197.68 418.82,193.71 424.31,196.13 429.80,195.09 435.29,197.51 440.78,197.68 446.27,197.68 451.76,197.68 457.25,197.68 462.74,197.68 468.23,197.30 473.72,190.94 479.21,182.76 484.70,172.18 490.19,162.75 495.68,151.45 501.17,142.92 506.66,133.59 512.15,127.20 517.64,119.56 523.13,112.83 528.62,105.54 534.11,98.63 539.60,95.38" fill="none" stroke="#FFC000" stroke-width="1.15" stroke-linejoin="round"/>
<circle cx="325.49" cy="198.20" r="1.8" fill="#FFC000"/>
<circle cx="330.98" cy="191.84" r="1.8" fill="#FFC000"/>
<circle cx="336.47" cy="194.57" r="1.8" fill="#FFC000"/>
<circle cx="341.96" cy="195.47" r="1.8" fill="#FFC000"/>
<circle cx="347.45" cy="195.85" r="1.8" fill="#FFC000"/>
<circle cx="352.94" cy="196.92" r="1.8" fill="#FFC000"/>
<circle cx="358.43" cy="196.37" r="1.8" fill="#FFC000"/>
<circle cx="363.92" cy="197.30" r="1.8" fill="#FFC000"/>
<circle cx="369.41" cy="196.37" r="1.8" fill="#FFC000"/>
<circle cx="374.90" cy="195.47" r="1.8" fill="#FFC000"/>
<circle cx="380.39" cy="196.02" r="1.8" fill="#FFC000"/>
<circle cx="385.88" cy="196.92" r="1.8" fill="#FFC000"/>
<circle cx="391.37" cy="196.37" r="1.8" fill="#FFC000"/>
<circle cx="396.86" cy="197.68" r="1.8" fill="#FFC000"/>
<circle cx="402.35" cy="196.37" r="1.8" fill="#FFC000"/>
<circle cx="407.84" cy="195.47" r="1.8" fill="#FFC000"/>
<circle cx="413.33" cy="197.68" r="1.8" fill="#FFC000"/>
<circle cx="418.82" cy="193.71" r="1.8" fill="#FFC000"/>
<circle cx="424.31" cy="196.13" r="1.8" fill="#FFC000"/>
<circle cx="429.80" cy="195.09" r="1.8" fill="#FFC000"/>
<circle cx="435.29" cy="197.51" r="1.8" fill="#FFC000"/>
<circle cx="440.78" cy="197.68" r="1.8" fill="#FFC000"/>
<circle cx="446.27" cy="197.68" r="1.8" fill="#FFC000"/>
<circle cx="451.76" cy="197.68" r="1.8" fill="#FFC000"/>
<circle cx="457.25" cy="197.68" r="1.8" fill="#FFC000"/>
<circle cx="462.74" cy="197.68" r="1.8" fill="#FFC000"/>
<circle cx="468.23" cy="197.30" r="1.8" fill="#FFC000"/>
<circle cx="473.72" cy="190.94" r="1.8" fill="#FFC000"/>
<circle cx="479.21" cy="182.76" r="1.8" fill="#FFC000"/>
<circle cx="484.70" cy="172.18" r="1.8" fill="#FFC000"/>
<circle cx="490.19" cy="162.75" r="1.8" fill="#FFC000"/>
<circle cx="495.68" cy="151.45" r="1.8" fill="#FFC000"/>
<circle cx="501.17" cy="142.92" r="1.8" fill="#FFC000"/>
<circle cx="506.66" cy="133.59" r="1.8" fill="#FFC000"/>
<circle cx="512.15" cy="127.20" r="1.8" fill="#FFC000"/>
<circle cx="517.64" cy="119.56" r="1.8" fill="#FFC000"/>
<circle cx="523.13" cy="112.83" r="1.8" fill="#FFC000"/>
<circle cx="528.62" cy="105.54" r="1.8" fill="#FFC000"/>
<circle cx="534.11" cy="98.63" r="1.8" fill="#FFC000"/>
<circle cx="539.60" cy="95.38" r="1.8" fill="#FFC000"/>
<polyline points="325.49,198.20 330.98,193.71 336.47,192.19 341.96,193.29 347.45,193.02 352.94,194.05 358.43,193.29 363.92,192.74 369.41,194.23 374.90,193.29 380.39,193.02 385.88,193.71 391.37,193.02 396.86,194.05 402.35,193.71 407.84,192.74 413.33,189.11 418.82,185.49 424.31,186.38 429.80,185.49 435.29,185.76 440.78,185.07 446.27,185.59 451.76,185.42 457.25,185.24 462.74,184.90 468.23,183.69 473.72,181.27 479.21,174.57 484.70,166.93 490.19,154.56 495.68,144.54 501.17,125.02 506.66,113.21 512.15,105.54 517.64,98.70 523.13,91.37 528.62,86.26 534.11,81.01 539.60,82.28" fill="none" stroke="#5B9BD5" stroke-width="1.15" stroke-linejoin="round"/>
<circle cx="325.49" cy="198.20" r="1.8" fill="#5B9BD5"/>
<circle cx="330.98" cy="193.71" r="1.8" fill="#5B9BD5"/>
<circle cx="336.47" cy="192.19" r="1.8" fill="#5B9BD5"/>
<circle cx="341.96" cy="193.29" r="1.8" fill="#5B9BD5"/>
<circle cx="347.45" cy="193.02" r="1.8" fill="#5B9BD5"/>
<circle cx="352.94" cy="194.05" r="1.8" fill="#5B9BD5"/>
<circle cx="358.43" cy="193.29" r="1.8" fill="#5B9BD5"/>
<circle cx="363.92" cy="192.74" r="1.8" fill="#5B9BD5"/>
<circle cx="369.41" cy="194.23" r="1.8" fill="#5B9BD5"/>
<circle cx="374.90" cy="193.29" r="1.8" fill="#5B9BD5"/>
<circle cx="380.39" cy="193.02" r="1.8" fill="#5B9BD5"/>
<circle cx="385.88" cy="193.71" r="1.8" fill="#5B9BD5"/>
<circle cx="391.37" cy="193.02" r="1.8" fill="#5B9BD5"/>
<circle cx="396.86" cy="194.05" r="1.8" fill="#5B9BD5"/>
<circle cx="402.35" cy="193.71" r="1.8" fill="#5B9BD5"/>
<circle cx="407.84" cy="192.74" r="1.8" fill="#5B9BD5"/>
<circle cx="413.33" cy="189.11" r="1.8" fill="#5B9BD5"/>
<circle cx="418.82" cy="185.49" r="1.8" fill="#5B9BD5"/>
<circle cx="424.31" cy="186.38" r="1.8" fill="#5B9BD5"/>
<circle cx="429.80" cy="185.49" r="1.8" fill="#5B9BD5"/>
<circle cx="435.29" cy="185.76" r="1.8" fill="#5B9BD5"/>
<circle cx="440.78" cy="185.07" r="1.8" fill="#5B9BD5"/>
<circle cx="446.27" cy="185.59" r="1.8" fill="#5B9BD5"/>
<circle cx="451.76" cy="185.42" r="1.8" fill="#5B9BD5"/>
<circle cx="457.25" cy="185.24" r="1.8" fill="#5B9BD5"/>
<circle cx="462.74" cy="184.90" r="1.8" fill="#5B9BD5"/>
<circle cx="468.23" cy="183.69" r="1.8" fill="#5B9BD5"/>
<circle cx="473.72" cy="181.27" r="1.8" fill="#5B9BD5"/>
<circle cx="479.21" cy="174.57" r="1.8" fill="#5B9BD5"/>
<circle cx="484.70" cy="166.93" r="1.8" fill="#5B9BD5"/>
<circle cx="490.19" cy="154.56" r="1.8" fill="#5B9BD5"/>
<circle cx="495.68" cy="144.54" r="1.8" fill="#5B9BD5"/>
<circle cx="501.17" cy="125.02" r="1.8" fill="#5B9BD5"/>
<circle cx="506.66" cy="113.21" r="1.8" fill="#5B9BD5"/>
<circle cx="512.15" cy="105.54" r="1.8" fill="#5B9BD5"/>
<circle cx="517.64" cy="98.70" r="1.8" fill="#5B9BD5"/>
<circle cx="523.13" cy="91.37" r="1.8" fill="#5B9BD5"/>
<circle cx="528.62" cy="86.26" r="1.8" fill="#5B9BD5"/>
<circle cx="534.11" cy="81.01" r="1.8" fill="#5B9BD5"/>
<circle cx="539.60" cy="82.28" r="1.8" fill="#5B9BD5"/>
<polyline points="325.49,198.20 330.98,197.68 336.47,196.02 341.96,191.84 347.45,192.19 352.94,193.29 358.43,192.19 363.92,193.71 369.41,190.94 374.90,191.46 380.39,189.11 385.88,189.67 391.37,190.39 396.86,188.18 402.35,189.67 407.84,189.11 413.33,187.28 418.82,185.49 424.31,186.38 429.80,184.55 435.29,186.00 440.78,177.82 446.27,179.09 451.76,180.03 457.25,178.20 462.74,178.75 468.23,177.64 473.72,172.18 479.21,167.83 484.70,158.74 490.19,146.38 495.68,132.73 501.17,122.29 506.66,108.09 512.15,100.46 517.64,94.10 523.13,83.18 528.62,81.35 534.11,74.99 539.60,73.20" fill="none" stroke="#70AD47" stroke-width="1.15" stroke-linejoin="round"/>
<circle cx="325.49" cy="198.20" r="1.8" fill="#70AD47"/>
<circle cx="330.98" cy="197.68" r="1.8" fill="#70AD47"/>
<circle cx="336.47" cy="196.02" r="1.8" fill="#70AD47"/>
<circle cx="341.96" cy="191.84" r="1.8" fill="#70AD47"/>
<circle cx="347.45" cy="192.19" r="1.8" fill="#70AD47"/>
<circle cx="352.94" cy="193.29" r="1.8" fill="#70AD47"/>
<circle cx="358.43" cy="192.19" r="1.8" fill="#70AD47"/>
<circle cx="363.92" cy="193.71" r="1.8" fill="#70AD47"/>
<circle cx="369.41" cy="190.94" r="1.8" fill="#70AD47"/>
<circle cx="374.90" cy="191.46" r="1.8" fill="#70AD47"/>
<circle cx="380.39" cy="189.11" r="1.8" fill="#70AD47"/>
<circle cx="385.88" cy="189.67" r="1.8" fill="#70AD47"/>
<circle cx="391.37" cy="190.39" r="1.8" fill="#70AD47"/>
<circle cx="396.86" cy="188.18" r="1.8" fill="#70AD47"/>
<circle cx="402.35" cy="189.67" r="1.8" fill="#70AD47"/>
<circle cx="407.84" cy="189.11" r="1.8" fill="#70AD47"/>
<circle cx="413.33" cy="187.28" r="1.8" fill="#70AD47"/>
<circle cx="418.82" cy="185.49" r="1.8" fill="#70AD47"/>
<circle cx="424.31" cy="186.38" r="1.8" fill="#70AD47"/>
<circle cx="429.80" cy="184.55" r="1.8" fill="#70AD47"/>
<circle cx="435.29" cy="186.00" r="1.8" fill="#70AD47"/>
<circle cx="440.78" cy="177.82" r="1.8" fill="#70AD47"/>
<circle cx="446.27" cy="179.09" r="1.8" fill="#70AD47"/>
<circle cx="451.76" cy="180.03" r="1.8" fill="#70AD47"/>
<circle cx="457.25" cy="178.20" r="1.8" fill="#70AD47"/>
<circle cx="462.74" cy="178.75" r="1.8" fill="#70AD47"/>
<circle cx="468.23" cy="177.64" r="1.8" fill="#70AD47"/>
<circle cx="473.72" cy="172.18" r="1.8" fill="#70AD47"/>
<circle cx="479.21" cy="167.83" r="1.8" fill="#70AD47"/>
<circle cx="484.70" cy="158.74" r="1.8" fill="#70AD47"/>
<circle cx="490.19" cy="146.38" r="1.8" fill="#70AD47"/>
<circle cx="495.68" cy="132.73" r="1.8" fill="#70AD47"/>
<circle cx="501.17" cy="122.29" r="1.8" fill="#70AD47"/>
<circle cx="506.66" cy="108.09" r="1.8" fill="#70AD47"/>
<circle cx="512.15" cy="100.46" r="1.8" fill="#70AD47"/>
<circle cx="517.64" cy="94.10" r="1.8" fill="#70AD47"/>
<circle cx="523.13" cy="83.18" r="1.8" fill="#70AD47"/>
<circle cx="528.62" cy="81.35" r="1.8" fill="#70AD47"/>
<circle cx="534.11" cy="74.99" r="1.8" fill="#70AD47"/>
<circle cx="539.60" cy="73.20" r="1.8" fill="#70AD47"/>
<line x1="361.7" y1="87.4" x2="373.7" y2="87.4" stroke="#4472C4" stroke-width="1.15"/>
<circle cx="367.7" cy="87.4" r="1.8" fill="#4472C4"/>
<text x="375.2" y="89.45200000000001" font-size="5.7" fill="#595959" font-weight="normal" text-anchor="start" textLength="39" lengthAdjust="spacingAndGlyphs" >CoV2 200k Copies</text>
<line x1="361.7" y1="98.4" x2="373.7" y2="98.4" stroke="#ED7D31" stroke-width="1.15"/>
<circle cx="367.7" cy="98.4" r="1.8" fill="#ED7D31"/>
<text x="375.2" y="100.45200000000001" font-size="5.7" fill="#595959" font-weight="normal" text-anchor="start" textLength="36.5" lengthAdjust="spacingAndGlyphs" >CoV2 20k Copies</text>
<line x1="361.7" y1="109.4" x2="373.7" y2="109.4" stroke="#A5A5A5" stroke-width="1.15"/>
<circle cx="367.7" cy="109.4" r="1.8" fill="#A5A5A5"/>
<text x="375.2" y="111.45200000000001" font-size="5.7" fill="#595959" font-weight="normal" text-anchor="start" textLength="34" lengthAdjust="spacingAndGlyphs" >CoV2 2k Copies</text>
<line x1="361.7" y1="120.5" x2="373.7" y2="120.5" stroke="#FFC000" stroke-width="1.15"/>
<circle cx="367.7" cy="120.5" r="1.8" fill="#FFC000"/>
<text x="375.2" y="122.552" font-size="5.7" fill="#595959" font-weight="normal" text-anchor="start" textLength="36.5" lengthAdjust="spacingAndGlyphs" >CoV2 200 Copies</text>
<line x1="361.7" y1="131.4" x2="373.7" y2="131.4" stroke="#5B9BD5" stroke-width="1.15"/>
<circle cx="367.7" cy="131.4" r="1.8" fill="#5B9BD5"/>
<text x="375.2" y="133.452" font-size="5.7" fill="#595959" font-weight="normal" text-anchor="start" textLength="34" lengthAdjust="spacingAndGlyphs" >CoV2 20 Copies</text>
<line x1="361.7" y1="142.4" x2="373.7" y2="142.4" stroke="#70AD47" stroke-width="1.15"/>
<circle cx="367.7" cy="142.4" r="1.8" fill="#70AD47"/>
<text x="375.2" y="144.452" font-size="5.7" fill="#595959" font-weight="normal" text-anchor="start" textLength="31.5" lengthAdjust="spacingAndGlyphs" >CoV2 2 Copies</text>
<text x="0" y="0" font-size="6.2" fill="#4a4a4a" font-weight="normal" text-anchor="middle" textLength="55.5" lengthAdjust="spacingAndGlyphs" transform="translate(299.0,127.6) rotate(-90)" stroke="#4a4a4a" stroke-width="0.3">Relat. Intensity (rfu)</text>
<text x="429.6" y="224.1" font-size="7.6" fill="#4a4a4a" font-weight="normal" text-anchor="middle" textLength="49.1" lengthAdjust="spacingAndGlyphs"  stroke="#4a4a4a" stroke-width="0.3">Cycle Number</text>
<line x1="319.5" y1="437.50" x2="542.2" y2="437.50" stroke="#dcdcdc" stroke-width="0.7"/>
<text x="314.8" y="439.55" font-size="5.7" fill="#595959" font-weight="normal" text-anchor="end" textLength="2.72" lengthAdjust="spacingAndGlyphs" >0</text>
<line x1="319.5" y1="423.65" x2="542.2" y2="423.65" stroke="#dcdcdc" stroke-width="0.7"/>
<text x="314.8" y="425.70" font-size="5.7" fill="#595959" font-weight="normal" text-anchor="end" textLength="8.16" lengthAdjust="spacingAndGlyphs" >500</text>
<line x1="319.5" y1="409.80" x2="542.2" y2="409.80" stroke="#dcdcdc" stroke-width="0.7"/>
<text x="314.8" y="411.85" font-size="5.7" fill="#595959" font-weight="normal" text-anchor="end" textLength="10.88" lengthAdjust="spacingAndGlyphs" >1000</text>
<line x1="319.5" y1="395.95" x2="542.2" y2="395.95" stroke="#dcdcdc" stroke-width="0.7"/>
<text x="314.8" y="398.00" font-size="5.7" fill="#595959" font-weight="normal" text-anchor="end" textLength="10.88" lengthAdjust="spacingAndGlyphs" >1500</text>
<line x1="319.5" y1="382.10" x2="542.2" y2="382.10" stroke="#dcdcdc" stroke-width="0.7"/>
<text x="314.8" y="384.15" font-size="5.7" fill="#595959" font-weight="normal" text-anchor="end" textLength="10.88" lengthAdjust="spacingAndGlyphs" >2000</text>
<line x1="319.5" y1="368.25" x2="542.2" y2="368.25" stroke="#dcdcdc" stroke-width="0.7"/>
<text x="314.8" y="370.30" font-size="5.7" fill="#595959" font-weight="normal" text-anchor="end" textLength="10.88" lengthAdjust="spacingAndGlyphs" >2500</text>
<line x1="319.5" y1="354.40" x2="542.2" y2="354.40" stroke="#dcdcdc" stroke-width="0.7"/>
<text x="314.8" y="356.45" font-size="5.7" fill="#595959" font-weight="normal" text-anchor="end" textLength="10.88" lengthAdjust="spacingAndGlyphs" >3000</text>
<line x1="319.5" y1="340.55" x2="542.2" y2="340.55" stroke="#dcdcdc" stroke-width="0.7"/>
<text x="314.8" y="342.60" font-size="5.7" fill="#595959" font-weight="normal" text-anchor="end" textLength="10.88" lengthAdjust="spacingAndGlyphs" >3500</text>
<line x1="319.5" y1="326.70" x2="542.2" y2="326.70" stroke="#dcdcdc" stroke-width="0.7"/>
<text x="314.8" y="328.75" font-size="5.7" fill="#595959" font-weight="normal" text-anchor="end" textLength="10.88" lengthAdjust="spacingAndGlyphs" >4000</text>
<line x1="319.5" y1="312.85" x2="542.2" y2="312.85" stroke="#dcdcdc" stroke-width="0.7"/>
<text x="314.8" y="314.90" font-size="5.7" fill="#595959" font-weight="normal" text-anchor="end" textLength="10.88" lengthAdjust="spacingAndGlyphs" >4500</text>
<line x1="319.5" y1="299.00" x2="542.2" y2="299.00" stroke="#dcdcdc" stroke-width="0.7"/>
<text x="314.8" y="301.05" font-size="5.7" fill="#595959" font-weight="normal" text-anchor="end" textLength="10.88" lengthAdjust="spacingAndGlyphs" >5000</text>
<line x1="319.50" y1="299" x2="319.50" y2="437.5" stroke="#dcdcdc" stroke-width="0.7"/>
<text x="319.50" y="446.552" font-size="5.7" fill="#595959" font-weight="normal" text-anchor="middle" textLength="2.83" lengthAdjust="spacingAndGlyphs" >0</text>
<line x1="344.24" y1="299" x2="344.24" y2="437.5" stroke="#dcdcdc" stroke-width="0.7"/>
<text x="344.24" y="446.552" font-size="5.7" fill="#595959" font-weight="normal" text-anchor="middle" textLength="2.83" lengthAdjust="spacingAndGlyphs" >5</text>
<line x1="368.99" y1="299" x2="368.99" y2="437.5" stroke="#dcdcdc" stroke-width="0.7"/>
<text x="368.99" y="446.552" font-size="5.7" fill="#595959" font-weight="normal" text-anchor="middle" textLength="5.66" lengthAdjust="spacingAndGlyphs" >10</text>
<line x1="393.73" y1="299" x2="393.73" y2="437.5" stroke="#dcdcdc" stroke-width="0.7"/>
<text x="393.73" y="446.552" font-size="5.7" fill="#595959" font-weight="normal" text-anchor="middle" textLength="5.66" lengthAdjust="spacingAndGlyphs" >15</text>
<line x1="418.48" y1="299" x2="418.48" y2="437.5" stroke="#dcdcdc" stroke-width="0.7"/>
<text x="418.48" y="446.552" font-size="5.7" fill="#595959" font-weight="normal" text-anchor="middle" textLength="5.66" lengthAdjust="spacingAndGlyphs" >20</text>
<line x1="443.22" y1="299" x2="443.22" y2="437.5" stroke="#dcdcdc" stroke-width="0.7"/>
<text x="443.22" y="446.552" font-size="5.7" fill="#595959" font-weight="normal" text-anchor="middle" textLength="5.66" lengthAdjust="spacingAndGlyphs" >25</text>
<line x1="467.97" y1="299" x2="467.97" y2="437.5" stroke="#dcdcdc" stroke-width="0.7"/>
<text x="467.97" y="446.552" font-size="5.7" fill="#595959" font-weight="normal" text-anchor="middle" textLength="5.66" lengthAdjust="spacingAndGlyphs" >30</text>
<line x1="492.71" y1="299" x2="492.71" y2="437.5" stroke="#dcdcdc" stroke-width="0.7"/>
<text x="492.71" y="446.552" font-size="5.7" fill="#595959" font-weight="normal" text-anchor="middle" textLength="5.66" lengthAdjust="spacingAndGlyphs" >35</text>
<line x1="517.46" y1="299" x2="517.46" y2="437.5" stroke="#dcdcdc" stroke-width="0.7"/>
<text x="517.46" y="446.552" font-size="5.7" fill="#595959" font-weight="normal" text-anchor="middle" textLength="5.66" lengthAdjust="spacingAndGlyphs" >40</text>
<line x1="542.20" y1="299" x2="542.20" y2="437.5" stroke="#dcdcdc" stroke-width="0.7"/>
<text x="542.20" y="446.552" font-size="5.7" fill="#595959" font-weight="normal" text-anchor="middle" textLength="5.66" lengthAdjust="spacingAndGlyphs" >45</text>
<polyline points="324.45,437.50 329.40,435.84 334.35,434.73 339.30,436.39 344.24,436.12 349.19,436.39 354.14,436.12 359.09,436.39 364.04,435.84 368.99,436.12 373.94,435.84 378.89,436.39 383.84,436.12 388.78,435.84 393.73,436.12 398.68,435.84 403.63,435.56 408.58,435.28 413.53,434.59 418.48,433.68 423.43,430.02 428.38,423.65 433.32,412.35 438.27,399.05 443.22,386.28 448.17,375.90 453.12,364.98 458.07,356.39 463.02,347.89 467.97,342.46 472.92,335.92 477.86,332.32 482.81,330.13 487.76,325.62 492.71,325.07 497.66,320.72 502.61,321.08 507.56,321.44 512.51,317.84 517.46,319.28 522.40,318.92 527.35,317.12 532.30,314.76 537.25,317.12 542.20,318.39" fill="none" stroke="#4472C4" stroke-width="1.15" stroke-linejoin="round"/>
<circle cx="324.45" cy="437.50" r="1.8" fill="#4472C4"/>
<circle cx="329.40" cy="435.84" r="1.8" fill="#4472C4"/>
<circle cx="334.35" cy="434.73" r="1.8" fill="#4472C4"/>
<circle cx="339.30" cy="436.39" r="1.8" fill="#4472C4"/>
<circle cx="344.24" cy="436.12" r="1.8" fill="#4472C4"/>
<circle cx="349.19" cy="436.39" r="1.8" fill="#4472C4"/>
<circle cx="354.14" cy="436.12" r="1.8" fill="#4472C4"/>
<circle cx="359.09" cy="436.39" r="1.8" fill="#4472C4"/>
<circle cx="364.04" cy="435.84" r="1.8" fill="#4472C4"/>
<circle cx="368.99" cy="436.12" r="1.8" fill="#4472C4"/>
<circle cx="373.94" cy="435.84" r="1.8" fill="#4472C4"/>
<circle cx="378.89" cy="436.39" r="1.8" fill="#4472C4"/>
<circle cx="383.84" cy="436.12" r="1.8" fill="#4472C4"/>
<circle cx="388.78" cy="435.84" r="1.8" fill="#4472C4"/>
<circle cx="393.73" cy="436.12" r="1.8" fill="#4472C4"/>
<circle cx="398.68" cy="435.84" r="1.8" fill="#4472C4"/>
<circle cx="403.63" cy="435.56" r="1.8" fill="#4472C4"/>
<circle cx="408.58" cy="435.28" r="1.8" fill="#4472C4"/>
<circle cx="413.53" cy="434.59" r="1.8" fill="#4472C4"/>
<circle cx="418.48" cy="433.68" r="1.8" fill="#4472C4"/>
<circle cx="423.43" cy="430.02" r="1.8" fill="#4472C4"/>
<circle cx="428.38" cy="423.65" r="1.8" fill="#4472C4"/>
<circle cx="433.32" cy="412.35" r="1.8" fill="#4472C4"/>
<circle cx="438.27" cy="399.05" r="1.8" fill="#4472C4"/>
<circle cx="443.22" cy="386.28" r="1.8" fill="#4472C4"/>
<circle cx="448.17" cy="375.90" r="1.8" fill="#4472C4"/>
<circle cx="453.12" cy="364.98" r="1.8" fill="#4472C4"/>
<circle cx="458.07" cy="356.39" r="1.8" fill="#4472C4"/>
<circle cx="463.02" cy="347.89" r="1.8" fill="#4472C4"/>
<circle cx="467.97" cy="342.46" r="1.8" fill="#4472C4"/>
<circle cx="472.92" cy="335.92" r="1.8" fill="#4472C4"/>
<circle cx="477.86" cy="332.32" r="1.8" fill="#4472C4"/>
<circle cx="482.81" cy="330.13" r="1.8" fill="#4472C4"/>
<circle cx="487.76" cy="325.62" r="1.8" fill="#4472C4"/>
<circle cx="492.71" cy="325.07" r="1.8" fill="#4472C4"/>
<circle cx="497.66" cy="320.72" r="1.8" fill="#4472C4"/>
<circle cx="502.61" cy="321.08" r="1.8" fill="#4472C4"/>
<circle cx="507.56" cy="321.44" r="1.8" fill="#4472C4"/>
<circle cx="512.51" cy="317.84" r="1.8" fill="#4472C4"/>
<circle cx="517.46" cy="319.28" r="1.8" fill="#4472C4"/>
<circle cx="522.40" cy="318.92" r="1.8" fill="#4472C4"/>
<circle cx="527.35" cy="317.12" r="1.8" fill="#4472C4"/>
<circle cx="532.30" cy="314.76" r="1.8" fill="#4472C4"/>
<circle cx="537.25" cy="317.12" r="1.8" fill="#4472C4"/>
<circle cx="542.20" cy="318.39" r="1.8" fill="#4472C4"/>
<polyline points="324.45,437.50 329.40,436.39 334.35,435.84 339.30,436.12 344.24,435.84 349.19,435.56 354.14,435.28 359.09,435.56 364.04,435.28 368.99,435.84 373.94,435.56 378.89,435.28 383.84,435.56 388.78,435.28 393.73,435.01 398.68,435.28 403.63,434.73 408.58,434.18 413.53,434.45 418.48,433.90 423.43,431.85 428.38,428.75 433.32,427.31 438.27,423.65 443.22,417.83 448.17,409.08 453.12,395.95 458.07,383.57 463.02,373.54 467.97,364.43 472.92,356.39 477.86,349.14 482.81,344.62 487.76,341.55 492.71,338.28 497.66,337.03 502.61,333.76 507.56,331.58 512.51,331.05 517.46,331.05 522.40,332.85 527.35,332.85 532.30,332.32 537.25,331.58 542.20,332.85" fill="none" stroke="#ED7D31" stroke-width="1.15" stroke-linejoin="round"/>
<circle cx="324.45" cy="437.50" r="1.8" fill="#ED7D31"/>
<circle cx="329.40" cy="436.39" r="1.8" fill="#ED7D31"/>
<circle cx="334.35" cy="435.84" r="1.8" fill="#ED7D31"/>
<circle cx="339.30" cy="436.12" r="1.8" fill="#ED7D31"/>
<circle cx="344.24" cy="435.84" r="1.8" fill="#ED7D31"/>
<circle cx="349.19" cy="435.56" r="1.8" fill="#ED7D31"/>
<circle cx="354.14" cy="435.28" r="1.8" fill="#ED7D31"/>
<circle cx="359.09" cy="435.56" r="1.8" fill="#ED7D31"/>
<circle cx="364.04" cy="435.28" r="1.8" fill="#ED7D31"/>
<circle cx="368.99" cy="435.84" r="1.8" fill="#ED7D31"/>
<circle cx="373.94" cy="435.56" r="1.8" fill="#ED7D31"/>
<circle cx="378.89" cy="435.28" r="1.8" fill="#ED7D31"/>
<circle cx="383.84" cy="435.56" r="1.8" fill="#ED7D31"/>
<circle cx="388.78" cy="435.28" r="1.8" fill="#ED7D31"/>
<circle cx="393.73" cy="435.01" r="1.8" fill="#ED7D31"/>
<circle cx="398.68" cy="435.28" r="1.8" fill="#ED7D31"/>
<circle cx="403.63" cy="434.73" r="1.8" fill="#ED7D31"/>
<circle cx="408.58" cy="434.18" r="1.8" fill="#ED7D31"/>
<circle cx="413.53" cy="434.45" r="1.8" fill="#ED7D31"/>
<circle cx="418.48" cy="433.90" r="1.8" fill="#ED7D31"/>
<circle cx="423.43" cy="431.85" r="1.8" fill="#ED7D31"/>
<circle cx="428.38" cy="428.75" r="1.8" fill="#ED7D31"/>
<circle cx="433.32" cy="427.31" r="1.8" fill="#ED7D31"/>
<circle cx="438.27" cy="423.65" r="1.8" fill="#ED7D31"/>
<circle cx="443.22" cy="417.83" r="1.8" fill="#ED7D31"/>
<circle cx="448.17" cy="409.08" r="1.8" fill="#ED7D31"/>
<circle cx="453.12" cy="395.95" r="1.8" fill="#ED7D31"/>
<circle cx="458.07" cy="383.57" r="1.8" fill="#ED7D31"/>
<circle cx="463.02" cy="373.54" r="1.8" fill="#ED7D31"/>
<circle cx="467.97" cy="364.43" r="1.8" fill="#ED7D31"/>
<circle cx="472.92" cy="356.39" r="1.8" fill="#ED7D31"/>
<circle cx="477.86" cy="349.14" r="1.8" fill="#ED7D31"/>
<circle cx="482.81" cy="344.62" r="1.8" fill="#ED7D31"/>
<circle cx="487.76" cy="341.55" r="1.8" fill="#ED7D31"/>
<circle cx="492.71" cy="338.28" r="1.8" fill="#ED7D31"/>
<circle cx="497.66" cy="337.03" r="1.8" fill="#ED7D31"/>
<circle cx="502.61" cy="333.76" r="1.8" fill="#ED7D31"/>
<circle cx="507.56" cy="331.58" r="1.8" fill="#ED7D31"/>
<circle cx="512.51" cy="331.05" r="1.8" fill="#ED7D31"/>
<circle cx="517.46" cy="331.05" r="1.8" fill="#ED7D31"/>
<circle cx="522.40" cy="332.85" r="1.8" fill="#ED7D31"/>
<circle cx="527.35" cy="332.85" r="1.8" fill="#ED7D31"/>
<circle cx="532.30" cy="332.32" r="1.8" fill="#ED7D31"/>
<circle cx="537.25" cy="331.58" r="1.8" fill="#ED7D31"/>
<circle cx="542.20" cy="332.85" r="1.8" fill="#ED7D31"/>
<polyline points="324.45,437.50 329.40,436.12 334.35,435.56 339.30,435.84 344.24,435.56 349.19,435.28 354.14,435.01 359.09,434.45 364.04,434.73 368.99,435.01 373.94,435.28 378.89,435.01 383.84,435.28 388.78,435.56 393.73,435.28 398.68,435.01 403.63,435.28 408.58,435.01 413.53,434.73 418.48,434.45 423.43,434.18 428.38,433.62 433.32,432.79 438.27,431.13 443.22,428.91 448.17,425.48 453.12,420.88 458.07,410.91 463.02,398.14 467.97,387.20 472.92,377.17 477.86,370.80 482.81,361.69 487.76,358.19 492.71,352.24 497.66,348.25 502.61,344.98 507.56,341.91 512.51,340.63 517.46,337.03 522.40,334.68 527.35,334.68 532.30,333.76 537.25,330.49 542.20,332.85" fill="none" stroke="#A5A5A5" stroke-width="1.15" stroke-linejoin="round"/>
<circle cx="324.45" cy="437.50" r="1.8" fill="#A5A5A5"/>
<circle cx="329.40" cy="436.12" r="1.8" fill="#A5A5A5"/>
<circle cx="334.35" cy="435.56" r="1.8" fill="#A5A5A5"/>
<circle cx="339.30" cy="435.84" r="1.8" fill="#A5A5A5"/>
<circle cx="344.24" cy="435.56" r="1.8" fill="#A5A5A5"/>
<circle cx="349.19" cy="435.28" r="1.8" fill="#A5A5A5"/>
<circle cx="354.14" cy="435.01" r="1.8" fill="#A5A5A5"/>
<circle cx="359.09" cy="434.45" r="1.8" fill="#A5A5A5"/>
<circle cx="364.04" cy="434.73" r="1.8" fill="#A5A5A5"/>
<circle cx="368.99" cy="435.01" r="1.8" fill="#A5A5A5"/>
<circle cx="373.94" cy="435.28" r="1.8" fill="#A5A5A5"/>
<circle cx="378.89" cy="435.01" r="1.8" fill="#A5A5A5"/>
<circle cx="383.84" cy="435.28" r="1.8" fill="#A5A5A5"/>
<circle cx="388.78" cy="435.56" r="1.8" fill="#A5A5A5"/>
<circle cx="393.73" cy="435.28" r="1.8" fill="#A5A5A5"/>
<circle cx="398.68" cy="435.01" r="1.8" fill="#A5A5A5"/>
<circle cx="403.63" cy="435.28" r="1.8" fill="#A5A5A5"/>
<circle cx="408.58" cy="435.01" r="1.8" fill="#A5A5A5"/>
<circle cx="413.53" cy="434.73" r="1.8" fill="#A5A5A5"/>
<circle cx="418.48" cy="434.45" r="1.8" fill="#A5A5A5"/>
<circle cx="423.43" cy="434.18" r="1.8" fill="#A5A5A5"/>
<circle cx="428.38" cy="433.62" r="1.8" fill="#A5A5A5"/>
<circle cx="433.32" cy="432.79" r="1.8" fill="#A5A5A5"/>
<circle cx="438.27" cy="431.13" r="1.8" fill="#A5A5A5"/>
<circle cx="443.22" cy="428.91" r="1.8" fill="#A5A5A5"/>
<circle cx="448.17" cy="425.48" r="1.8" fill="#A5A5A5"/>
<circle cx="453.12" cy="420.88" r="1.8" fill="#A5A5A5"/>
<circle cx="458.07" cy="410.91" r="1.8" fill="#A5A5A5"/>
<circle cx="463.02" cy="398.14" r="1.8" fill="#A5A5A5"/>
<circle cx="467.97" cy="387.20" r="1.8" fill="#A5A5A5"/>
<circle cx="472.92" cy="377.17" r="1.8" fill="#A5A5A5"/>
<circle cx="477.86" cy="370.80" r="1.8" fill="#A5A5A5"/>
<circle cx="482.81" cy="361.69" r="1.8" fill="#A5A5A5"/>
<circle cx="487.76" cy="358.19" r="1.8" fill="#A5A5A5"/>
<circle cx="492.71" cy="352.24" r="1.8" fill="#A5A5A5"/>
<circle cx="497.66" cy="348.25" r="1.8" fill="#A5A5A5"/>
<circle cx="502.61" cy="344.98" r="1.8" fill="#A5A5A5"/>
<circle cx="507.56" cy="341.91" r="1.8" fill="#A5A5A5"/>
<circle cx="512.51" cy="340.63" r="1.8" fill="#A5A5A5"/>
<circle cx="517.46" cy="337.03" r="1.8" fill="#A5A5A5"/>
<circle cx="522.40" cy="334.68" r="1.8" fill="#A5A5A5"/>
<circle cx="527.35" cy="334.68" r="1.8" fill="#A5A5A5"/>
<circle cx="532.30" cy="333.76" r="1.8" fill="#A5A5A5"/>
<circle cx="537.25" cy="330.49" r="1.8" fill="#A5A5A5"/>
<circle cx="542.20" cy="332.85" r="1.8" fill="#A5A5A5"/>
<polyline points="324.45,437.50 329.40,435.84 334.35,436.12 339.30,435.01 344.24,434.73 349.19,434.45 354.14,434.73 359.09,434.45 364.04,433.35 368.99,434.18 373.94,434.45 378.89,434.18 383.84,433.90 388.78,434.45 393.73,434.18 398.68,433.90 403.63,432.40 408.58,431.30 413.53,432.76 418.48,431.49 423.43,432.40 428.38,431.85 433.32,431.85 438.27,428.75 443.22,427.67 448.17,424.56 453.12,418.19 458.07,408.17 463.02,397.22 467.97,385.37 472.92,373.54 477.86,362.60 482.81,353.68 487.76,349.14 492.71,342.82 497.66,337.39 502.61,332.32 507.56,328.33 512.51,324.71 517.46,321.44 522.40,317.48 527.35,316.56 532.30,313.49 537.25,314.76 542.20,312.05" fill="none" stroke="#FFC000" stroke-width="1.15" stroke-linejoin="round"/>
<circle cx="324.45" cy="437.50" r="1.8" fill="#FFC000"/>
<circle cx="329.40" cy="435.84" r="1.8" fill="#FFC000"/>
<circle cx="334.35" cy="436.12" r="1.8" fill="#FFC000"/>
<circle cx="339.30" cy="435.01" r="1.8" fill="#FFC000"/>
<circle cx="344.24" cy="434.73" r="1.8" fill="#FFC000"/>
<circle cx="349.19" cy="434.45" r="1.8" fill="#FFC000"/>
<circle cx="354.14" cy="434.73" r="1.8" fill="#FFC000"/>
<circle cx="359.09" cy="434.45" r="1.8" fill="#FFC000"/>
<circle cx="364.04" cy="433.35" r="1.8" fill="#FFC000"/>
<circle cx="368.99" cy="434.18" r="1.8" fill="#FFC000"/>
<circle cx="373.94" cy="434.45" r="1.8" fill="#FFC000"/>
<circle cx="378.89" cy="434.18" r="1.8" fill="#FFC000"/>
<circle cx="383.84" cy="433.90" r="1.8" fill="#FFC000"/>
<circle cx="388.78" cy="434.45" r="1.8" fill="#FFC000"/>
<circle cx="393.73" cy="434.18" r="1.8" fill="#FFC000"/>
<circle cx="398.68" cy="433.90" r="1.8" fill="#FFC000"/>
<circle cx="403.63" cy="432.40" r="1.8" fill="#FFC000"/>
<circle cx="408.58" cy="431.30" r="1.8" fill="#FFC000"/>
<circle cx="413.53" cy="432.76" r="1.8" fill="#FFC000"/>
<circle cx="418.48" cy="431.49" r="1.8" fill="#FFC000"/>
<circle cx="423.43" cy="432.40" r="1.8" fill="#FFC000"/>
<circle cx="428.38" cy="431.85" r="1.8" fill="#FFC000"/>
<circle cx="433.32" cy="431.85" r="1.8" fill="#FFC000"/>
<circle cx="438.27" cy="428.75" r="1.8" fill="#FFC000"/>
<circle cx="443.22" cy="427.67" r="1.8" fill="#FFC000"/>
<circle cx="448.17" cy="424.56" r="1.8" fill="#FFC000"/>
<circle cx="453.12" cy="418.19" r="1.8" fill="#FFC000"/>
<circle cx="458.07" cy="408.17" r="1.8" fill="#FFC000"/>
<circle cx="463.02" cy="397.22" r="1.8" fill="#FFC000"/>
<circle cx="467.97" cy="385.37" r="1.8" fill="#FFC000"/>
<circle cx="472.92" cy="373.54" r="1.8" fill="#FFC000"/>
<circle cx="477.86" cy="362.60" r="1.8" fill="#FFC000"/>
<circle cx="482.81" cy="353.68" r="1.8" fill="#FFC000"/>
<circle cx="487.76" cy="349.14" r="1.8" fill="#FFC000"/>
<circle cx="492.71" cy="342.82" r="1.8" fill="#FFC000"/>
<circle cx="497.66" cy="337.39" r="1.8" fill="#FFC000"/>
<circle cx="502.61" cy="332.32" r="1.8" fill="#FFC000"/>
<circle cx="507.56" cy="328.33" r="1.8" fill="#FFC000"/>
<circle cx="512.51" cy="324.71" r="1.8" fill="#FFC000"/>
<circle cx="517.46" cy="321.44" r="1.8" fill="#FFC000"/>
<circle cx="522.40" cy="317.48" r="1.8" fill="#FFC000"/>
<circle cx="527.35" cy="316.56" r="1.8" fill="#FFC000"/>
<circle cx="532.30" cy="313.49" r="1.8" fill="#FFC000"/>
<circle cx="537.25" cy="314.76" r="1.8" fill="#FFC000"/>
<circle cx="542.20" cy="312.05" r="1.8" fill="#FFC000"/>
<polyline points="324.45,437.50 329.40,435.84 334.35,434.45 339.30,436.67 344.24,436.67 349.19,436.39 354.14,436.67 359.09,436.95 364.04,436.12 368.99,436.67 373.94,436.39 378.89,436.95 383.84,436.95 388.78,436.67 393.73,436.67 398.68,436.39 403.63,436.39 408.58,436.12 413.53,435.84 418.48,436.12 423.43,435.84 428.38,435.56 433.32,435.28 438.27,434.23 443.22,431.85 448.17,427.31 453.12,421.82 458.07,412.71 463.02,402.68 467.97,390.85 472.92,378.08 477.86,367.53 482.81,358.19 487.76,353.32 492.71,346.42 497.66,341.91 502.61,337.75 507.56,333.76 512.51,331.58 517.46,329.77 522.40,327.97 527.35,325.62 532.30,323.79 537.25,325.07 542.20,324.35" fill="none" stroke="#5B9BD5" stroke-width="1.15" stroke-linejoin="round"/>
<circle cx="324.45" cy="437.50" r="1.8" fill="#5B9BD5"/>
<circle cx="329.40" cy="435.84" r="1.8" fill="#5B9BD5"/>
<circle cx="334.35" cy="434.45" r="1.8" fill="#5B9BD5"/>
<circle cx="339.30" cy="436.67" r="1.8" fill="#5B9BD5"/>
<circle cx="344.24" cy="436.67" r="1.8" fill="#5B9BD5"/>
<circle cx="349.19" cy="436.39" r="1.8" fill="#5B9BD5"/>
<circle cx="354.14" cy="436.67" r="1.8" fill="#5B9BD5"/>
<circle cx="359.09" cy="436.95" r="1.8" fill="#5B9BD5"/>
<circle cx="364.04" cy="436.12" r="1.8" fill="#5B9BD5"/>
<circle cx="368.99" cy="436.67" r="1.8" fill="#5B9BD5"/>
<circle cx="373.94" cy="436.39" r="1.8" fill="#5B9BD5"/>
<circle cx="378.89" cy="436.95" r="1.8" fill="#5B9BD5"/>
<circle cx="383.84" cy="436.95" r="1.8" fill="#5B9BD5"/>
<circle cx="388.78" cy="436.67" r="1.8" fill="#5B9BD5"/>
<circle cx="393.73" cy="436.67" r="1.8" fill="#5B9BD5"/>
<circle cx="398.68" cy="436.39" r="1.8" fill="#5B9BD5"/>
<circle cx="403.63" cy="436.39" r="1.8" fill="#5B9BD5"/>
<circle cx="408.58" cy="436.12" r="1.8" fill="#5B9BD5"/>
<circle cx="413.53" cy="435.84" r="1.8" fill="#5B9BD5"/>
<circle cx="418.48" cy="436.12" r="1.8" fill="#5B9BD5"/>
<circle cx="423.43" cy="435.84" r="1.8" fill="#5B9BD5"/>
<circle cx="428.38" cy="435.56" r="1.8" fill="#5B9BD5"/>
<circle cx="433.32" cy="435.28" r="1.8" fill="#5B9BD5"/>
<circle cx="438.27" cy="434.23" r="1.8" fill="#5B9BD5"/>
<circle cx="443.22" cy="431.85" r="1.8" fill="#5B9BD5"/>
<circle cx="448.17" cy="427.31" r="1.8" fill="#5B9BD5"/>
<circle cx="453.12" cy="421.82" r="1.8" fill="#5B9BD5"/>
<circle cx="458.07" cy="412.71" r="1.8" fill="#5B9BD5"/>
<circle cx="463.02" cy="402.68" r="1.8" fill="#5B9BD5"/>
<circle cx="467.97" cy="390.85" r="1.8" fill="#5B9BD5"/>
<circle cx="472.92" cy="378.08" r="1.8" fill="#5B9BD5"/>
<circle cx="477.86" cy="367.53" r="1.8" fill="#5B9BD5"/>
<circle cx="482.81" cy="358.19" r="1.8" fill="#5B9BD5"/>
<circle cx="487.76" cy="353.32" r="1.8" fill="#5B9BD5"/>
<circle cx="492.71" cy="346.42" r="1.8" fill="#5B9BD5"/>
<circle cx="497.66" cy="341.91" r="1.8" fill="#5B9BD5"/>
<circle cx="502.61" cy="337.75" r="1.8" fill="#5B9BD5"/>
<circle cx="507.56" cy="333.76" r="1.8" fill="#5B9BD5"/>
<circle cx="512.51" cy="331.58" r="1.8" fill="#5B9BD5"/>
<circle cx="517.46" cy="329.77" r="1.8" fill="#5B9BD5"/>
<circle cx="522.40" cy="327.97" r="1.8" fill="#5B9BD5"/>
<circle cx="527.35" cy="325.62" r="1.8" fill="#5B9BD5"/>
<circle cx="532.30" cy="323.79" r="1.8" fill="#5B9BD5"/>
<circle cx="537.25" cy="325.07" r="1.8" fill="#5B9BD5"/>
<circle cx="542.20" cy="324.35" r="1.8" fill="#5B9BD5"/>
<polyline points="324.45,437.50 329.40,432.57 334.35,391.57 339.30,424.92 344.24,426.20 349.19,421.66 354.14,421.30 359.09,423.46 364.04,423.46 368.99,431.68 373.94,427.67 378.89,428.58 383.84,428.03 388.78,437.14 393.73,436.95 398.68,437.22 403.63,437.08 408.58,437.22 413.53,437.22 418.48,437.22 423.43,437.22 428.38,437.22 433.32,437.22 438.27,437.22 443.22,436.78 448.17,432.76 453.12,429.11 458.07,422.74 463.02,413.62 467.97,403.98 472.92,394.12 477.86,387.20 482.81,377.72 487.76,374.45 492.71,369.88 497.66,363.87 502.61,359.11 507.56,355.12 512.51,354.59 517.46,351.49 522.40,348.61 527.35,349.14 532.30,347.89 537.25,346.42 542.20,343.18" fill="none" stroke="#70AD47" stroke-width="1.15" stroke-linejoin="round"/>
<circle cx="324.45" cy="437.50" r="1.8" fill="#70AD47"/>
<circle cx="329.40" cy="432.57" r="1.8" fill="#70AD47"/>
<circle cx="334.35" cy="391.57" r="1.8" fill="#70AD47"/>
<circle cx="339.30" cy="424.92" r="1.8" fill="#70AD47"/>
<circle cx="344.24" cy="426.20" r="1.8" fill="#70AD47"/>
<circle cx="349.19" cy="421.66" r="1.8" fill="#70AD47"/>
<circle cx="354.14" cy="421.30" r="1.8" fill="#70AD47"/>
<circle cx="359.09" cy="423.46" r="1.8" fill="#70AD47"/>
<circle cx="364.04" cy="423.46" r="1.8" fill="#70AD47"/>
<circle cx="368.99" cy="431.68" r="1.8" fill="#70AD47"/>
<circle cx="373.94" cy="427.67" r="1.8" fill="#70AD47"/>
<circle cx="378.89" cy="428.58" r="1.8" fill="#70AD47"/>
<circle cx="383.84" cy="428.03" r="1.8" fill="#70AD47"/>
<circle cx="388.78" cy="437.14" r="1.8" fill="#70AD47"/>
<circle cx="393.73" cy="436.95" r="1.8" fill="#70AD47"/>
<circle cx="398.68" cy="437.22" r="1.8" fill="#70AD47"/>
<circle cx="403.63" cy="437.08" r="1.8" fill="#70AD47"/>
<circle cx="408.58" cy="437.22" r="1.8" fill="#70AD47"/>
<circle cx="413.53" cy="437.22" r="1.8" fill="#70AD47"/>
<circle cx="418.48" cy="437.22" r="1.8" fill="#70AD47"/>
<circle cx="423.43" cy="437.22" r="1.8" fill="#70AD47"/>
<circle cx="428.38" cy="437.22" r="1.8" fill="#70AD47"/>
<circle cx="433.32" cy="437.22" r="1.8" fill="#70AD47"/>
<circle cx="438.27" cy="437.22" r="1.8" fill="#70AD47"/>
<circle cx="443.22" cy="436.78" r="1.8" fill="#70AD47"/>
<circle cx="448.17" cy="432.76" r="1.8" fill="#70AD47"/>
<circle cx="453.12" cy="429.11" r="1.8" fill="#70AD47"/>
<circle cx="458.07" cy="422.74" r="1.8" fill="#70AD47"/>
<circle cx="463.02" cy="413.62" r="1.8" fill="#70AD47"/>
<circle cx="467.97" cy="403.98" r="1.8" fill="#70AD47"/>
<circle cx="472.92" cy="394.12" r="1.8" fill="#70AD47"/>
<circle cx="477.86" cy="387.20" r="1.8" fill="#70AD47"/>
<circle cx="482.81" cy="377.72" r="1.8" fill="#70AD47"/>
<circle cx="487.76" cy="374.45" r="1.8" fill="#70AD47"/>
<circle cx="492.71" cy="369.88" r="1.8" fill="#70AD47"/>
<circle cx="497.66" cy="363.87" r="1.8" fill="#70AD47"/>
<circle cx="502.61" cy="359.11" r="1.8" fill="#70AD47"/>
<circle cx="507.56" cy="355.12" r="1.8" fill="#70AD47"/>
<circle cx="512.51" cy="354.59" r="1.8" fill="#70AD47"/>
<circle cx="517.46" cy="351.49" r="1.8" fill="#70AD47"/>
<circle cx="522.40" cy="348.61" r="1.8" fill="#70AD47"/>
<circle cx="527.35" cy="349.14" r="1.8" fill="#70AD47"/>
<circle cx="532.30" cy="347.89" r="1.8" fill="#70AD47"/>
<circle cx="537.25" cy="346.42" r="1.8" fill="#70AD47"/>
<circle cx="542.20" cy="343.18" r="1.8" fill="#70AD47"/>
<line x1="364" y1="307.0" x2="376" y2="307.0" stroke="#4472C4" stroke-width="1.15"/>
<circle cx="370" cy="307.0" r="1.8" fill="#4472C4"/>
<text x="377.5" y="309.052" font-size="5.7" fill="#595959" font-weight="normal" text-anchor="start" textLength="38" lengthAdjust="spacingAndGlyphs" >200k Copies-FAM</text>
<line x1="364" y1="321.5" x2="376" y2="321.5" stroke="#ED7D31" stroke-width="1.15"/>
<circle cx="370" cy="321.5" r="1.8" fill="#ED7D31"/>
<text x="377.5" y="323.552" font-size="5.7" fill="#595959" font-weight="normal" text-anchor="start" textLength="35.5" lengthAdjust="spacingAndGlyphs" >20k Copies-FAM</text>
<line x1="364" y1="336.0" x2="376" y2="336.0" stroke="#A5A5A5" stroke-width="1.15"/>
<circle cx="370" cy="336.0" r="1.8" fill="#A5A5A5"/>
<text x="377.5" y="338.052" font-size="5.7" fill="#595959" font-weight="normal" text-anchor="start" textLength="33" lengthAdjust="spacingAndGlyphs" >2k Copies-FAM</text>
<line x1="364" y1="350.5" x2="376" y2="350.5" stroke="#FFC000" stroke-width="1.15"/>
<circle cx="370" cy="350.5" r="1.8" fill="#FFC000"/>
<text x="377.5" y="352.552" font-size="5.7" fill="#595959" font-weight="normal" text-anchor="start" textLength="35.5" lengthAdjust="spacingAndGlyphs" >200 Copies-FAM</text>
<line x1="364" y1="365.1" x2="376" y2="365.1" stroke="#5B9BD5" stroke-width="1.15"/>
<circle cx="370" cy="365.1" r="1.8" fill="#5B9BD5"/>
<text x="377.5" y="367.15200000000004" font-size="5.7" fill="#595959" font-weight="normal" text-anchor="start" textLength="33" lengthAdjust="spacingAndGlyphs" >20 Copies-FAM</text>
<line x1="364" y1="379.7" x2="376" y2="379.7" stroke="#70AD47" stroke-width="1.15"/>
<circle cx="370" cy="379.7" r="1.8" fill="#70AD47"/>
<text x="377.5" y="381.752" font-size="5.7" fill="#595959" font-weight="normal" text-anchor="start" textLength="30.5" lengthAdjust="spacingAndGlyphs" >2 Copies-FAM</text>
<text x="0" y="0" font-size="7.8" fill="#4a4a4a" font-weight="bold" text-anchor="middle" textLength="68" lengthAdjust="spacingAndGlyphs" transform="translate(298.9,360.3) rotate(-90)">Relat. Intensity (rfu)</text>
<text x="423.5" y="455.8" font-size="7.2" fill="#4a4a4a" font-weight="bold" text-anchor="middle" textLength="49" lengthAdjust="spacingAndGlyphs" >Cycle Number</text>
</svg>
</body></html>
